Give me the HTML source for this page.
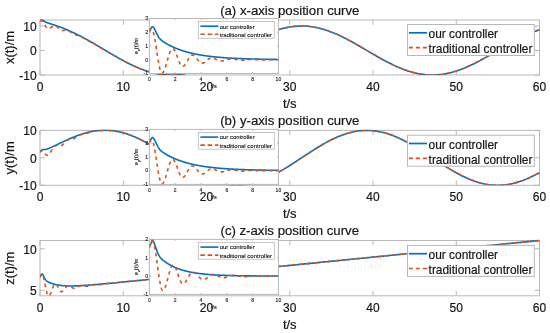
<!DOCTYPE html>
<html><head><meta charset="utf-8"><title>position curves</title><style>html,body{margin:0;padding:0;background:#fff;}svg{display:block;}</style></head><body>
<svg width="550" height="333" viewBox="0 0 550 333" font-family='"Liberation Sans", Arial, Helvetica, sans-serif'>
<defs><clipPath id="cm0"><rect x="40.00" y="19.00" width="499.50" height="56.00"/></clipPath><clipPath id="ci0"><rect x="149.40" y="18.50" width="129.00" height="55.00"/></clipPath><clipPath id="cm1"><rect x="40.00" y="129.40" width="499.50" height="55.90"/></clipPath><clipPath id="ci1"><rect x="149.40" y="129.40" width="129.00" height="55.00"/></clipPath><clipPath id="cm2"><rect x="40.00" y="239.50" width="499.50" height="56.30"/></clipPath><clipPath id="ci2"><rect x="149.40" y="239.40" width="129.00" height="55.00"/></clipPath></defs>
<rect width="550" height="333" fill="#fff"/>
<rect x="40.00" y="20.00" width="499.50" height="55.00" fill="none" stroke="#b8b8b8" stroke-width="1.00"/>
<path d="M40.00,75.00V70.20M40.00,20.00V24.80M123.25,75.00V70.20M123.25,20.00V24.80M206.50,75.00V70.20M206.50,20.00V24.80M289.75,75.00V70.20M289.75,20.00V24.80M373.00,75.00V70.20M373.00,20.00V24.80M456.25,75.00V70.20M456.25,20.00V24.80M539.50,75.00V70.20M539.50,20.00V24.80M40.00,75.00H44.80M539.50,75.00H534.70M40.00,50.50H44.80M539.50,50.50H534.70M40.00,26.00H44.80M539.50,26.00H534.70" stroke="#b8b8b8" stroke-width="1.00" fill="none"/>
<g clip-path="url(#cm0)">
<polyline points="40.00,20.56 40.17,20.56 40.33,20.54 40.50,20.51 40.67,20.48 40.83,20.43 41.00,20.38 41.17,20.32 41.33,20.27 41.50,20.22 41.66,20.17 41.83,20.15 42.00,20.14 42.16,20.15 42.33,20.18 42.50,20.24 42.66,20.30 42.83,20.36 43.00,20.44 43.16,20.52 43.33,20.61 43.50,20.70 43.66,20.80 43.83,20.90 44.00,21.01 44.16,21.11 44.33,21.22 44.50,21.33 44.66,21.44 44.83,21.55 44.99,21.65 45.16,21.75 45.33,21.85 45.49,21.95 45.66,22.04 45.83,22.13 45.99,22.22 46.16,22.30 46.33,22.38 46.49,22.46 46.66,22.53 46.83,22.61 46.99,22.67 47.16,22.74 47.33,22.80 47.49,22.86 47.66,22.92 47.83,22.98 47.99,23.04 48.16,23.09 48.33,23.15 48.49,23.20 48.66,23.25 48.82,23.31 48.99,23.36 49.16,23.41 49.32,23.46 49.49,23.52 49.66,23.57 49.82,23.62 49.99,23.67 50.16,23.72 50.32,23.77 50.49,23.83 50.66,23.88 50.82,23.93 50.99,23.98 51.16,24.03 51.32,24.09 51.49,24.14 51.66,24.19 51.82,24.24 51.99,24.30 52.15,24.35 52.32,24.40 52.49,24.45 52.65,24.51 52.82,24.56 52.99,24.61 53.15,24.67 53.32,24.72 53.49,24.78 53.65,24.83 53.82,24.89 53.99,24.94 54.15,24.99 54.32,25.05 54.49,25.10 54.65,25.16 54.82,25.22 54.98,25.27 55.15,25.33 55.32,25.38 55.48,25.44 55.65,25.50 55.82,25.55 55.98,25.61 56.15,25.67 56.32,25.72 56.48,25.78 56.65,25.84 56.82,25.89 56.98,25.95 57.15,26.01 57.32,26.07 57.48,26.13 57.65,26.19 57.82,26.24 57.98,26.30 58.15,26.36 58.31,26.42 58.48,26.48 58.65,26.54 58.81,26.60 58.98,26.66 59.15,26.72 59.31,26.78 59.48,26.84 59.65,26.90 59.81,26.96 59.98,27.02 60.15,27.09 60.31,27.15 60.48,27.21 60.65,27.27 60.81,27.33 60.98,27.40 61.15,27.46 61.31,27.52 61.48,27.58 61.64,27.65 61.81,27.71 61.98,27.77 62.14,27.84 62.31,27.90 62.48,27.97 62.64,28.03 62.81,28.10 62.98,28.16 63.14,28.23 63.31,28.29 63.48,28.36 63.64,28.42 63.81,28.49 63.98,28.55 64.14,28.62 64.31,28.69 64.48,28.75 64.64,28.82 64.81,28.89 64.97,28.96 65.14,29.02 65.31,29.09 65.47,29.16 65.64,29.23 65.81,29.30 65.97,29.37 66.14,29.43 66.31,29.50 66.47,29.57 66.64,29.64 66.81,29.71 66.97,29.78 67.14,29.85 67.31,29.92 67.47,29.99 67.64,30.06 67.81,30.13 67.97,30.21 68.14,30.28 68.31,30.35 68.47,30.42 68.64,30.49 68.80,30.57 68.97,30.64 69.14,30.71 69.30,30.78 69.47,30.86 69.64,30.93 69.80,31.00 69.97,31.08 70.14,31.15 70.30,31.23 70.47,31.30 70.64,31.37 70.80,31.45 70.97,31.52 71.14,31.60 71.30,31.67 71.47,31.75 71.64,31.83 71.80,31.90 71.97,31.98 72.13,32.06 72.30,32.13 72.47,32.21 72.63,32.29 72.80,32.36 72.97,32.44 73.13,32.52 73.30,32.60 73.47,32.67 73.63,32.75 73.80,32.83 73.97,32.91 74.13,32.99 74.30,33.07 74.47,33.15 74.63,33.23 74.80,33.31 74.97,33.39 75.13,33.47 75.30,33.55 75.46,33.63 75.63,33.71 75.80,33.79 75.96,33.87 76.13,33.95 76.30,34.03 76.46,34.11 76.63,34.20 76.80,34.28 76.96,34.36 77.13,34.44 77.30,34.52 77.46,34.61 77.63,34.69 77.80,34.77 77.96,34.86 78.13,34.94 78.30,35.02 78.46,35.11 78.63,35.19 78.79,35.28 78.96,35.36 79.13,35.45 79.29,35.53 79.46,35.62 79.63,35.70 79.79,35.79 79.96,35.87 80.13,35.96 80.29,36.04 80.46,36.13 80.63,36.22 80.79,36.30 80.96,36.39 81.13,36.48 81.29,36.56 81.46,36.65 81.62,36.74 81.79,36.82 81.96,36.91 82.12,37.00 82.29,37.09 82.46,37.17 82.62,37.26 82.79,37.35 82.96,37.44 83.12,37.53 83.29,37.62 83.46,37.71 83.62,37.80 83.79,37.89 83.96,37.97 84.12,38.06 84.29,38.15 84.46,38.24 84.62,38.33 84.79,38.42 84.96,38.51 85.12,38.61 85.29,38.70 85.45,38.79 85.62,38.88 85.79,38.97 85.95,39.06 86.12,39.15 86.29,39.24 86.45,39.33 86.62,39.43 86.79,39.52 86.95,39.61 87.12,39.70 87.29,39.80 87.45,39.89 87.62,39.98 87.79,40.07 87.95,40.17 88.12,40.26 88.28,40.35 88.45,40.45 88.62,40.54 88.78,40.63 88.95,40.73 89.12,40.82 89.28,40.91 89.45,41.01 89.62,41.10 89.78,41.20 89.95,41.29 90.12,41.38 90.28,41.48 90.45,41.57 90.62,41.67 90.78,41.76 90.95,41.86 91.12,41.95 91.28,42.05 91.45,42.14 91.62,42.24 91.78,42.34 91.95,42.43 92.11,42.53 92.28,42.62 92.45,42.72 92.61,42.81 92.78,42.91 92.95,43.01 93.11,43.10 93.28,43.20 93.45,43.30 93.61,43.39 93.78,43.49 93.95,43.59 94.11,43.68 94.28,43.78 94.45,43.88 94.61,43.97 94.78,44.07 94.95,44.17 95.11,44.27 95.28,44.36 95.44,44.46 95.61,44.56 95.78,44.66 95.94,44.75 96.11,44.85 96.28,44.95 96.44,45.05 96.61,45.14 96.78,45.24 96.94,45.34 97.11,45.44 97.28,45.54 97.44,45.63 97.61,45.73 97.78,45.83 97.94,45.93 98.11,46.03 98.28,46.13 98.44,46.23 98.61,46.32 98.77,46.42 98.94,46.52 99.11,46.62 99.27,46.72 99.44,46.82 99.61,46.92 99.77,47.02 99.94,47.11 100.11,47.21 100.27,47.31 100.44,47.41 100.61,47.51 100.77,47.61 100.94,47.71 101.11,47.81 101.27,47.91 101.44,48.01 101.61,48.10 101.77,48.20 101.94,48.30 102.10,48.40 102.27,48.50 102.44,48.60 102.60,48.70 102.77,48.80 102.94,48.90 103.10,49.00 103.27,49.10 103.44,49.20 103.60,49.30 103.77,49.40 103.94,49.49 104.10,49.59 104.27,49.69 104.44,49.79 104.60,49.89 104.77,49.99 104.94,50.09 105.10,50.19 105.27,50.29 105.43,50.39 105.60,50.49 105.77,50.59 105.93,50.69 106.10,50.79 106.27,50.89 106.43,50.98 106.60,51.08 106.77,51.18 106.93,51.28 107.10,51.38 107.27,51.48 107.43,51.58 107.60,51.68 107.77,51.78 107.93,51.88 108.10,51.98 108.27,52.07 108.43,52.17 108.60,52.27 108.76,52.37 108.93,52.47 109.10,52.57 109.26,52.67 109.43,52.77 109.60,52.86 109.76,52.96 109.93,53.06 110.10,53.16 110.26,53.26 110.43,53.36 110.60,53.45 110.76,53.55 110.93,53.65 111.10,53.75 111.26,53.85 111.43,53.94 111.59,54.04 111.76,54.14 111.93,54.24 112.09,54.34 112.26,54.43 112.43,54.53 112.59,54.63 112.76,54.73 112.93,54.82 113.09,54.92 113.26,55.02 113.43,55.11 113.59,55.21 113.76,55.31 113.93,55.40 114.09,55.50 114.26,55.60 114.43,55.69 114.59,55.79 114.76,55.89 114.92,55.98 115.09,56.08 115.26,56.18 115.42,56.27 115.59,56.37 115.76,56.46 115.92,56.56 116.09,56.65 116.26,56.75 116.42,56.85 116.59,56.94 116.76,57.04 116.92,57.13 117.09,57.23 117.26,57.32 117.42,57.41 117.59,57.51 117.76,57.60 117.92,57.70 118.09,57.79 118.26,57.89 118.42,57.98 118.59,58.07 118.75,58.17 118.92,58.26 119.09,58.35 119.25,58.45 119.42,58.54 119.59,58.63 119.75,58.73 119.92,58.82 120.09,58.91 120.25,59.00 120.42,59.10 120.59,59.19 120.75,59.28 120.92,59.37 121.09,59.46 121.25,59.56 121.42,59.65 121.59,59.74 121.75,59.83 121.92,59.92 122.08,60.01 122.25,60.10 122.42,60.19 122.58,60.28 122.75,60.37 122.92,60.46 123.08,60.55 123.25,60.64 123.42,60.73 123.58,60.82 123.75,60.91 123.92,61.00 124.08,61.09 124.25,61.18 124.42,61.27 124.58,61.35 124.75,61.44 124.92,61.53 125.08,61.62 125.25,61.71 125.41,61.79 125.58,61.88 125.75,61.97 125.91,62.05 126.08,62.14 126.25,62.23 126.41,62.31 126.58,62.40 126.75,62.49 126.91,62.57 127.08,62.66 127.25,62.74 127.41,62.83 127.58,62.91 127.75,63.00 127.91,63.08 128.08,63.17 128.25,63.25 128.41,63.33 128.58,63.42 128.74,63.50 128.91,63.58 129.08,63.67 129.24,63.75 129.41,63.83 129.58,63.91 129.74,64.00 129.91,64.08 130.08,64.16 130.24,64.24 130.41,64.32 130.58,64.40 130.74,64.48 130.91,64.57 131.08,64.65 131.24,64.73 131.41,64.81 131.57,64.89 131.74,64.96 131.91,65.04 132.07,65.12 132.24,65.20 132.41,65.28 132.57,65.36 132.74,65.44 132.91,65.51 133.07,65.59 133.24,65.67 133.41,65.75 133.57,65.82 133.74,65.90 133.91,65.98 134.07,66.05 134.24,66.13 134.41,66.20 134.57,66.28 134.74,66.35 134.91,66.43 135.07,66.50 135.24,66.58 135.40,66.65 135.57,66.72 135.74,66.80 135.90,66.87 136.07,66.94 136.24,67.02 136.40,67.09 136.57,67.16 136.74,67.23 136.90,67.30 137.07,67.38 137.24,67.45 137.40,67.52 137.57,67.59 137.74,67.66 137.90,67.73 138.07,67.80 138.24,67.87 138.40,67.94 138.57,68.01 138.73,68.07 138.90,68.14 139.07,68.21 139.23,68.28 139.40,68.34 139.57,68.41 139.73,68.48 139.90,68.55 141.56,69.19 143.23,69.81 144.89,70.40 146.56,70.96 148.22,71.48 149.89,71.97 151.55,72.42 153.22,72.84 154.88,73.23 156.55,73.58 158.21,73.89 159.88,74.16 161.54,74.39 163.21,74.59 164.87,74.75 166.54,74.87 168.20,74.95 169.87,74.99 171.53,74.99 173.20,74.95 174.86,74.88 176.53,74.76 178.19,74.61 179.86,74.42 181.52,74.18 183.19,73.92 184.85,73.61 186.52,73.27 188.18,72.89 189.85,72.47 191.51,72.02 193.18,71.53 194.84,71.01 196.51,70.46 198.17,69.88 199.84,69.26 201.50,68.62 203.17,67.94 204.83,67.24 206.50,66.51 208.16,65.76 209.83,64.98 211.49,64.18 213.16,63.36 214.82,62.51 216.49,61.65 218.15,60.77 219.82,59.87 221.48,58.96 223.15,58.03 224.81,57.09 226.48,56.14 228.14,55.19 229.81,54.22 231.47,53.25 233.14,52.27 234.80,51.29 236.47,50.31 238.13,49.34 239.80,48.36 241.46,47.38 243.13,46.41 244.79,45.45 246.46,44.50 248.12,43.55 249.79,42.62 251.45,41.70 253.12,40.79 254.78,39.90 256.45,39.02 258.11,38.17 259.78,37.33 261.44,36.51 263.11,35.72 264.77,34.95 266.44,34.21 268.10,33.49 269.77,32.80 271.43,32.13 273.10,31.50 274.76,30.90 276.43,30.33 278.09,29.79 279.76,29.28 281.42,28.81 283.09,28.37 284.75,27.97 286.42,27.60 288.08,27.27 289.75,26.98 291.41,26.72 293.08,26.51 294.74,26.33 296.41,26.19 298.07,26.09 299.74,26.03 301.40,26.00 303.07,26.02 304.73,26.07 306.40,26.17 308.06,26.30 309.73,26.48 311.39,26.69 313.06,26.93 314.72,27.22 316.39,27.55 318.05,27.91 319.72,28.30 321.38,28.73 323.05,29.20 324.71,29.70 326.38,30.24 328.04,30.80 329.71,31.40 331.37,32.03 333.04,32.69 334.70,33.38 336.37,34.09 338.03,34.83 339.70,35.60 341.36,36.39 343.03,37.20 344.69,38.03 346.36,38.89 348.02,39.76 349.69,40.65 351.35,41.55 353.02,42.47 354.68,43.40 356.35,44.35 358.01,45.30 359.68,46.26 361.34,47.23 363.01,48.20 364.67,49.18 366.34,50.16 368.00,51.14 369.67,52.12 371.33,53.09 373.00,54.07 374.66,55.03 376.33,55.99 377.99,56.94 379.66,57.88 381.32,58.81 382.99,59.73 384.65,60.63 386.32,61.51 387.98,62.38 389.65,63.22 391.31,64.05 392.98,64.86 394.64,65.64 396.31,66.40 397.97,67.13 399.64,67.84 401.30,68.51 402.97,69.16 404.63,69.78 406.30,70.37 407.96,70.93 409.63,71.45 411.29,71.94 412.96,72.40 414.62,72.82 416.29,73.21 417.95,73.56 419.62,73.87 421.28,74.15 422.95,74.38 424.61,74.58 426.28,74.74 427.94,74.87 429.61,74.95 431.27,74.99 432.94,75.00 434.60,74.96 436.27,74.89 437.93,74.78 439.60,74.62 441.26,74.43 442.93,74.21 444.59,73.94 446.26,73.64 447.92,73.30 449.59,72.92 451.25,72.51 452.92,72.06 454.58,71.57 456.25,71.06 457.91,70.51 459.58,69.93 461.24,69.31 462.91,68.67 464.57,68.00 466.24,67.30 467.90,66.57 469.57,65.82 471.23,65.04 472.90,64.24 474.56,63.42 476.23,62.58 477.89,61.72 479.56,60.84 481.22,59.94 482.89,59.03 484.55,58.10 486.22,57.17 487.88,56.22 489.55,55.26 491.21,54.30 492.88,53.33 494.54,52.35 496.21,51.37 497.87,50.39 499.54,49.41 501.20,48.44 502.87,47.46 504.53,46.49 506.20,45.53 507.86,44.57 509.53,43.63 511.19,42.69 512.86,41.77 514.52,40.86 516.19,39.97 517.85,39.09 519.52,38.23 521.18,37.40 522.85,36.58 524.51,35.78 526.18,35.01 527.84,34.27 529.51,33.54 531.17,32.85 532.84,32.19 534.50,31.55 536.17,30.94 537.83,30.37 539.50,29.83" fill="none" stroke="#0072BD" stroke-width="1.60" stroke-linejoin="round"/>
<polyline points="40.00,21.05 40.17,20.96 40.33,20.88 40.50,20.80 40.67,20.73 40.83,20.67 41.00,20.62 41.17,20.59 41.33,20.58 41.50,20.58 41.66,20.61 41.83,20.66 42.00,20.74 42.16,20.84 42.33,20.96 42.50,21.10 42.66,21.27 42.83,21.46 43.00,21.66 43.16,21.89 43.33,22.13 43.50,22.38 43.66,22.65 43.83,22.93 44.00,23.22 44.16,23.52 44.33,23.83 44.50,24.14 44.66,24.46 44.83,24.78 44.99,25.09 45.16,25.41 45.33,25.72 45.49,26.02 45.66,26.32 45.83,26.60 45.99,26.88 46.16,27.14 46.33,27.39 46.49,27.62 46.66,27.83 46.83,28.03 46.99,28.20 47.16,28.36 47.33,28.49 47.49,28.60 47.66,28.69 47.83,28.76 47.99,28.80 48.16,28.82 48.33,28.83 48.49,28.82 48.66,28.81 48.82,28.78 48.99,28.74 49.16,28.69 49.32,28.63 49.49,28.55 49.66,28.47 49.82,28.38 49.99,28.29 50.16,28.18 50.32,28.07 50.49,27.95 50.66,27.82 50.82,27.69 50.99,27.56 51.16,27.43 51.32,27.29 51.49,27.15 51.66,27.02 51.82,26.88 51.99,26.75 52.15,26.62 52.32,26.49 52.49,26.37 52.65,26.25 52.82,26.14 52.99,26.04 53.15,25.94 53.32,25.85 53.49,25.78 53.65,25.71 53.82,25.65 53.99,25.61 54.15,25.57 54.32,25.55 54.49,25.54 54.65,25.54 54.82,25.56 54.98,25.59 55.15,25.63 55.32,25.68 55.48,25.74 55.65,25.81 55.82,25.90 55.98,25.99 56.15,26.09 56.32,26.20 56.48,26.32 56.65,26.45 56.82,26.59 56.98,26.73 57.15,26.88 57.32,27.04 57.48,27.20 57.65,27.36 57.82,27.53 57.98,27.70 58.15,27.87 58.31,28.04 58.48,28.21 58.65,28.38 58.81,28.55 58.98,28.72 59.15,28.88 59.31,29.03 59.48,29.19 59.65,29.33 59.81,29.47 59.98,29.60 60.15,29.73 60.31,29.84 60.48,29.95 60.65,30.05 60.81,30.14 60.98,30.22 61.15,30.28 61.31,30.34 61.48,30.39 61.64,30.43 61.81,30.47 61.98,30.50 62.14,30.52 62.31,30.54 62.48,30.55 62.64,30.55 62.81,30.55 62.98,30.54 63.14,30.53 63.31,30.52 63.48,30.50 63.64,30.48 63.81,30.46 63.98,30.43 64.14,30.40 64.31,30.37 64.48,30.34 64.64,30.31 64.81,30.28 64.97,30.26 65.14,30.23 65.31,30.21 65.47,30.19 65.64,30.17 65.81,30.15 65.97,30.15 66.14,30.14 66.31,30.14 66.47,30.15 66.64,30.16 66.81,30.18 66.97,30.20 67.14,30.24 67.31,30.28 67.47,30.32 67.64,30.38 67.81,30.44 67.97,30.50 68.14,30.57 68.31,30.65 68.47,30.73 68.64,30.82 68.80,30.91 68.97,31.00 69.14,31.10 69.30,31.21 69.47,31.31 69.64,31.42 69.80,31.54 69.97,31.66 70.14,31.77 70.30,31.90 70.47,32.02 70.64,32.14 70.80,32.27 70.97,32.40 71.14,32.52 71.30,32.65 71.47,32.77 71.64,32.90 71.80,33.02 71.97,33.14 72.13,33.26 72.30,33.37 72.47,33.49 72.63,33.59 72.80,33.70 72.97,33.80 73.13,33.90 73.30,34.00 73.47,34.09 73.63,34.17 73.80,34.25 73.97,34.33 74.13,34.40 74.30,34.47 74.47,34.53 74.63,34.59 74.80,34.65 74.97,34.71 75.13,34.76 75.30,34.81 75.46,34.86 75.63,34.90 75.80,34.94 75.96,34.98 76.13,35.02 76.30,35.06 76.46,35.10 76.63,35.13 76.80,35.17 76.96,35.20 77.13,35.24 77.30,35.27 77.46,35.31 77.63,35.34 77.80,35.38 77.96,35.42 78.13,35.47 78.30,35.51 78.46,35.56 78.63,35.61 78.79,35.66 78.96,35.72 79.13,35.78 79.29,35.84 79.46,35.91 79.63,35.98 79.79,36.05 79.96,36.13 80.13,36.21 80.29,36.30 80.46,36.38 80.63,36.47 80.79,36.56 80.96,36.65 81.13,36.74 81.29,36.83 81.46,36.93 81.62,37.02 81.79,37.12 81.96,37.22 82.12,37.32 82.29,37.42 82.46,37.53 82.62,37.63 82.79,37.73 82.96,37.84 83.12,37.94 83.29,38.05 83.46,38.16 83.62,38.26 83.79,38.37 83.96,38.47 84.12,38.58 84.29,38.68 84.46,38.79 84.62,38.89 84.79,38.99 84.96,39.10 85.12,39.20 85.29,39.30 85.45,39.39 85.62,39.49 85.79,39.59 85.95,39.68 86.12,39.78 86.29,39.87 86.45,39.96 86.62,40.05 86.79,40.14 86.95,40.22 87.12,40.31 87.29,40.39 87.45,40.48 87.62,40.56 87.79,40.64 87.95,40.72 88.12,40.80 88.28,40.88 88.45,40.96 88.62,41.03 88.78,41.11 88.95,41.19 89.12,41.26 89.28,41.34 89.45,41.41 89.62,41.49 89.78,41.57 89.95,41.64 90.12,41.72 90.28,41.79 90.45,41.87 90.62,41.95 90.78,42.03 90.95,42.11 91.12,42.19 91.28,42.27 91.45,42.35 91.62,42.43 91.78,42.52 91.95,42.60 92.11,42.69 92.28,42.78 92.45,42.87 92.61,42.96 92.78,43.05 92.95,43.14 93.11,43.24 93.28,43.33 93.45,43.43 93.61,43.53 93.78,43.62 93.95,43.72 94.11,43.82 94.28,43.92 94.45,44.02 94.61,44.12 94.78,44.22 94.95,44.33 95.11,44.43 95.28,44.53 95.44,44.64 95.61,44.74 95.78,44.84 95.94,44.95 96.11,45.05 96.28,45.16 96.44,45.26 96.61,45.37 96.78,45.47 96.94,45.58 97.11,45.68 97.28,45.79 97.44,45.89 97.61,45.99 97.78,46.10 97.94,46.20 98.11,46.30 98.28,46.40 98.44,46.50 98.61,46.61 98.77,46.71 98.94,46.81 99.11,46.90 99.27,47.00 99.44,47.10 99.61,47.20 99.77,47.29 99.94,47.39 100.11,47.49 100.27,47.58 100.44,47.68 100.61,47.77 100.77,47.87 100.94,47.96 101.11,48.05 101.27,48.15 101.44,48.24 101.61,48.33 101.77,48.42 101.94,48.52 102.10,48.61 102.27,48.70 102.44,48.79 102.60,48.89 102.77,48.98 102.94,49.07 103.10,49.16 103.27,49.25 103.44,49.35 103.60,49.44 103.77,49.53 103.94,49.63 104.10,49.72 104.27,49.81 104.44,49.91 104.60,50.00 104.77,50.10 104.94,50.19 105.10,50.29 105.27,50.39 105.43,50.48 105.60,50.58 105.77,50.68 105.93,50.78 106.10,50.87 106.27,50.97 106.43,51.07 106.60,51.17 106.77,51.27 106.93,51.37 107.10,51.47 107.27,51.57 107.43,51.67 107.60,51.77 107.77,51.87 107.93,51.97 108.10,52.07 108.27,52.17 108.43,52.27 108.60,52.37 108.76,52.47 108.93,52.57 109.10,52.67 109.26,52.77 109.43,52.87 109.60,52.97 109.76,53.07 109.93,53.17 110.10,53.27 110.26,53.37 110.43,53.47 110.60,53.57 110.76,53.67 110.93,53.77 111.10,53.87 111.26,53.97 111.43,54.07 111.59,54.16 111.76,54.26 111.93,54.36 112.09,54.46 112.26,54.55 112.43,54.65 112.59,54.75 112.76,54.84 112.93,54.94 113.09,55.04 113.26,55.13 113.43,55.23 113.59,55.32 113.76,55.42 113.93,55.51 114.09,55.61 114.26,55.70 114.43,55.80 114.59,55.89 114.76,55.99 114.92,56.08 115.09,56.17 115.26,56.27 115.42,56.36 115.59,56.46 115.76,56.55 115.92,56.64 116.09,56.74 116.26,56.83 116.42,56.92 116.59,57.02 116.76,57.11 116.92,57.20 117.09,57.30 117.26,57.39 117.42,57.48 117.59,57.57 117.76,57.67 117.92,57.76 118.09,57.85 118.26,57.95 118.42,58.04 118.59,58.13 118.75,58.22 118.92,58.32 119.09,58.41 119.25,58.50 119.42,58.59 119.59,58.69 119.75,58.78 119.92,58.87 120.09,58.96 120.25,59.06 120.42,59.15 120.59,59.24 120.75,59.33 120.92,59.42 121.09,59.51 121.25,59.60 121.42,59.69 121.59,59.79 121.75,59.88 121.92,59.97 122.08,60.06 122.25,60.15 122.42,60.24 122.58,60.33 122.75,60.42 122.92,60.51 123.08,60.60 123.25,60.69 123.42,60.77 123.58,60.86 123.75,60.95 123.92,61.04 124.08,61.13 124.25,61.22 124.42,61.31 124.58,61.39 124.75,61.48 124.92,61.57 125.08,61.66 125.25,61.74 125.41,61.83 125.58,61.92 125.75,62.00 125.91,62.09 126.08,62.18 126.25,62.26 126.41,62.35 126.58,62.44 126.75,62.52 126.91,62.61 127.08,62.69 127.25,62.78 127.41,62.86 127.58,62.95 127.75,63.03 127.91,63.11 128.08,63.20 128.25,63.28 128.41,63.37 128.58,63.45 128.74,63.53 128.91,63.62 129.08,63.70 129.24,63.78 129.41,63.86 129.58,63.95 129.74,64.03 129.91,64.11 130.08,64.19 130.24,64.27 130.41,64.35 130.58,64.43 130.74,64.51 130.91,64.60 131.08,64.68 131.24,64.76 131.41,64.84 131.57,64.91 131.74,64.99 131.91,65.07 132.07,65.15 132.24,65.23 132.41,65.31 132.57,65.39 132.74,65.46 132.91,65.54 133.07,65.62 133.24,65.70 133.41,65.77 133.57,65.85 133.74,65.93 133.91,66.00 134.07,66.08 134.24,66.15 134.41,66.23 134.57,66.30 134.74,66.38 134.91,66.45 135.07,66.53 135.24,66.60 135.40,66.68 135.57,66.75 135.74,66.82 135.90,66.90 136.07,66.97 136.24,67.04 136.40,67.11 136.57,67.19 136.74,67.26 136.90,67.33 137.07,67.40 137.24,67.47 137.40,67.54 137.57,67.61 137.74,67.68 137.90,67.75 138.07,67.82 138.24,67.89 138.40,67.96 138.57,68.03 138.73,68.10 138.90,68.16 139.07,68.23 139.23,68.30 139.40,68.37 139.57,68.43 139.73,68.50 139.90,68.57 141.56,69.21 143.23,69.83 144.89,70.42 146.56,70.97 148.22,71.49 149.89,71.98 151.55,72.44 153.22,72.85 154.88,73.24 156.55,73.58 158.21,73.89 159.88,74.17 161.54,74.40 163.21,74.60 164.87,74.75 166.54,74.87 168.20,74.95 169.87,74.99 171.53,75.00 173.20,74.96 174.86,74.88 176.53,74.77 178.19,74.61 179.86,74.42 181.52,74.19 183.19,73.92 184.85,73.61 186.52,73.27 188.18,72.89 189.85,72.47 191.51,72.02 193.18,71.53 194.84,71.01 196.51,70.46 198.17,69.88 199.84,69.26 201.50,68.62 203.17,67.95 204.83,67.24 206.50,66.51 208.16,65.76 209.83,64.98 211.49,64.18 213.16,63.36 214.82,62.51 216.49,61.65 218.15,60.77 219.82,59.87 221.48,58.96 223.15,58.03 224.81,57.09 226.48,56.14 228.14,55.19 229.81,54.22 231.47,53.25 233.14,52.27 234.80,51.29 236.47,50.31 238.13,49.34 239.80,48.36 241.46,47.38 243.13,46.41 244.79,45.45 246.46,44.50 248.12,43.55 249.79,42.62 251.45,41.70 253.12,40.79 254.78,39.90 256.45,39.02 258.11,38.17 259.78,37.33 261.44,36.51 263.11,35.72 264.77,34.95 266.44,34.21 268.10,33.49 269.77,32.80 271.43,32.13 273.10,31.50 274.76,30.90 276.43,30.33 278.09,29.79 279.76,29.28 281.42,28.81 283.09,28.37 284.75,27.97 286.42,27.60 288.08,27.27 289.75,26.98 291.41,26.72 293.08,26.51 294.74,26.33 296.41,26.19 298.07,26.09 299.74,26.03 301.40,26.00 303.07,26.02 304.73,26.07 306.40,26.17 308.06,26.30 309.73,26.48 311.39,26.69 313.06,26.93 314.72,27.22 316.39,27.55 318.05,27.91 319.72,28.30 321.38,28.73 323.05,29.20 324.71,29.70 326.38,30.24 328.04,30.80 329.71,31.40 331.37,32.03 333.04,32.69 334.70,33.38 336.37,34.09 338.03,34.83 339.70,35.60 341.36,36.39 343.03,37.20 344.69,38.03 346.36,38.89 348.02,39.76 349.69,40.65 351.35,41.55 353.02,42.47 354.68,43.40 356.35,44.35 358.01,45.30 359.68,46.26 361.34,47.23 363.01,48.20 364.67,49.18 366.34,50.16 368.00,51.14 369.67,52.12 371.33,53.09 373.00,54.07 374.66,55.03 376.33,55.99 377.99,56.94 379.66,57.88 381.32,58.81 382.99,59.73 384.65,60.63 386.32,61.51 387.98,62.38 389.65,63.22 391.31,64.05 392.98,64.86 394.64,65.64 396.31,66.40 397.97,67.13 399.64,67.84 401.30,68.51 402.97,69.16 404.63,69.78 406.30,70.37 407.96,70.93 409.63,71.45 411.29,71.94 412.96,72.40 414.62,72.82 416.29,73.21 417.95,73.56 419.62,73.87 421.28,74.15 422.95,74.38 424.61,74.58 426.28,74.74 427.94,74.87 429.61,74.95 431.27,74.99 432.94,75.00 434.60,74.96 436.27,74.89 437.93,74.78 439.60,74.62 441.26,74.43 442.93,74.21 444.59,73.94 446.26,73.64 447.92,73.30 449.59,72.92 451.25,72.51 452.92,72.06 454.58,71.57 456.25,71.06 457.91,70.51 459.58,69.93 461.24,69.31 462.91,68.67 464.57,68.00 466.24,67.30 467.90,66.57 469.57,65.82 471.23,65.04 472.90,64.24 474.56,63.42 476.23,62.58 477.89,61.72 479.56,60.84 481.22,59.94 482.89,59.03 484.55,58.10 486.22,57.17 487.88,56.22 489.55,55.26 491.21,54.30 492.88,53.33 494.54,52.35 496.21,51.37 497.87,50.39 499.54,49.41 501.20,48.44 502.87,47.46 504.53,46.49 506.20,45.53 507.86,44.57 509.53,43.63 511.19,42.69 512.86,41.77 514.52,40.86 516.19,39.97 517.85,39.09 519.52,38.23 521.18,37.40 522.85,36.58 524.51,35.78 526.18,35.01 527.84,34.27 529.51,33.54 531.17,32.85 532.84,32.19 534.50,31.55 536.17,30.94 537.83,30.37 539.50,29.83" fill="none" stroke="#D95319" stroke-width="1.60" stroke-dasharray="3.6,3.6"/>
</g>
<g fill="#161616" stroke="#161616" stroke-width="0.20">
<text x="40.00" y="90.90" font-size="12.00" text-anchor="middle">0</text>
<text x="123.25" y="90.90" font-size="12.00" text-anchor="middle">10</text>
<text x="206.50" y="90.90" font-size="12.00" text-anchor="middle">20</text>
<text x="289.75" y="90.90" font-size="12.00" text-anchor="middle">30</text>
<text x="373.00" y="90.90" font-size="12.00" text-anchor="middle">40</text>
<text x="456.25" y="90.90" font-size="12.00" text-anchor="middle">50</text>
<text x="539.50" y="90.90" font-size="12.00" text-anchor="middle">60</text>
<text x="36.60" y="79.70" font-size="12.00" text-anchor="end">-10</text>
<text x="36.60" y="55.20" font-size="12.00" text-anchor="end">0</text>
<text x="36.60" y="30.70" font-size="12.00" text-anchor="end">10</text>
<text x="289.75" y="107.90" font-size="13.00" text-anchor="middle">t/s</text>
<text x="289.75" y="14.60" font-size="13.20" text-anchor="middle">(a) x-axis position curve</text>
<text transform="translate(14.3,47.50) rotate(-90)" font-size="13" text-anchor="middle">x(t)/m</text>
</g>
<rect x="149.40" y="18.50" width="129.00" height="55.00" fill="#fff" stroke="#b8b8b8" stroke-width="1.00"/>
<path d="M149.40,73.50V72.10M149.40,18.50V19.90M175.20,73.50V72.10M175.20,18.50V19.90M201.00,73.50V72.10M201.00,18.50V19.90M226.80,73.50V72.10M226.80,18.50V19.90M252.60,73.50V72.10M252.60,18.50V19.90M278.40,73.50V72.10M278.40,18.50V19.90M149.40,73.50H150.80M278.40,73.50H277.00M149.40,59.75H150.80M278.40,59.75H277.00M149.40,46.00H150.80M278.40,46.00H277.00M149.40,32.25H150.80M278.40,32.25H277.00M149.40,18.50H150.80M278.40,18.50H277.00" stroke="#b8b8b8" stroke-width="1.00" fill="none"/>
<g clip-path="url(#ci0)">
<polyline points="149.40,29.22 149.53,29.21 149.66,29.19 149.79,29.15 149.92,29.10 150.05,29.03 150.17,28.94 150.30,28.84 150.43,28.73 150.56,28.60 150.69,28.46 150.82,28.31 150.95,28.15 151.08,27.99 151.21,27.82 151.34,27.65 151.46,27.49 151.59,27.33 151.72,27.18 151.85,27.05 151.98,26.93 152.11,26.83 152.24,26.75 152.37,26.70 152.50,26.67 152.62,26.68 152.75,26.71 152.88,26.78 153.01,26.89 153.14,27.01 153.27,27.15 153.40,27.29 153.53,27.45 153.66,27.61 153.79,27.79 153.91,27.98 154.04,28.17 154.17,28.38 154.30,28.59 154.43,28.81 154.56,29.04 154.69,29.28 154.82,29.52 154.95,29.77 155.08,30.03 155.21,30.28 155.33,30.55 155.46,30.81 155.59,31.08 155.72,31.36 155.85,31.63 155.98,31.91 156.11,32.18 156.24,32.46 156.37,32.73 156.50,33.00 156.62,33.28 156.75,33.55 156.88,33.81 157.01,34.08 157.14,34.34 157.27,34.59 157.40,34.85 157.53,35.10 157.66,35.34 157.78,35.58 157.91,35.81 158.04,36.04 158.17,36.27 158.30,36.48 158.43,36.70 158.56,36.90 158.69,37.11 158.82,37.30 158.95,37.49 159.07,37.68 159.20,37.86 159.33,38.04 159.46,38.21 159.59,38.37 159.72,38.53 159.85,38.69 159.98,38.84 160.11,38.99 160.24,39.13 160.37,39.27 160.49,39.41 160.62,39.54 160.75,39.66 160.88,39.79 161.01,39.91 161.14,40.03 161.27,40.15 161.40,40.26 161.53,40.37 161.66,40.48 161.78,40.58 161.91,40.69 162.04,40.79 162.17,40.89 162.30,40.99 162.43,41.08 162.56,41.18 162.69,41.27 162.82,41.37 162.94,41.46 163.07,41.55 163.20,41.64 163.33,41.72 163.46,41.81 163.59,41.90 163.72,41.98 163.85,42.07 163.98,42.15 164.11,42.24 164.24,42.32 164.36,42.40 164.49,42.48 164.62,42.56 164.75,42.64 164.88,42.72 165.01,42.80 165.14,42.88 165.27,42.96 165.40,43.03 165.53,43.11 165.65,43.19 165.78,43.27 165.91,43.34 166.04,43.42 166.17,43.49 166.30,43.57 166.43,43.64 166.56,43.72 166.69,43.79 166.81,43.86 166.94,43.94 167.07,44.01 167.20,44.08 167.33,44.15 167.46,44.22 167.59,44.30 167.72,44.37 167.85,44.44 167.98,44.51 168.10,44.58 168.23,44.65 168.36,44.72 168.49,44.79 168.62,44.85 168.75,44.92 168.88,44.99 169.01,45.06 169.14,45.13 169.27,45.19 169.40,45.26 169.52,45.33 169.65,45.39 169.78,45.46 169.91,45.52 170.04,45.59 170.17,45.65 170.30,45.72 170.43,45.78 170.56,45.85 170.69,45.91 170.81,45.97 170.94,46.04 171.07,46.10 171.20,46.16 171.33,46.23 171.46,46.29 171.59,46.35 171.72,46.41 171.85,46.47 171.97,46.53 172.10,46.59 172.23,46.65 172.36,46.71 172.49,46.77 172.62,46.83 172.75,46.89 172.88,46.95 173.01,47.01 173.14,47.07 173.26,47.13 173.39,47.19 173.52,47.24 173.65,47.30 173.78,47.36 173.91,47.41 174.04,47.47 174.17,47.53 174.30,47.58 174.43,47.64 174.56,47.69 174.68,47.75 174.81,47.81 174.94,47.86 175.07,47.91 175.20,47.97 175.33,48.02 175.46,48.08 175.59,48.13 175.72,48.18 175.84,48.24 175.97,48.29 176.10,48.34 176.23,48.39 176.36,48.45 176.49,48.50 176.62,48.55 176.75,48.60 176.88,48.65 177.01,48.70 177.13,48.75 177.26,48.80 177.39,48.85 177.52,48.90 177.65,48.95 177.78,49.00 177.91,49.05 178.04,49.10 178.17,49.15 178.30,49.20 178.43,49.25 178.55,49.30 178.68,49.34 178.81,49.39 178.94,49.44 179.07,49.49 179.20,49.53 179.33,49.58 179.46,49.63 179.59,49.67 179.72,49.72 179.84,49.77 179.97,49.81 180.10,49.86 180.23,49.90 180.36,49.95 180.49,49.99 180.62,50.04 180.75,50.08 180.88,50.13 181.00,50.17 181.13,50.22 181.26,50.26 181.39,50.30 181.52,50.35 181.65,50.39 181.78,50.43 181.91,50.48 182.04,50.52 182.17,50.56 182.30,50.60 182.42,50.64 182.55,50.69 182.68,50.73 182.81,50.77 182.94,50.81 183.07,50.85 183.20,50.89 183.33,50.93 183.46,50.97 183.59,51.01 183.71,51.05 183.84,51.09 183.97,51.13 184.10,51.17 184.23,51.21 184.36,51.25 184.49,51.29 184.62,51.33 184.75,51.37 184.88,51.41 185.00,51.44 185.13,51.48 185.26,51.52 185.39,51.56 185.52,51.60 185.65,51.63 185.78,51.67 185.91,51.71 186.04,51.74 186.16,51.78 186.29,51.82 186.42,51.85 186.55,51.89 186.68,51.93 186.81,51.96 186.94,52.00 187.07,52.03 187.20,52.07 187.33,52.10 187.46,52.14 187.58,52.17 187.71,52.21 187.84,52.24 187.97,52.28 188.10,52.31 188.23,52.35 188.36,52.38 188.49,52.41 188.62,52.45 188.75,52.48 188.87,52.52 189.00,52.55 189.13,52.58 189.26,52.61 189.39,52.65 189.52,52.68 189.65,52.71 189.78,52.74 189.91,52.78 190.03,52.81 190.16,52.84 190.29,52.87 190.42,52.90 190.55,52.94 190.68,52.97 190.81,53.00 190.94,53.03 191.07,53.06 191.20,53.09 191.32,53.12 191.45,53.15 191.58,53.18 191.71,53.21 191.84,53.24 191.97,53.27 192.10,53.30 192.23,53.33 192.36,53.36 192.49,53.39 192.62,53.42 192.74,53.45 192.87,53.48 193.00,53.51 193.13,53.53 193.26,53.56 193.39,53.59 193.52,53.62 193.65,53.65 193.78,53.68 193.91,53.70 194.03,53.73 194.16,53.76 194.29,53.79 194.42,53.81 194.55,53.84 194.68,53.87 194.81,53.89 194.94,53.92 195.07,53.95 195.19,53.98 195.32,54.00 195.45,54.03 195.58,54.05 195.71,54.08 195.84,54.11 195.97,54.13 196.10,54.16 196.23,54.18 196.36,54.21 196.48,54.23 196.61,54.26 196.74,54.29 196.87,54.31 197.00,54.34 197.13,54.36 197.26,54.38 197.39,54.41 197.52,54.43 197.65,54.46 197.77,54.48 197.90,54.51 198.03,54.53 198.16,54.55 198.29,54.58 198.42,54.60 198.55,54.63 198.68,54.65 198.81,54.67 198.94,54.70 199.06,54.72 199.19,54.74 199.32,54.77 199.45,54.79 199.58,54.81 199.71,54.83 199.84,54.86 199.97,54.88 200.10,54.90 200.23,54.92 200.35,54.95 200.48,54.97 200.61,54.99 200.74,55.01 200.87,55.03 201.00,55.05 201.13,55.08 201.26,55.10 201.39,55.12 201.52,55.14 201.64,55.16 201.77,55.18 201.90,55.20 202.03,55.22 202.16,55.25 202.29,55.27 202.42,55.29 202.55,55.31 202.68,55.33 202.81,55.35 202.94,55.37 203.06,55.39 203.19,55.41 203.32,55.43 203.45,55.45 203.58,55.47 203.71,55.49 203.84,55.51 203.97,55.53 204.10,55.55 204.22,55.57 204.35,55.58 204.48,55.60 204.61,55.62 204.74,55.64 204.87,55.66 205.00,55.68 205.13,55.70 205.26,55.72 205.39,55.73 205.51,55.75 205.64,55.77 205.77,55.79 205.90,55.81 206.03,55.83 206.16,55.84 206.29,55.86 206.42,55.88 206.55,55.90 206.68,55.92 206.81,55.93 206.93,55.95 207.06,55.97 207.19,55.99 207.32,56.00 207.45,56.02 207.58,56.04 207.71,56.05 207.84,56.07 207.97,56.09 208.09,56.10 208.22,56.12 208.35,56.14 208.48,56.15 208.61,56.17 208.74,56.19 208.87,56.20 209.00,56.22 209.13,56.24 209.26,56.25 209.38,56.27 209.51,56.28 209.64,56.30 209.77,56.32 209.90,56.33 210.03,56.35 210.16,56.36 210.29,56.38 210.42,56.39 210.55,56.41 210.67,56.42 210.80,56.44 210.93,56.46 211.06,56.47 211.19,56.49 211.32,56.50 211.45,56.52 211.58,56.53 211.71,56.55 211.84,56.56 211.97,56.57 212.09,56.59 212.22,56.60 212.35,56.62 212.48,56.63 212.61,56.65 212.74,56.66 212.87,56.67 213.00,56.69 213.13,56.70 213.25,56.72 213.38,56.73 213.51,56.74 213.64,56.76 213.77,56.77 213.90,56.79 214.03,56.80 214.16,56.81 214.29,56.83 214.42,56.84 214.54,56.85 214.67,56.87 214.80,56.88 214.93,56.89 215.06,56.91 215.19,56.92 215.32,56.93 215.45,56.95 215.58,56.96 215.71,56.97 215.83,56.98 215.96,57.00 216.09,57.01 216.22,57.02 216.35,57.03 216.48,57.05 216.61,57.06 216.74,57.07 216.87,57.08 217.00,57.10 217.12,57.11 217.25,57.12 217.38,57.13 217.51,57.14 217.64,57.16 217.77,57.17 217.90,57.18 218.03,57.19 218.16,57.20 218.29,57.22 218.41,57.23 218.54,57.24 218.67,57.25 218.80,57.26 218.93,57.27 219.06,57.28 219.19,57.30 219.32,57.31 219.45,57.32 219.58,57.33 219.70,57.34 219.83,57.35 219.96,57.36 220.09,57.37 220.22,57.38 220.35,57.40 220.48,57.41 220.61,57.42 220.74,57.43 220.87,57.44 220.99,57.45 221.12,57.46 221.25,57.47 221.38,57.48 221.51,57.49 221.64,57.50 221.77,57.51 221.90,57.52 222.03,57.53 222.16,57.54 222.28,57.55 222.41,57.56 222.54,57.57 222.67,57.58 222.80,57.59 222.93,57.60 223.06,57.61 223.19,57.62 223.32,57.63 223.45,57.64 223.57,57.65 223.70,57.66 223.83,57.67 223.96,57.68 224.09,57.69 224.22,57.70 224.35,57.71 224.48,57.72 224.61,57.73 224.74,57.74 224.87,57.75 224.99,57.75 225.12,57.76 225.25,57.77 225.38,57.78 225.51,57.79 225.64,57.80 225.77,57.81 225.90,57.82 226.03,57.83 226.15,57.84 226.28,57.84 226.41,57.85 226.54,57.86 226.67,57.87 226.80,57.88 226.93,57.89 227.06,57.90 227.19,57.90 227.32,57.91 227.44,57.92 227.57,57.93 227.70,57.94 227.83,57.95 227.96,57.95 228.09,57.96 228.22,57.97 228.35,57.98 228.48,57.99 228.61,58.00 228.73,58.00 228.86,58.01 228.99,58.02 229.12,58.03 229.25,58.04 229.38,58.04 229.51,58.05 229.64,58.06 229.77,58.07 229.90,58.07 230.02,58.08 230.15,58.09 230.28,58.10 230.41,58.11 230.54,58.11 230.67,58.12 230.80,58.13 230.93,58.14 231.06,58.14 231.19,58.15 231.31,58.16 231.44,58.16 231.57,58.17 231.70,58.18 231.83,58.19 231.96,58.19 232.09,58.20 232.22,58.21 232.35,58.21 232.48,58.22 232.60,58.23 232.73,58.24 232.86,58.24 232.99,58.25 233.12,58.26 233.25,58.26 233.38,58.27 233.51,58.28 233.64,58.28 233.77,58.29 233.89,58.30 234.02,58.30 234.15,58.31 234.28,58.32 234.41,58.32 234.54,58.33 234.67,58.34 234.80,58.34 234.93,58.35 235.06,58.36 235.19,58.36 235.31,58.37 235.44,58.38 235.57,58.38 235.70,58.39 235.83,58.39 235.96,58.40 236.09,58.41 236.22,58.41 236.35,58.42 236.47,58.42 236.60,58.43 236.73,58.44 236.86,58.44 236.99,58.45 237.12,58.46 237.25,58.46 237.38,58.47 237.51,58.47 237.64,58.48 237.76,58.48 237.89,58.49 238.02,58.50 238.15,58.50 238.28,58.51 238.41,58.51 238.54,58.52 238.67,58.52 238.80,58.53 238.93,58.54 239.06,58.54 239.18,58.55 239.31,58.55 239.44,58.56 239.57,58.56 239.70,58.57 239.83,58.57 239.96,58.58 240.09,58.59 240.22,58.59 240.34,58.60 240.47,58.60 240.60,58.61 240.73,58.61 240.86,58.62 240.99,58.62 241.12,58.63 241.25,58.63 241.38,58.64 241.51,58.64 241.63,58.65 241.76,58.65 241.89,58.66 242.02,58.66 242.15,58.67 242.28,58.67 242.41,58.68 242.54,58.68 242.67,58.69 242.80,58.69 242.92,58.70 243.05,58.70 243.18,58.71 243.31,58.71 243.44,58.72 243.57,58.72 243.70,58.73 243.83,58.73 243.96,58.74 244.09,58.74 244.22,58.74 244.34,58.75 244.47,58.75 244.60,58.76 244.73,58.76 244.86,58.77 244.99,58.77 245.12,58.78 245.25,58.78 245.38,58.79 245.50,58.79 245.63,58.79 245.76,58.80 245.89,58.80 246.02,58.81 246.15,58.81 246.28,58.82 246.41,58.82 246.54,58.82 246.67,58.83 246.79,58.83 246.92,58.84 247.05,58.84 247.18,58.85 247.31,58.85 247.44,58.85 247.57,58.86 247.70,58.86 247.83,58.87 247.96,58.87 248.08,58.87 248.21,58.88 248.34,58.88 248.47,58.89 248.60,58.89 248.73,58.89 248.86,58.90 248.99,58.90 249.12,58.91 249.25,58.91 249.38,58.91 249.50,58.92 249.63,58.92 249.76,58.92 249.89,58.93 250.02,58.93 250.15,58.94 250.28,58.94 250.41,58.94 250.54,58.95 250.66,58.95 250.79,58.95 250.92,58.96 251.05,58.96 251.18,58.97 251.31,58.97 251.44,58.97 251.57,58.98 251.70,58.98 251.83,58.98 251.95,58.99 252.08,58.99 252.21,58.99 252.34,59.00 252.47,59.00 252.60,59.00 252.73,59.01 252.86,59.01 252.99,59.01 253.12,59.02 253.25,59.02 253.37,59.02 253.50,59.03 253.63,59.03 253.76,59.03 253.89,59.04 254.02,59.04 254.15,59.04 254.28,59.05 254.41,59.05 254.53,59.05 254.66,59.06 254.79,59.06 254.92,59.06 255.05,59.07 255.18,59.07 255.31,59.07 255.44,59.08 255.57,59.08 255.70,59.08 255.82,59.09 255.95,59.09 256.08,59.09 256.21,59.09 256.34,59.10 256.47,59.10 256.60,59.10 256.73,59.11 256.86,59.11 256.99,59.11 257.12,59.12 257.24,59.12 257.37,59.12 257.50,59.12 257.63,59.13 257.76,59.13 257.89,59.13 258.02,59.14 258.15,59.14 258.28,59.14 258.40,59.14 258.53,59.15 258.66,59.15 258.79,59.15 258.92,59.15 259.05,59.16 259.18,59.16 259.31,59.16 259.44,59.17 259.57,59.17 259.69,59.17 259.82,59.17 259.95,59.18 260.08,59.18 260.21,59.18 260.34,59.18 260.47,59.19 260.60,59.19 260.73,59.19 260.86,59.19 260.99,59.20 261.11,59.20 261.24,59.20 261.37,59.20 261.50,59.21 261.63,59.21 261.76,59.21 261.89,59.21 262.02,59.22 262.15,59.22 262.27,59.22 262.40,59.22 262.53,59.23 262.66,59.23 262.79,59.23 262.92,59.23 263.05,59.24 263.18,59.24 263.31,59.24 263.44,59.24 263.56,59.25 263.69,59.25 263.82,59.25 263.95,59.25 264.08,59.25 264.21,59.26 264.34,59.26 264.47,59.26 264.60,59.26 264.73,59.27 264.86,59.27 264.98,59.27 265.11,59.27 265.24,59.27 265.37,59.28 265.50,59.28 265.63,59.28 265.76,59.28 265.89,59.29 266.02,59.29 266.14,59.29 266.27,59.29 266.40,59.29 266.53,59.30 266.66,59.30 266.79,59.30 266.92,59.30 267.05,59.30 267.18,59.31 267.31,59.31 267.44,59.31 267.56,59.31 267.69,59.31 267.82,59.32 267.95,59.32 268.08,59.32 268.21,59.32 268.34,59.32 268.47,59.33 268.60,59.33 268.72,59.33 268.85,59.33 268.98,59.33 269.11,59.34 269.24,59.34 269.37,59.34 269.50,59.34 269.63,59.34 269.76,59.35 269.89,59.35 270.01,59.35 270.14,59.35 270.27,59.35 270.40,59.35 270.53,59.36 270.66,59.36 270.79,59.36 270.92,59.36 271.05,59.36 271.18,59.37 271.31,59.37 271.43,59.37 271.56,59.37 271.69,59.37 271.82,59.37 271.95,59.38 272.08,59.38 272.21,59.38 272.34,59.38 272.47,59.38 272.59,59.38 272.72,59.39 272.85,59.39 272.98,59.39 273.11,59.39 273.24,59.39 273.37,59.39 273.50,59.40 273.63,59.40 273.76,59.40 273.88,59.40 274.01,59.40 274.14,59.40 274.27,59.41 274.40,59.41 274.53,59.41 274.66,59.41 274.79,59.41 274.92,59.41 275.05,59.42 275.17,59.42 275.30,59.42 275.43,59.42 275.56,59.42 275.69,59.42 275.82,59.42 275.95,59.43 276.08,59.43 276.21,59.43 276.34,59.43 276.46,59.43 276.59,59.43 276.72,59.43 276.85,59.44 276.98,59.44 277.11,59.44 277.24,59.44 277.37,59.44 277.50,59.44 277.63,59.44 277.75,59.45 277.88,59.45 278.01,59.45 278.14,59.45 278.27,59.45 278.40,59.45" fill="none" stroke="#0072BD" stroke-width="1.60" stroke-linejoin="round"/>
<polyline points="149.40,31.98 149.53,31.72 149.66,31.47 149.79,31.22 149.92,30.98 150.05,30.75 150.17,30.53 150.30,30.32 150.43,30.12 150.56,29.94 150.69,29.78 150.82,29.64 150.95,29.51 151.08,29.41 151.21,29.33 151.34,29.27 151.46,29.24 151.59,29.22 151.72,29.24 151.85,29.29 151.98,29.38 152.11,29.49 152.24,29.65 152.37,29.83 152.50,30.05 152.62,30.30 152.75,30.58 152.88,30.89 153.01,31.23 153.14,31.61 153.27,32.01 153.40,32.45 153.53,32.91 153.66,33.40 153.79,33.92 153.91,34.46 154.04,35.03 154.17,35.63 154.30,36.25 154.43,36.89 154.56,37.55 154.69,38.24 154.82,38.94 154.95,39.66 155.08,40.41 155.21,41.16 155.33,41.93 155.46,42.72 155.59,43.52 155.72,44.33 155.85,45.15 155.98,45.98 156.11,46.82 156.24,47.67 156.37,48.52 156.50,49.37 156.62,50.23 156.75,51.09 156.88,51.95 157.01,52.80 157.14,53.66 157.27,54.51 157.40,55.35 157.53,56.19 157.66,57.02 157.78,57.84 157.91,58.65 158.04,59.45 158.17,60.24 158.30,61.01 158.43,61.77 158.56,62.51 158.69,63.23 158.82,63.94 158.95,64.62 159.07,65.29 159.20,65.93 159.33,66.55 159.46,67.14 159.59,67.71 159.72,68.26 159.85,68.77 159.98,69.27 160.11,69.73 160.24,70.16 160.37,70.57 160.49,70.94 160.62,71.29 160.75,71.60 160.88,71.88 161.01,72.13 161.14,72.35 161.27,72.53 161.40,72.68 161.53,72.80 161.66,72.88 161.78,72.93 161.91,72.95 162.04,72.94 162.17,72.92 162.30,72.87 162.43,72.81 162.56,72.73 162.69,72.64 162.82,72.53 162.94,72.40 163.07,72.25 163.20,72.09 163.33,71.91 163.46,71.72 163.59,71.51 163.72,71.28 163.85,71.04 163.98,70.79 164.11,70.52 164.24,70.23 164.36,69.94 164.49,69.63 164.62,69.30 164.75,68.97 164.88,68.62 165.01,68.27 165.14,67.90 165.27,67.52 165.40,67.13 165.53,66.73 165.65,66.33 165.78,65.91 165.91,65.49 166.04,65.06 166.17,64.63 166.30,64.19 166.43,63.74 166.56,63.30 166.69,62.84 166.81,62.39 166.94,61.93 167.07,61.47 167.20,61.01 167.33,60.55 167.46,60.09 167.59,59.63 167.72,59.17 167.85,58.72 167.98,58.27 168.10,57.82 168.23,57.37 168.36,56.93 168.49,56.50 168.62,56.07 168.75,55.65 168.88,55.24 169.01,54.83 169.14,54.43 169.27,54.04 169.40,53.67 169.52,53.30 169.65,52.94 169.78,52.59 169.91,52.26 170.04,51.94 170.17,51.63 170.30,51.33 170.43,51.05 170.56,50.78 170.69,50.52 170.81,50.28 170.94,50.06 171.07,49.85 171.20,49.65 171.33,49.47 171.46,49.31 171.59,49.17 171.72,49.04 171.85,48.92 171.97,48.83 172.10,48.75 172.23,48.69 172.36,48.65 172.49,48.62 172.62,48.61 172.75,48.62 172.88,48.64 173.01,48.68 173.14,48.73 173.26,48.80 173.39,48.88 173.52,48.97 173.65,49.08 173.78,49.21 173.91,49.35 174.04,49.50 174.17,49.66 174.30,49.84 174.43,50.03 174.56,50.23 174.68,50.45 174.81,50.68 174.94,50.92 175.07,51.17 175.20,51.43 175.33,51.70 175.46,51.98 175.59,52.27 175.72,52.57 175.84,52.87 175.97,53.19 176.10,53.51 176.23,53.84 176.36,54.17 176.49,54.51 176.62,54.86 176.75,55.21 176.88,55.56 177.01,55.92 177.13,56.28 177.26,56.64 177.39,57.00 177.52,57.37 177.65,57.73 177.78,58.10 177.91,58.46 178.04,58.82 178.17,59.18 178.30,59.54 178.43,59.89 178.55,60.24 178.68,60.59 178.81,60.93 178.94,61.26 179.07,61.59 179.20,61.91 179.33,62.23 179.46,62.53 179.59,62.83 179.72,63.12 179.84,63.40 179.97,63.67 180.10,63.93 180.23,64.18 180.36,64.42 180.49,64.65 180.62,64.87 180.75,65.07 180.88,65.26 181.00,65.44 181.13,65.60 181.26,65.75 181.39,65.89 181.52,66.02 181.65,66.13 181.78,66.22 181.91,66.30 182.04,66.37 182.17,66.42 182.30,66.46 182.42,66.48 182.55,66.49 182.68,66.48 182.81,66.47 182.94,66.44 183.07,66.41 183.20,66.37 183.33,66.31 183.46,66.25 183.59,66.18 183.71,66.10 183.84,66.01 183.97,65.91 184.10,65.80 184.23,65.68 184.36,65.56 184.49,65.43 184.62,65.28 184.75,65.14 184.88,64.98 185.00,64.82 185.13,64.65 185.26,64.47 185.39,64.29 185.52,64.10 185.65,63.90 185.78,63.70 185.91,63.50 186.04,63.29 186.16,63.07 186.29,62.86 186.42,62.63 186.55,62.41 186.68,62.18 186.81,61.95 186.94,61.72 187.07,61.49 187.20,61.25 187.33,61.02 187.46,60.78 187.58,60.55 187.71,60.31 187.84,60.08 187.97,59.84 188.10,59.61 188.23,59.38 188.36,59.15 188.49,58.93 188.62,58.71 188.75,58.49 188.87,58.28 189.00,58.07 189.13,57.86 189.26,57.66 189.39,57.47 189.52,57.28 189.65,57.09 189.78,56.92 189.91,56.75 190.03,56.58 190.16,56.43 190.29,56.28 190.42,56.14 190.55,56.00 190.68,55.88 190.81,55.76 190.94,55.65 191.07,55.56 191.20,55.47 191.32,55.38 191.45,55.31 191.58,55.25 191.71,55.20 191.84,55.15 191.97,55.12 192.10,55.09 192.23,55.08 192.36,55.08 192.49,55.08 192.62,55.09 192.74,55.11 192.87,55.13 193.00,55.16 193.13,55.20 193.26,55.24 193.39,55.29 193.52,55.35 193.65,55.42 193.78,55.49 193.91,55.56 194.03,55.65 194.16,55.74 194.29,55.83 194.42,55.93 194.55,56.04 194.68,56.15 194.81,56.26 194.94,56.38 195.07,56.51 195.19,56.64 195.32,56.77 195.45,56.91 195.58,57.05 195.71,57.20 195.84,57.35 195.97,57.50 196.10,57.66 196.23,57.81 196.36,57.97 196.48,58.14 196.61,58.30 196.74,58.46 196.87,58.63 197.00,58.80 197.13,58.96 197.26,59.13 197.39,59.30 197.52,59.47 197.65,59.63 197.77,59.80 197.90,59.96 198.03,60.13 198.16,60.29 198.29,60.45 198.42,60.61 198.55,60.76 198.68,60.91 198.81,61.06 198.94,61.21 199.06,61.35 199.19,61.49 199.32,61.62 199.45,61.75 199.58,61.88 199.71,62.00 199.84,62.12 199.97,62.23 200.10,62.33 200.23,62.43 200.35,62.53 200.48,62.62 200.61,62.70 200.74,62.78 200.87,62.85 201.00,62.91 201.13,62.97 201.26,63.02 201.39,63.06 201.52,63.10 201.64,63.13 201.77,63.16 201.90,63.17 202.03,63.18 202.16,63.19 202.29,63.18 202.42,63.18 202.55,63.16 202.68,63.15 202.81,63.12 202.94,63.10 203.06,63.06 203.19,63.03 203.32,62.98 203.45,62.94 203.58,62.88 203.71,62.83 203.84,62.77 203.97,62.70 204.10,62.63 204.22,62.56 204.35,62.48 204.48,62.40 204.61,62.32 204.74,62.23 204.87,62.14 205.00,62.04 205.13,61.95 205.26,61.85 205.39,61.75 205.51,61.64 205.64,61.53 205.77,61.43 205.90,61.32 206.03,61.20 206.16,61.09 206.29,60.98 206.42,60.86 206.55,60.75 206.68,60.63 206.81,60.52 206.93,60.40 207.06,60.29 207.19,60.17 207.32,60.06 207.45,59.95 207.58,59.83 207.71,59.72 207.84,59.62 207.97,59.51 208.09,59.40 208.22,59.30 208.35,59.20 208.48,59.11 208.61,59.01 208.74,58.92 208.87,58.83 209.00,58.75 209.13,58.67 209.26,58.59 209.38,58.52 209.51,58.45 209.64,58.38 209.77,58.32 209.90,58.27 210.03,58.21 210.16,58.17 210.29,58.12 210.42,58.09 210.55,58.05 210.67,58.03 210.80,58.00 210.93,57.99 211.06,57.97 211.19,57.97 211.32,57.96 211.45,57.96 211.58,57.97 211.71,57.97 211.84,57.98 211.97,57.99 212.09,58.00 212.22,58.02 212.35,58.04 212.48,58.06 212.61,58.08 212.74,58.10 212.87,58.13 213.00,58.16 213.13,58.19 213.25,58.22 213.38,58.25 213.51,58.29 213.64,58.32 213.77,58.36 213.90,58.41 214.03,58.45 214.16,58.49 214.29,58.54 214.42,58.59 214.54,58.63 214.67,58.68 214.80,58.74 214.93,58.79 215.06,58.84 215.19,58.90 215.32,58.95 215.45,59.01 215.58,59.06 215.71,59.12 215.83,59.18 215.96,59.24 216.09,59.30 216.22,59.36 216.35,59.42 216.48,59.48 216.61,59.53 216.74,59.59 216.87,59.65 217.00,59.71 217.12,59.77 217.25,59.83 217.38,59.89 217.51,59.94 217.64,60.00 217.77,60.05 217.90,60.11 218.03,60.16 218.16,60.21 218.29,60.27 218.41,60.32 218.54,60.36 218.67,60.41 218.80,60.46 218.93,60.50 219.06,60.54 219.19,60.59 219.32,60.63 219.45,60.66 219.58,60.70 219.70,60.73 219.83,60.76 219.96,60.79 220.09,60.82 220.22,60.85 220.35,60.87 220.48,60.89 220.61,60.91 220.74,60.93 220.87,60.95 220.99,60.96 221.12,60.97 221.25,60.98 221.38,60.98 221.51,60.99 221.64,60.99 221.77,60.99 221.90,60.98 222.03,60.98 222.16,60.97 222.28,60.96 222.41,60.96 222.54,60.94 222.67,60.93 222.80,60.92 222.93,60.90 223.06,60.88 223.19,60.86 223.32,60.84 223.45,60.82 223.57,60.79 223.70,60.76 223.83,60.74 223.96,60.71 224.09,60.68 224.22,60.65 224.35,60.61 224.48,60.58 224.61,60.54 224.74,60.51 224.87,60.47 224.99,60.43 225.12,60.40 225.25,60.36 225.38,60.32 225.51,60.27 225.64,60.23 225.77,60.19 225.90,60.15 226.03,60.11 226.15,60.06 226.28,60.02 226.41,59.98 226.54,59.93 226.67,59.89 226.80,59.85 226.93,59.81 227.06,59.76 227.19,59.72 227.32,59.68 227.44,59.64 227.57,59.60 227.70,59.56 227.83,59.52 227.96,59.48 228.09,59.44 228.22,59.40 228.35,59.37 228.48,59.33 228.61,59.30 228.73,59.27 228.86,59.23 228.99,59.20 229.12,59.18 229.25,59.15 229.38,59.12 229.51,59.10 229.64,59.07 229.77,59.05 229.90,59.03 230.02,59.01 230.15,59.00 230.28,58.98 230.41,58.97 230.54,58.96 230.67,58.95 230.80,58.94 230.93,58.93 231.06,58.93 231.19,58.93 231.31,58.92 231.44,58.93 231.57,58.93 231.70,58.93 231.83,58.93 231.96,58.94 232.09,58.94 232.22,58.95 232.35,58.96 232.48,58.97 232.60,58.97 232.73,58.98 232.86,59.00 232.99,59.01 233.12,59.02 233.25,59.04 233.38,59.05 233.51,59.07 233.64,59.08 233.77,59.10 233.89,59.12 234.02,59.13 234.15,59.15 234.28,59.17 234.41,59.19 234.54,59.22 234.67,59.24 234.80,59.26 234.93,59.28 235.06,59.30 235.19,59.33 235.31,59.35 235.44,59.38 235.57,59.40 235.70,59.43 235.83,59.45 235.96,59.48 236.09,59.50 236.22,59.53 236.35,59.55 236.47,59.58 236.60,59.60 236.73,59.63 236.86,59.65 236.99,59.68 237.12,59.71 237.25,59.73 237.38,59.76 237.51,59.78 237.64,59.80 237.76,59.83 237.89,59.85 238.02,59.87 238.15,59.90 238.28,59.92 238.41,59.94 238.54,59.96 238.67,59.98 238.80,60.00 238.93,60.02 239.06,60.04 239.18,60.06 239.31,60.07 239.44,60.09 239.57,60.11 239.70,60.12 239.83,60.14 239.96,60.15 240.09,60.16 240.22,60.17 240.34,60.18 240.47,60.19 240.60,60.20 240.73,60.21 240.86,60.21 240.99,60.22 241.12,60.22 241.25,60.23 241.38,60.23 241.51,60.23 241.63,60.23 241.76,60.23 241.89,60.23 242.02,60.23 242.15,60.23 242.28,60.22 242.41,60.22 242.54,60.22 242.67,60.21 242.80,60.20 242.92,60.20 243.05,60.19 243.18,60.18 243.31,60.18 243.44,60.17 243.57,60.16 243.70,60.15 243.83,60.14 243.96,60.13 244.09,60.12 244.22,60.11 244.34,60.09 244.47,60.08 244.60,60.07 244.73,60.06 244.86,60.04 244.99,60.03 245.12,60.01 245.25,60.00 245.38,59.98 245.50,59.97 245.63,59.95 245.76,59.94 245.89,59.92 246.02,59.91 246.15,59.89 246.28,59.88 246.41,59.86 246.54,59.85 246.67,59.83 246.79,59.81 246.92,59.80 247.05,59.78 247.18,59.77 247.31,59.75 247.44,59.74 247.57,59.72 247.70,59.71 247.83,59.69 247.96,59.68 248.08,59.66 248.21,59.65 248.34,59.64 248.47,59.62 248.60,59.61 248.73,59.60 248.86,59.59 248.99,59.58 249.12,59.57 249.25,59.56 249.38,59.55 249.50,59.54 249.63,59.53 249.76,59.52 249.89,59.51 250.02,59.51 250.15,59.50 250.28,59.50 250.41,59.49 250.54,59.49 250.66,59.48 250.79,59.48 250.92,59.48 251.05,59.48 251.18,59.48 251.31,59.48 251.44,59.48 251.57,59.48 251.70,59.48 251.83,59.48 251.95,59.48 252.08,59.48 252.21,59.48 252.34,59.49 252.47,59.49 252.60,59.49 252.73,59.49 252.86,59.50 252.99,59.50 253.12,59.51 253.25,59.51 253.37,59.51 253.50,59.52 253.63,59.52 253.76,59.53 253.89,59.54 254.02,59.54 254.15,59.55 254.28,59.55 254.41,59.56 254.53,59.57 254.66,59.57 254.79,59.58 254.92,59.59 255.05,59.59 255.18,59.60 255.31,59.61 255.44,59.62 255.57,59.63 255.70,59.63 255.82,59.64 255.95,59.65 256.08,59.66 256.21,59.67 256.34,59.67 256.47,59.68 256.60,59.69 256.73,59.70 256.86,59.71 256.99,59.71 257.12,59.72 257.24,59.73 257.37,59.74 257.50,59.74 257.63,59.75 257.76,59.76 257.89,59.77 258.02,59.77 258.15,59.78 258.28,59.79 258.40,59.80 258.53,59.80 258.66,59.81 258.79,59.82 258.92,59.82 259.05,59.83 259.18,59.83 259.31,59.84 259.44,59.84 259.57,59.85 259.69,59.85 259.82,59.86 259.95,59.86 260.08,59.87 260.21,59.87 260.34,59.87 260.47,59.87 260.60,59.88 260.73,59.88 260.86,59.88 260.99,59.88 261.11,59.88 261.24,59.89 261.37,59.89 261.50,59.89 261.63,59.89 261.76,59.89 261.89,59.89 262.02,59.89 262.15,59.89 262.27,59.89 262.40,59.88 262.53,59.88 262.66,59.88 262.79,59.88 262.92,59.88 263.05,59.88 263.18,59.88 263.31,59.87 263.44,59.87 263.56,59.87 263.69,59.87 263.82,59.87 263.95,59.86 264.08,59.86 264.21,59.86 264.34,59.85 264.47,59.85 264.60,59.85 264.73,59.84 264.86,59.84 264.98,59.84 265.11,59.83 265.24,59.83 265.37,59.83 265.50,59.82 265.63,59.82 265.76,59.82 265.89,59.81 266.02,59.81 266.14,59.80 266.27,59.80 266.40,59.80 266.53,59.79 266.66,59.79 266.79,59.78 266.92,59.78 267.05,59.78 267.18,59.77 267.31,59.77 267.44,59.76 267.56,59.76 267.69,59.76 267.82,59.75 267.95,59.75 268.08,59.74 268.21,59.74 268.34,59.74 268.47,59.73 268.60,59.73 268.72,59.73 268.85,59.72 268.98,59.72 269.11,59.72 269.24,59.71 269.37,59.71 269.50,59.71 269.63,59.71 269.76,59.70 269.89,59.70 270.01,59.70 270.14,59.70 270.27,59.69 270.40,59.69 270.53,59.69 270.66,59.69 270.79,59.69 270.92,59.69 271.05,59.69 271.18,59.68 271.31,59.68 271.43,59.68 271.56,59.68 271.69,59.68 271.82,59.68 271.95,59.68 272.08,59.68 272.21,59.68 272.34,59.68 272.47,59.68 272.59,59.68 272.72,59.68 272.85,59.68 272.98,59.68 273.11,59.68 273.24,59.68 273.37,59.68 273.50,59.68 273.63,59.68 273.76,59.68 273.88,59.68 274.01,59.68 274.14,59.68 274.27,59.68 274.40,59.68 274.53,59.68 274.66,59.68 274.79,59.68 274.92,59.68 275.05,59.68 275.17,59.68 275.30,59.68 275.43,59.68 275.56,59.68 275.69,59.68 275.82,59.68 275.95,59.68 276.08,59.68 276.21,59.68 276.34,59.68 276.46,59.68 276.59,59.68 276.72,59.68 276.85,59.69 276.98,59.69 277.11,59.69 277.24,59.69 277.37,59.69 277.50,59.69 277.63,59.69 277.75,59.69 277.88,59.69 278.01,59.69 278.14,59.69 278.27,59.69 278.40,59.69" fill="none" stroke="#D95319" stroke-width="1.60" stroke-dasharray="3.4,3.6"/>
</g>
<g fill="#161616" stroke="#161616" stroke-width="0.12">
<text x="149.40" y="81.00" font-size="5.00" text-anchor="middle">0</text>
<text x="175.20" y="81.00" font-size="5.00" text-anchor="middle">2</text>
<text x="201.00" y="81.00" font-size="5.00" text-anchor="middle">4</text>
<text x="226.80" y="81.00" font-size="5.00" text-anchor="middle">6</text>
<text x="252.60" y="81.00" font-size="5.00" text-anchor="middle">8</text>
<text x="278.40" y="81.00" font-size="5.00" text-anchor="middle">10</text>
<text x="148.10" y="75.30" font-size="5.20" text-anchor="end">-1</text>
<text x="148.10" y="61.55" font-size="5.20" text-anchor="end">0</text>
<text x="148.10" y="47.80" font-size="5.20" text-anchor="end">1</text>
<text x="148.10" y="34.05" font-size="5.20" text-anchor="end">2</text>
<text x="148.10" y="20.30" font-size="5.20" text-anchor="end">3</text>
<text x="213.90" y="88.20" font-size="5.50" text-anchor="middle">t/s</text>
<text transform="translate(138.1,46.00) rotate(-90)" font-size="5.6" text-anchor="middle">e<tspan font-size="3.8" dy="1.4">x</tspan><tspan dy="-1.4">(t)/m</tspan></text>
</g>
<rect x="198.3" y="21.50" width="76.00" height="16.80" fill="#fff" stroke="#b8b8b8" stroke-width="0.8"/>
<path d="M200.4,26.20H218.4" stroke="#0072BD" stroke-width="1.60"/>
<path d="M200.4,34.20H218.4" stroke="#D95319" stroke-width="1.60" stroke-dasharray="4.5,2.8"/>
<g fill="#161616" stroke="#161616" stroke-width="0.12">
<text x="219.70" y="28.50" font-size="6.00" text-anchor="start">our controller</text>
<text x="219.70" y="36.60" font-size="6.00" text-anchor="start">traditional controller</text>
</g>
<rect x="407.5" y="24.50" width="126.80" height="31.0" fill="#fff" stroke="#b8b8b8" stroke-width="1.00"/>
<path d="M408.9,32.80H427" stroke="#0072BD" stroke-width="1.7"/>
<path d="M408.9,47.60H427" stroke="#D95319" stroke-width="1.7" stroke-dasharray="4,3"/>
<g fill="#161616" stroke="#161616" stroke-width="0.20">
<text x="428.60" y="37.80" font-size="11.90" text-anchor="start">our controller</text>
<text x="428.60" y="52.80" font-size="11.90" text-anchor="start">traditional controller</text>
</g>
<rect x="40.00" y="130.40" width="499.50" height="54.90" fill="none" stroke="#b8b8b8" stroke-width="1.00"/>
<path d="M40.00,185.30V180.50M40.00,130.40V135.20M123.25,185.30V180.50M123.25,130.40V135.20M206.50,185.30V180.50M206.50,130.40V135.20M289.75,185.30V180.50M289.75,130.40V135.20M373.00,185.30V180.50M373.00,130.40V135.20M456.25,185.30V180.50M456.25,130.40V135.20M539.50,185.30V180.50M539.50,130.40V135.20M40.00,185.30H44.80M539.50,185.30H534.70M40.00,157.85H44.80M539.50,157.85H534.70M40.00,130.40H44.80M539.50,130.40H534.70" stroke="#b8b8b8" stroke-width="1.00" fill="none"/>
<g clip-path="url(#cm1)">
<polyline points="40.00,151.75 40.17,151.64 40.33,151.51 40.50,151.37 40.67,151.22 40.83,151.05 41.00,150.88 41.17,150.71 41.33,150.53 41.50,150.36 41.66,150.20 41.83,150.05 42.00,149.93 42.16,149.83 42.33,149.75 42.50,149.69 42.66,149.65 42.83,149.60 43.00,149.57 43.16,149.55 43.33,149.53 43.50,149.51 43.66,149.50 43.83,149.50 44.00,149.50 44.16,149.50 44.33,149.50 44.50,149.50 44.66,149.50 44.83,149.49 44.99,149.49 45.16,149.48 45.33,149.47 45.49,149.46 45.66,149.44 45.83,149.42 45.99,149.39 46.16,149.36 46.33,149.32 46.49,149.28 46.66,149.24 46.83,149.19 46.99,149.14 47.16,149.09 47.33,149.03 47.49,148.98 47.66,148.91 47.83,148.85 47.99,148.79 48.16,148.72 48.33,148.65 48.49,148.58 48.66,148.51 48.82,148.44 48.99,148.37 49.16,148.30 49.32,148.22 49.49,148.15 49.66,148.07 49.82,148.00 49.99,147.93 50.16,147.85 50.32,147.77 50.49,147.70 50.66,147.62 50.82,147.55 50.99,147.47 51.16,147.39 51.32,147.32 51.49,147.24 51.66,147.16 51.82,147.09 51.99,147.01 52.15,146.93 52.32,146.86 52.49,146.78 52.65,146.70 52.82,146.62 52.99,146.54 53.15,146.47 53.32,146.39 53.49,146.31 53.65,146.23 53.82,146.15 53.99,146.07 54.15,146.00 54.32,145.92 54.49,145.84 54.65,145.76 54.82,145.68 54.98,145.60 55.15,145.52 55.32,145.44 55.48,145.36 55.65,145.28 55.82,145.21 55.98,145.13 56.15,145.05 56.32,144.97 56.48,144.89 56.65,144.81 56.82,144.73 56.98,144.65 57.15,144.57 57.32,144.49 57.48,144.41 57.65,144.33 57.82,144.25 57.98,144.17 58.15,144.09 58.31,144.01 58.48,143.93 58.65,143.85 58.81,143.77 58.98,143.69 59.15,143.61 59.31,143.54 59.48,143.46 59.65,143.38 59.81,143.30 59.98,143.22 60.15,143.14 60.31,143.06 60.48,142.98 60.65,142.90 60.81,142.82 60.98,142.74 61.15,142.66 61.31,142.58 61.48,142.50 61.64,142.43 61.81,142.35 61.98,142.27 62.14,142.19 62.31,142.11 62.48,142.03 62.64,141.95 62.81,141.88 62.98,141.80 63.14,141.72 63.31,141.64 63.48,141.56 63.64,141.49 63.81,141.41 63.98,141.33 64.14,141.25 64.31,141.17 64.48,141.10 64.64,141.02 64.81,140.94 64.97,140.87 65.14,140.79 65.31,140.71 65.47,140.64 65.64,140.56 65.81,140.48 65.97,140.41 66.14,140.33 66.31,140.25 66.47,140.18 66.64,140.10 66.81,140.03 66.97,139.95 67.14,139.88 67.31,139.80 67.47,139.73 67.64,139.65 67.81,139.58 67.97,139.50 68.14,139.43 68.31,139.35 68.47,139.28 68.64,139.21 68.80,139.13 68.97,139.06 69.14,138.99 69.30,138.91 69.47,138.84 69.64,138.77 69.80,138.70 69.97,138.62 70.14,138.55 70.30,138.48 70.47,138.41 70.64,138.34 70.80,138.26 70.97,138.19 71.14,138.12 71.30,138.05 71.47,137.98 71.64,137.91 71.80,137.84 71.97,137.77 72.13,137.70 72.30,137.63 72.47,137.56 72.63,137.49 72.80,137.43 72.97,137.36 73.13,137.29 73.30,137.22 73.47,137.15 73.63,137.09 73.80,137.02 73.97,136.95 74.13,136.88 74.30,136.82 74.47,136.75 74.63,136.69 74.80,136.62 74.97,136.55 75.13,136.49 75.30,136.42 75.46,136.36 75.63,136.29 75.80,136.23 75.96,136.17 76.13,136.10 76.30,136.04 76.46,135.98 76.63,135.91 76.80,135.85 76.96,135.79 77.13,135.73 77.30,135.66 77.46,135.60 77.63,135.54 77.80,135.48 77.96,135.42 78.13,135.36 78.30,135.30 78.46,135.24 78.63,135.18 78.79,135.12 78.96,135.06 79.13,135.00 79.29,134.94 79.46,134.89 79.63,134.83 79.79,134.77 79.96,134.71 80.13,134.66 80.29,134.60 80.46,134.54 80.63,134.49 80.79,134.43 80.96,134.38 81.13,134.32 81.29,134.27 81.46,134.21 81.62,134.16 81.79,134.11 81.96,134.05 82.12,134.00 82.29,133.95 82.46,133.89 82.62,133.84 82.79,133.79 82.96,133.74 83.12,133.69 83.29,133.64 83.46,133.59 83.62,133.54 83.79,133.49 83.96,133.44 84.12,133.39 84.29,133.34 84.46,133.29 84.62,133.24 84.79,133.20 84.96,133.15 85.12,133.10 85.29,133.05 85.45,133.01 85.62,132.96 85.79,132.92 85.95,132.87 86.12,132.83 86.29,132.78 86.45,132.74 86.62,132.69 86.79,132.65 86.95,132.61 87.12,132.56 87.29,132.52 87.45,132.48 87.62,132.44 87.79,132.40 87.95,132.36 88.12,132.31 88.28,132.27 88.45,132.23 88.62,132.19 88.78,132.16 88.95,132.12 89.12,132.08 89.28,132.04 89.45,132.00 89.62,131.97 89.78,131.93 89.95,131.89 90.12,131.86 90.28,131.82 90.45,131.78 90.62,131.75 90.78,131.71 90.95,131.68 91.12,131.65 91.28,131.61 91.45,131.58 91.62,131.55 91.78,131.52 91.95,131.48 92.11,131.45 92.28,131.42 92.45,131.39 92.61,131.36 92.78,131.33 92.95,131.30 93.11,131.27 93.28,131.24 93.45,131.21 93.61,131.19 93.78,131.16 93.95,131.13 94.11,131.10 94.28,131.08 94.45,131.05 94.61,131.03 94.78,131.00 94.95,130.98 95.11,130.95 95.28,130.93 95.44,130.90 95.61,130.88 95.78,130.86 95.94,130.83 96.11,130.81 96.28,130.79 96.44,130.77 96.61,130.75 96.78,130.73 96.94,130.71 97.11,130.69 97.28,130.67 97.44,130.65 97.61,130.63 97.78,130.61 97.94,130.60 98.11,130.58 98.28,130.56 98.44,130.55 98.61,130.53 98.77,130.52 98.94,130.50 99.11,130.49 99.27,130.47 99.44,130.46 99.61,130.44 99.77,130.43 99.94,130.42 100.11,130.41 100.27,130.40 100.44,130.38 100.61,130.37 100.77,130.36 100.94,130.35 101.11,130.34 101.27,130.33 101.44,130.33 101.61,130.32 101.77,130.31 101.94,130.30 102.10,130.29 102.27,130.29 102.44,130.28 102.60,130.28 102.77,130.27 102.94,130.27 103.10,130.26 103.27,130.26 103.44,130.25 103.60,130.25 103.77,130.25 103.94,130.24 104.10,130.24 104.27,130.24 104.44,130.24 104.60,130.24 104.77,130.24 104.94,130.24 105.10,130.24 105.27,130.24 105.43,130.24 105.60,130.24 105.77,130.25 105.93,130.25 106.10,130.25 106.27,130.25 106.43,130.26 106.60,130.26 106.77,130.27 106.93,130.27 107.10,130.28 107.27,130.28 107.43,130.29 107.60,130.30 107.77,130.31 107.93,130.31 108.10,130.32 108.27,130.33 108.43,130.34 108.60,130.35 108.76,130.36 108.93,130.37 109.10,130.38 109.26,130.39 109.43,130.40 109.60,130.41 109.76,130.43 109.93,130.44 110.10,130.45 110.26,130.47 110.43,130.48 110.60,130.50 110.76,130.51 110.93,130.53 111.10,130.54 111.26,130.56 111.43,130.57 111.59,130.59 111.76,130.61 111.93,130.63 112.09,130.65 112.26,130.66 112.43,130.68 112.59,130.70 112.76,130.72 112.93,130.74 113.09,130.77 113.26,130.79 113.43,130.81 113.59,130.83 113.76,130.85 113.93,130.88 114.09,130.90 114.26,130.92 114.43,130.95 114.59,130.97 114.76,131.00 114.92,131.02 115.09,131.05 115.26,131.08 115.42,131.10 115.59,131.13 115.76,131.16 115.92,131.19 116.09,131.21 116.26,131.24 116.42,131.27 116.59,131.30 116.76,131.33 116.92,131.36 117.09,131.39 117.26,131.43 117.42,131.46 117.59,131.49 117.76,131.52 117.92,131.56 118.09,131.59 118.26,131.62 118.42,131.66 118.59,131.69 118.75,131.73 118.92,131.76 119.09,131.80 119.25,131.84 119.42,131.87 119.59,131.91 119.75,131.95 119.92,131.99 120.09,132.02 120.25,132.06 120.42,132.10 120.59,132.14 120.75,132.18 120.92,132.22 121.09,132.26 121.25,132.30 121.42,132.35 121.59,132.39 121.75,132.43 121.92,132.47 122.08,132.52 122.25,132.56 122.42,132.60 122.58,132.65 122.75,132.69 122.92,132.74 123.08,132.78 123.25,132.83 123.42,132.88 123.58,132.92 123.75,132.97 123.92,133.02 124.08,133.07 124.25,133.11 124.42,133.16 124.58,133.21 124.75,133.26 124.92,133.31 125.08,133.36 125.25,133.41 125.41,133.46 125.58,133.52 125.75,133.57 125.91,133.62 126.08,133.67 126.25,133.73 126.41,133.78 126.58,133.83 126.75,133.89 126.91,133.94 127.08,134.00 127.25,134.05 127.41,134.11 127.58,134.16 127.75,134.22 127.91,134.28 128.08,134.33 128.25,134.39 128.41,134.45 128.58,134.51 128.74,134.57 128.91,134.63 129.08,134.69 129.24,134.74 129.41,134.80 129.58,134.87 129.74,134.93 129.91,134.99 130.08,135.05 130.24,135.11 130.41,135.17 130.58,135.24 130.74,135.30 130.91,135.36 131.08,135.43 131.24,135.49 131.41,135.55 131.57,135.62 131.74,135.68 131.91,135.75 132.07,135.82 132.24,135.88 132.41,135.95 132.57,136.02 132.74,136.08 132.91,136.15 133.07,136.22 133.24,136.29 133.41,136.35 133.57,136.42 133.74,136.49 133.91,136.56 134.07,136.63 134.24,136.70 134.41,136.77 134.57,136.84 134.74,136.92 134.91,136.99 135.07,137.06 135.24,137.13 135.40,137.20 135.57,137.28 135.74,137.35 135.90,137.42 136.07,137.50 136.24,137.57 136.40,137.65 136.57,137.72 136.74,137.80 136.90,137.87 137.07,137.95 137.24,138.02 137.40,138.10 137.57,138.18 137.74,138.25 137.90,138.33 138.07,138.41 138.24,138.49 138.40,138.57 138.57,138.64 138.73,138.72 138.90,138.80 139.07,138.88 139.23,138.96 139.40,139.04 139.57,139.12 139.73,139.20 139.90,139.28 141.56,140.11 143.23,140.97 144.89,141.85 146.56,142.75 148.22,143.68 149.89,144.64 151.55,145.61 153.22,146.61 154.88,147.62 156.55,148.65 158.21,149.69 159.88,150.74 161.54,151.81 163.21,152.89 164.87,153.97 166.54,155.06 168.20,156.16 169.87,157.25 171.53,158.35 173.20,159.45 174.86,160.54 176.53,161.63 178.19,162.72 179.86,163.80 181.52,164.86 183.19,165.92 184.85,166.96 186.52,167.99 188.18,169.00 189.85,170.00 191.51,170.97 193.18,171.92 194.84,172.86 196.51,173.76 198.17,174.64 199.84,175.50 201.50,176.33 203.17,177.12 204.83,177.89 206.50,178.62 208.16,179.32 209.83,179.99 211.49,180.62 213.16,181.22 214.82,181.77 216.49,182.29 218.15,182.77 219.82,183.21 221.48,183.61 223.15,183.97 224.81,184.29 226.48,184.56 228.14,184.79 229.81,184.98 231.47,185.13 233.14,185.23 234.80,185.29 236.47,185.30 238.13,185.27 239.80,185.19 241.46,185.08 243.13,184.92 244.79,184.71 246.46,184.46 248.12,184.17 249.79,183.84 251.45,183.47 253.12,183.05 254.78,182.60 256.45,182.10 258.11,181.57 259.78,181.00 261.44,180.39 263.11,179.74 264.77,179.06 266.44,178.35 268.10,177.60 269.77,176.82 271.43,176.02 273.10,175.18 274.76,174.31 276.43,173.42 278.09,172.51 279.76,171.57 281.42,170.60 283.09,169.62 284.75,168.62 286.42,167.60 288.08,166.57 289.75,165.52 291.41,164.46 293.08,163.39 294.74,162.31 296.41,161.22 298.07,160.13 299.74,159.04 301.40,157.94 303.07,156.84 304.73,155.74 306.40,154.65 308.06,153.56 309.73,152.48 311.39,151.41 313.06,150.35 314.72,149.30 316.39,148.26 318.05,147.24 319.72,146.24 321.38,145.25 323.05,144.29 324.71,143.34 326.38,142.42 328.04,141.53 329.71,140.66 331.37,139.82 333.04,139.00 334.70,138.22 336.37,137.47 338.03,136.75 339.70,136.06 341.36,135.41 343.03,134.80 344.69,134.22 346.36,133.68 348.02,133.18 349.69,132.72 351.35,132.30 353.02,131.92 354.68,131.58 356.35,131.28 358.01,131.03 359.68,130.81 361.34,130.65 363.01,130.52 364.67,130.44 366.34,130.40 368.00,130.41 369.67,130.46 371.33,130.55 373.00,130.69 374.66,130.87 376.33,131.10 377.99,131.37 379.66,131.68 381.32,132.03 382.99,132.42 384.65,132.85 386.32,133.33 387.98,133.84 389.65,134.39 391.31,134.98 392.98,135.61 394.64,136.27 396.31,136.96 397.97,137.69 399.64,138.45 401.30,139.24 402.97,140.07 404.63,140.92 406.30,141.79 407.96,142.70 409.63,143.62 411.29,144.57 412.96,145.55 414.62,146.54 416.29,147.55 417.95,148.57 419.62,149.61 421.28,150.67 422.95,151.73 424.61,152.81 426.28,153.89 427.94,154.98 429.61,156.07 431.27,157.17 432.94,158.27 434.60,159.37 436.27,160.46 437.93,161.55 439.60,162.64 441.26,163.71 442.93,164.78 444.59,165.84 446.26,166.88 447.92,167.91 449.59,168.92 451.25,169.92 452.92,170.89 454.58,171.85 456.25,172.78 457.91,173.69 459.58,174.58 461.24,175.43 462.91,176.26 464.57,177.06 466.24,177.83 467.90,178.57 469.57,179.27 471.23,179.94 472.90,180.57 474.56,181.17 476.23,181.73 477.89,182.25 479.56,182.74 481.22,183.18 482.89,183.58 484.55,183.94 486.22,184.26 487.88,184.54 489.55,184.78 491.21,184.97 492.88,185.12 494.54,185.22 496.21,185.28 497.87,185.30 499.54,185.27 501.20,185.20 502.87,185.09 504.53,184.93 506.20,184.73 507.86,184.48 509.53,184.20 511.19,183.87 512.86,183.50 514.52,183.09 516.19,182.63 517.85,182.14 519.52,181.61 521.18,181.04 522.85,180.44 524.51,179.79 526.18,179.12 527.84,178.41 529.51,177.66 531.17,176.89 532.84,176.08 534.50,175.25 536.17,174.38 537.83,173.49 539.50,172.58" fill="none" stroke="#0072BD" stroke-width="1.60" stroke-linejoin="round"/>
<polyline points="40.00,152.31 40.17,152.09 40.33,151.89 40.50,151.69 40.67,151.50 40.83,151.32 41.00,151.15 41.17,151.01 41.33,150.88 41.50,150.77 41.66,150.69 41.83,150.63 42.00,150.60 42.16,150.60 42.33,150.62 42.50,150.67 42.66,150.74 42.83,150.83 43.00,150.94 43.16,151.07 43.33,151.22 43.50,151.39 43.66,151.58 43.83,151.77 44.00,151.98 44.16,152.20 44.33,152.42 44.50,152.65 44.66,152.88 44.83,153.11 44.99,153.35 45.16,153.58 45.33,153.80 45.49,154.02 45.66,154.23 45.83,154.42 45.99,154.61 46.16,154.77 46.33,154.93 46.49,155.06 46.66,155.17 46.83,155.27 46.99,155.34 47.16,155.39 47.33,155.41 47.49,155.41 47.66,155.38 47.83,155.32 47.99,155.24 48.16,155.14 48.33,155.02 48.49,154.88 48.66,154.73 48.82,154.57 48.99,154.39 49.16,154.21 49.32,154.01 49.49,153.79 49.66,153.57 49.82,153.34 49.99,153.10 50.16,152.84 50.32,152.59 50.49,152.32 50.66,152.05 50.82,151.77 50.99,151.48 51.16,151.20 51.32,150.91 51.49,150.62 51.66,150.33 51.82,150.04 51.99,149.76 52.15,149.47 52.32,149.19 52.49,148.92 52.65,148.65 52.82,148.39 52.99,148.14 53.15,147.89 53.32,147.66 53.49,147.43 53.65,147.22 53.82,147.01 53.99,146.82 54.15,146.64 54.32,146.48 54.49,146.33 54.65,146.19 54.82,146.07 54.98,145.96 55.15,145.86 55.32,145.78 55.48,145.70 55.65,145.64 55.82,145.59 55.98,145.55 56.15,145.52 56.32,145.51 56.48,145.50 56.65,145.50 56.82,145.51 56.98,145.52 57.15,145.55 57.32,145.58 57.48,145.61 57.65,145.65 57.82,145.69 57.98,145.74 58.15,145.78 58.31,145.83 58.48,145.87 58.65,145.92 58.81,145.96 58.98,146.00 59.15,146.03 59.31,146.06 59.48,146.08 59.65,146.10 59.81,146.11 59.98,146.11 60.15,146.10 60.31,146.08 60.48,146.05 60.65,146.01 60.81,145.96 60.98,145.90 61.15,145.83 61.31,145.75 61.48,145.65 61.64,145.55 61.81,145.44 61.98,145.32 62.14,145.19 62.31,145.06 62.48,144.92 62.64,144.78 62.81,144.62 62.98,144.47 63.14,144.30 63.31,144.14 63.48,143.97 63.64,143.79 63.81,143.61 63.98,143.43 64.14,143.25 64.31,143.06 64.48,142.88 64.64,142.69 64.81,142.51 64.97,142.32 65.14,142.14 65.31,141.96 65.47,141.79 65.64,141.61 65.81,141.44 65.97,141.28 66.14,141.12 66.31,140.97 66.47,140.82 66.64,140.68 66.81,140.55 66.97,140.43 67.14,140.31 67.31,140.20 67.47,140.10 67.64,140.00 67.81,139.91 67.97,139.83 68.14,139.76 68.31,139.69 68.47,139.63 68.64,139.57 68.80,139.52 68.97,139.47 69.14,139.42 69.30,139.39 69.47,139.35 69.64,139.32 69.80,139.29 69.97,139.27 70.14,139.25 70.30,139.23 70.47,139.21 70.64,139.20 70.80,139.18 70.97,139.17 71.14,139.16 71.30,139.14 71.47,139.13 71.64,139.11 71.80,139.09 71.97,139.07 72.13,139.05 72.30,139.02 72.47,138.99 72.63,138.96 72.80,138.92 72.97,138.88 73.13,138.84 73.30,138.79 73.47,138.73 73.63,138.68 73.80,138.61 73.97,138.54 74.13,138.47 74.30,138.39 74.47,138.30 74.63,138.22 74.80,138.13 74.97,138.04 75.13,137.94 75.30,137.84 75.46,137.74 75.63,137.63 75.80,137.52 75.96,137.41 76.13,137.30 76.30,137.19 76.46,137.08 76.63,136.96 76.80,136.85 76.96,136.73 77.13,136.61 77.30,136.50 77.46,136.39 77.63,136.27 77.80,136.16 77.96,136.06 78.13,135.95 78.30,135.85 78.46,135.74 78.63,135.65 78.79,135.55 78.96,135.46 79.13,135.38 79.29,135.29 79.46,135.22 79.63,135.14 79.79,135.07 79.96,135.01 80.13,134.94 80.29,134.88 80.46,134.83 80.63,134.77 80.79,134.72 80.96,134.67 81.13,134.62 81.29,134.57 81.46,134.53 81.62,134.48 81.79,134.44 81.96,134.40 82.12,134.36 82.29,134.33 82.46,134.29 82.62,134.25 82.79,134.22 82.96,134.19 83.12,134.15 83.29,134.12 83.46,134.09 83.62,134.06 83.79,134.03 83.96,134.00 84.12,133.96 84.29,133.93 84.46,133.90 84.62,133.87 84.79,133.83 84.96,133.80 85.12,133.76 85.29,133.73 85.45,133.69 85.62,133.65 85.79,133.61 85.95,133.57 86.12,133.53 86.29,133.48 86.45,133.44 86.62,133.39 86.79,133.34 86.95,133.29 87.12,133.24 87.29,133.19 87.45,133.14 87.62,133.08 87.79,133.03 87.95,132.97 88.12,132.92 88.28,132.86 88.45,132.81 88.62,132.75 88.78,132.69 88.95,132.63 89.12,132.57 89.28,132.52 89.45,132.46 89.62,132.40 89.78,132.34 89.95,132.29 90.12,132.23 90.28,132.17 90.45,132.12 90.62,132.06 90.78,132.01 90.95,131.96 91.12,131.91 91.28,131.86 91.45,131.81 91.62,131.76 91.78,131.72 91.95,131.67 92.11,131.63 92.28,131.59 92.45,131.55 92.61,131.52 92.78,131.48 92.95,131.45 93.11,131.42 93.28,131.39 93.45,131.36 93.61,131.33 93.78,131.31 93.95,131.28 94.11,131.26 94.28,131.23 94.45,131.21 94.61,131.19 94.78,131.17 94.95,131.15 95.11,131.13 95.28,131.12 95.44,131.10 95.61,131.08 95.78,131.07 95.94,131.05 96.11,131.04 96.28,131.03 96.44,131.01 96.61,131.00 96.78,130.99 96.94,130.97 97.11,130.96 97.28,130.95 97.44,130.94 97.61,130.92 97.78,130.91 97.94,130.90 98.11,130.89 98.28,130.87 98.44,130.86 98.61,130.85 98.77,130.83 98.94,130.82 99.11,130.81 99.27,130.79 99.44,130.78 99.61,130.76 99.77,130.74 99.94,130.73 100.11,130.71 100.27,130.70 100.44,130.68 100.61,130.67 100.77,130.65 100.94,130.63 101.11,130.62 101.27,130.60 101.44,130.59 101.61,130.57 101.77,130.56 101.94,130.54 102.10,130.53 102.27,130.51 102.44,130.50 102.60,130.48 102.77,130.47 102.94,130.46 103.10,130.44 103.27,130.43 103.44,130.42 103.60,130.41 103.77,130.40 103.94,130.39 104.10,130.38 104.27,130.38 104.44,130.37 104.60,130.36 104.77,130.36 104.94,130.35 105.10,130.35 105.27,130.35 105.43,130.35 105.60,130.35 105.77,130.35 105.93,130.35 106.10,130.35 106.27,130.35 106.43,130.36 106.60,130.36 106.77,130.36 106.93,130.37 107.10,130.38 107.27,130.38 107.43,130.39 107.60,130.40 107.77,130.41 107.93,130.42 108.10,130.43 108.27,130.44 108.43,130.45 108.60,130.46 108.76,130.47 108.93,130.48 109.10,130.50 109.26,130.51 109.43,130.52 109.60,130.54 109.76,130.55 109.93,130.57 110.10,130.58 110.26,130.60 110.43,130.61 110.60,130.63 110.76,130.64 110.93,130.66 111.10,130.68 111.26,130.69 111.43,130.71 111.59,130.73 111.76,130.75 111.93,130.76 112.09,130.78 112.26,130.80 112.43,130.82 112.59,130.84 112.76,130.86 112.93,130.88 113.09,130.90 113.26,130.92 113.43,130.94 113.59,130.96 113.76,130.98 113.93,131.00 114.09,131.02 114.26,131.04 114.43,131.06 114.59,131.09 114.76,131.11 114.92,131.13 115.09,131.16 115.26,131.18 115.42,131.20 115.59,131.23 115.76,131.25 115.92,131.28 116.09,131.31 116.26,131.33 116.42,131.36 116.59,131.39 116.76,131.42 116.92,131.44 117.09,131.47 117.26,131.50 117.42,131.53 117.59,131.56 117.76,131.59 117.92,131.63 118.09,131.66 118.26,131.69 118.42,131.72 118.59,131.76 118.75,131.79 118.92,131.83 119.09,131.86 119.25,131.90 119.42,131.93 119.59,131.97 119.75,132.01 119.92,132.04 120.09,132.08 120.25,132.12 120.42,132.16 120.59,132.20 120.75,132.24 120.92,132.28 121.09,132.32 121.25,132.36 121.42,132.40 121.59,132.44 121.75,132.48 121.92,132.52 122.08,132.57 122.25,132.61 122.42,132.65 122.58,132.70 122.75,132.74 122.92,132.79 123.08,132.83 123.25,132.88 123.42,132.92 123.58,132.97 123.75,133.02 123.92,133.06 124.08,133.11 124.25,133.16 124.42,133.21 124.58,133.26 124.75,133.31 124.92,133.36 125.08,133.41 125.25,133.46 125.41,133.51 125.58,133.56 125.75,133.61 125.91,133.66 126.08,133.71 126.25,133.77 126.41,133.82 126.58,133.87 126.75,133.93 126.91,133.98 127.08,134.04 127.25,134.09 127.41,134.15 127.58,134.20 127.75,134.26 127.91,134.31 128.08,134.37 128.25,134.43 128.41,134.49 128.58,134.54 128.74,134.60 128.91,134.66 129.08,134.72 129.24,134.78 129.41,134.84 129.58,134.90 129.74,134.96 129.91,135.02 130.08,135.08 130.24,135.15 130.41,135.21 130.58,135.27 130.74,135.33 130.91,135.40 131.08,135.46 131.24,135.52 131.41,135.59 131.57,135.65 131.74,135.72 131.91,135.78 132.07,135.85 132.24,135.91 132.41,135.98 132.57,136.05 132.74,136.11 132.91,136.18 133.07,136.25 133.24,136.32 133.41,136.39 133.57,136.45 133.74,136.52 133.91,136.59 134.07,136.66 134.24,136.73 134.41,136.80 134.57,136.87 134.74,136.95 134.91,137.02 135.07,137.09 135.24,137.16 135.40,137.23 135.57,137.31 135.74,137.38 135.90,137.45 136.07,137.53 136.24,137.60 136.40,137.67 136.57,137.75 136.74,137.82 136.90,137.90 137.07,137.98 137.24,138.05 137.40,138.13 137.57,138.20 137.74,138.28 137.90,138.36 138.07,138.44 138.24,138.51 138.40,138.59 138.57,138.67 138.73,138.75 138.90,138.83 139.07,138.91 139.23,138.99 139.40,139.07 139.57,139.15 139.73,139.23 139.90,139.31 141.56,140.13 143.23,140.99 144.89,141.87 146.56,142.77 148.22,143.70 149.89,144.65 151.55,145.62 153.22,146.62 154.88,147.63 156.55,148.65 158.21,149.70 159.88,150.75 161.54,151.82 163.21,152.89 164.87,153.98 166.54,155.07 168.20,156.16 169.87,157.26 171.53,158.36 173.20,159.45 174.86,160.55 176.53,161.64 178.19,162.72 179.86,163.80 181.52,164.86 183.19,165.92 184.85,166.96 186.52,167.99 188.18,169.00 189.85,170.00 191.51,170.97 193.18,171.93 194.84,172.86 196.51,173.76 198.17,174.65 199.84,175.50 201.50,176.33 203.17,177.12 204.83,177.89 206.50,178.62 208.16,179.33 209.83,179.99 211.49,180.62 213.16,181.22 214.82,181.77 216.49,182.29 218.15,182.77 219.82,183.21 221.48,183.61 223.15,183.97 224.81,184.29 226.48,184.56 228.14,184.79 229.81,184.98 231.47,185.13 233.14,185.23 234.80,185.29 236.47,185.30 238.13,185.27 239.80,185.19 241.46,185.08 243.13,184.92 244.79,184.71 246.46,184.46 248.12,184.17 249.79,183.84 251.45,183.47 253.12,183.05 254.78,182.60 256.45,182.10 258.11,181.57 259.78,181.00 261.44,180.39 263.11,179.74 264.77,179.06 266.44,178.35 268.10,177.60 269.77,176.82 271.43,176.02 273.10,175.18 274.76,174.31 276.43,173.42 278.09,172.51 279.76,171.57 281.42,170.60 283.09,169.62 284.75,168.62 286.42,167.60 288.08,166.57 289.75,165.52 291.41,164.46 293.08,163.39 294.74,162.31 296.41,161.22 298.07,160.13 299.74,159.04 301.40,157.94 303.07,156.84 304.73,155.74 306.40,154.65 308.06,153.56 309.73,152.48 311.39,151.41 313.06,150.35 314.72,149.30 316.39,148.26 318.05,147.24 319.72,146.24 321.38,145.25 323.05,144.29 324.71,143.34 326.38,142.42 328.04,141.53 329.71,140.66 331.37,139.82 333.04,139.00 334.70,138.22 336.37,137.47 338.03,136.75 339.70,136.06 341.36,135.41 343.03,134.80 344.69,134.22 346.36,133.68 348.02,133.18 349.69,132.72 351.35,132.30 353.02,131.92 354.68,131.58 356.35,131.28 358.01,131.03 359.68,130.81 361.34,130.65 363.01,130.52 364.67,130.44 366.34,130.40 368.00,130.41 369.67,130.46 371.33,130.55 373.00,130.69 374.66,130.87 376.33,131.10 377.99,131.37 379.66,131.68 381.32,132.03 382.99,132.42 384.65,132.85 386.32,133.33 387.98,133.84 389.65,134.39 391.31,134.98 392.98,135.61 394.64,136.27 396.31,136.96 397.97,137.69 399.64,138.45 401.30,139.24 402.97,140.07 404.63,140.92 406.30,141.79 407.96,142.70 409.63,143.62 411.29,144.57 412.96,145.55 414.62,146.54 416.29,147.55 417.95,148.57 419.62,149.61 421.28,150.67 422.95,151.73 424.61,152.81 426.28,153.89 427.94,154.98 429.61,156.07 431.27,157.17 432.94,158.27 434.60,159.37 436.27,160.46 437.93,161.55 439.60,162.64 441.26,163.71 442.93,164.78 444.59,165.84 446.26,166.88 447.92,167.91 449.59,168.92 451.25,169.92 452.92,170.89 454.58,171.85 456.25,172.78 457.91,173.69 459.58,174.58 461.24,175.43 462.91,176.26 464.57,177.06 466.24,177.83 467.90,178.57 469.57,179.27 471.23,179.94 472.90,180.57 474.56,181.17 476.23,181.73 477.89,182.25 479.56,182.74 481.22,183.18 482.89,183.58 484.55,183.94 486.22,184.26 487.88,184.54 489.55,184.78 491.21,184.97 492.88,185.12 494.54,185.22 496.21,185.28 497.87,185.30 499.54,185.27 501.20,185.20 502.87,185.09 504.53,184.93 506.20,184.73 507.86,184.48 509.53,184.20 511.19,183.87 512.86,183.50 514.52,183.09 516.19,182.63 517.85,182.14 519.52,181.61 521.18,181.04 522.85,180.44 524.51,179.79 526.18,179.12 527.84,178.41 529.51,177.66 531.17,176.89 532.84,176.08 534.50,175.25 536.17,174.38 537.83,173.49 539.50,172.58" fill="none" stroke="#D95319" stroke-width="1.60" stroke-dasharray="3.6,3.6"/>
</g>
<g fill="#161616" stroke="#161616" stroke-width="0.20">
<text x="40.00" y="201.20" font-size="12.00" text-anchor="middle">0</text>
<text x="123.25" y="201.20" font-size="12.00" text-anchor="middle">10</text>
<text x="206.50" y="201.20" font-size="12.00" text-anchor="middle">20</text>
<text x="289.75" y="201.20" font-size="12.00" text-anchor="middle">30</text>
<text x="373.00" y="201.20" font-size="12.00" text-anchor="middle">40</text>
<text x="456.25" y="201.20" font-size="12.00" text-anchor="middle">50</text>
<text x="539.50" y="201.20" font-size="12.00" text-anchor="middle">60</text>
<text x="36.60" y="190.00" font-size="12.00" text-anchor="end">-10</text>
<text x="36.60" y="162.55" font-size="12.00" text-anchor="end">0</text>
<text x="36.60" y="135.10" font-size="12.00" text-anchor="end">10</text>
<text x="289.75" y="218.20" font-size="13.00" text-anchor="middle">t/s</text>
<text x="289.75" y="125.00" font-size="13.20" text-anchor="middle">(b) y-axis position curve</text>
<text transform="translate(14.3,157.85) rotate(-90)" font-size="13" text-anchor="middle">y(t)/m</text>
</g>
<rect x="149.40" y="129.40" width="129.00" height="55.00" fill="#fff" stroke="#b8b8b8" stroke-width="1.00"/>
<path d="M149.40,184.40V183.00M149.40,129.40V130.80M175.20,184.40V183.00M175.20,129.40V130.80M201.00,184.40V183.00M201.00,129.40V130.80M226.80,184.40V183.00M226.80,129.40V130.80M252.60,184.40V183.00M252.60,129.40V130.80M278.40,184.40V183.00M278.40,129.40V130.80M149.40,184.40H150.80M278.40,184.40H277.00M149.40,170.65H150.80M278.40,170.65H277.00M149.40,156.90H150.80M278.40,156.90H277.00M149.40,143.15H150.80M278.40,143.15H277.00M149.40,129.40H150.80M278.40,129.40H277.00" stroke="#b8b8b8" stroke-width="1.00" fill="none"/>
<g clip-path="url(#ci1)">
<polyline points="149.40,140.12 149.53,140.11 149.66,140.09 149.79,140.05 149.92,140.00 150.05,139.93 150.17,139.84 150.30,139.74 150.43,139.63 150.56,139.50 150.69,139.36 150.82,139.21 150.95,139.05 151.08,138.89 151.21,138.72 151.34,138.55 151.46,138.39 151.59,138.23 151.72,138.08 151.85,137.95 151.98,137.83 152.11,137.73 152.24,137.65 152.37,137.60 152.50,137.57 152.62,137.58 152.75,137.61 152.88,137.68 153.01,137.79 153.14,137.91 153.27,138.05 153.40,138.19 153.53,138.35 153.66,138.51 153.79,138.69 153.91,138.88 154.04,139.07 154.17,139.28 154.30,139.49 154.43,139.71 154.56,139.94 154.69,140.18 154.82,140.42 154.95,140.67 155.08,140.93 155.21,141.18 155.33,141.45 155.46,141.71 155.59,141.98 155.72,142.26 155.85,142.53 155.98,142.81 156.11,143.08 156.24,143.36 156.37,143.63 156.50,143.90 156.62,144.18 156.75,144.45 156.88,144.71 157.01,144.98 157.14,145.24 157.27,145.49 157.40,145.75 157.53,146.00 157.66,146.24 157.78,146.48 157.91,146.71 158.04,146.94 158.17,147.17 158.30,147.38 158.43,147.60 158.56,147.80 158.69,148.01 158.82,148.20 158.95,148.39 159.07,148.58 159.20,148.76 159.33,148.94 159.46,149.11 159.59,149.27 159.72,149.43 159.85,149.59 159.98,149.74 160.11,149.89 160.24,150.03 160.37,150.17 160.49,150.31 160.62,150.44 160.75,150.56 160.88,150.69 161.01,150.81 161.14,150.93 161.27,151.05 161.40,151.16 161.53,151.27 161.66,151.38 161.78,151.48 161.91,151.59 162.04,151.69 162.17,151.79 162.30,151.89 162.43,151.98 162.56,152.08 162.69,152.17 162.82,152.27 162.94,152.36 163.07,152.45 163.20,152.54 163.33,152.62 163.46,152.71 163.59,152.80 163.72,152.88 163.85,152.97 163.98,153.05 164.11,153.14 164.24,153.22 164.36,153.30 164.49,153.38 164.62,153.46 164.75,153.54 164.88,153.62 165.01,153.70 165.14,153.78 165.27,153.86 165.40,153.93 165.53,154.01 165.65,154.09 165.78,154.17 165.91,154.24 166.04,154.32 166.17,154.39 166.30,154.47 166.43,154.54 166.56,154.62 166.69,154.69 166.81,154.76 166.94,154.84 167.07,154.91 167.20,154.98 167.33,155.05 167.46,155.12 167.59,155.20 167.72,155.27 167.85,155.34 167.98,155.41 168.10,155.48 168.23,155.55 168.36,155.62 168.49,155.69 168.62,155.75 168.75,155.82 168.88,155.89 169.01,155.96 169.14,156.03 169.27,156.09 169.40,156.16 169.52,156.23 169.65,156.29 169.78,156.36 169.91,156.42 170.04,156.49 170.17,156.55 170.30,156.62 170.43,156.68 170.56,156.75 170.69,156.81 170.81,156.87 170.94,156.94 171.07,157.00 171.20,157.06 171.33,157.13 171.46,157.19 171.59,157.25 171.72,157.31 171.85,157.37 171.97,157.43 172.10,157.49 172.23,157.55 172.36,157.61 172.49,157.67 172.62,157.73 172.75,157.79 172.88,157.85 173.01,157.91 173.14,157.97 173.26,158.03 173.39,158.09 173.52,158.14 173.65,158.20 173.78,158.26 173.91,158.31 174.04,158.37 174.17,158.43 174.30,158.48 174.43,158.54 174.56,158.59 174.68,158.65 174.81,158.71 174.94,158.76 175.07,158.81 175.20,158.87 175.33,158.92 175.46,158.98 175.59,159.03 175.72,159.08 175.84,159.14 175.97,159.19 176.10,159.24 176.23,159.29 176.36,159.35 176.49,159.40 176.62,159.45 176.75,159.50 176.88,159.55 177.01,159.60 177.13,159.65 177.26,159.70 177.39,159.75 177.52,159.80 177.65,159.85 177.78,159.90 177.91,159.95 178.04,160.00 178.17,160.05 178.30,160.10 178.43,160.15 178.55,160.20 178.68,160.24 178.81,160.29 178.94,160.34 179.07,160.39 179.20,160.43 179.33,160.48 179.46,160.53 179.59,160.57 179.72,160.62 179.84,160.67 179.97,160.71 180.10,160.76 180.23,160.80 180.36,160.85 180.49,160.89 180.62,160.94 180.75,160.98 180.88,161.03 181.00,161.07 181.13,161.12 181.26,161.16 181.39,161.20 181.52,161.25 181.65,161.29 181.78,161.33 181.91,161.38 182.04,161.42 182.17,161.46 182.30,161.50 182.42,161.54 182.55,161.59 182.68,161.63 182.81,161.67 182.94,161.71 183.07,161.75 183.20,161.79 183.33,161.83 183.46,161.87 183.59,161.91 183.71,161.95 183.84,161.99 183.97,162.03 184.10,162.07 184.23,162.11 184.36,162.15 184.49,162.19 184.62,162.23 184.75,162.27 184.88,162.31 185.00,162.34 185.13,162.38 185.26,162.42 185.39,162.46 185.52,162.50 185.65,162.53 185.78,162.57 185.91,162.61 186.04,162.64 186.16,162.68 186.29,162.72 186.42,162.75 186.55,162.79 186.68,162.83 186.81,162.86 186.94,162.90 187.07,162.93 187.20,162.97 187.33,163.00 187.46,163.04 187.58,163.07 187.71,163.11 187.84,163.14 187.97,163.18 188.10,163.21 188.23,163.25 188.36,163.28 188.49,163.31 188.62,163.35 188.75,163.38 188.87,163.42 189.00,163.45 189.13,163.48 189.26,163.51 189.39,163.55 189.52,163.58 189.65,163.61 189.78,163.64 189.91,163.68 190.03,163.71 190.16,163.74 190.29,163.77 190.42,163.80 190.55,163.84 190.68,163.87 190.81,163.90 190.94,163.93 191.07,163.96 191.20,163.99 191.32,164.02 191.45,164.05 191.58,164.08 191.71,164.11 191.84,164.14 191.97,164.17 192.10,164.20 192.23,164.23 192.36,164.26 192.49,164.29 192.62,164.32 192.74,164.35 192.87,164.38 193.00,164.41 193.13,164.43 193.26,164.46 193.39,164.49 193.52,164.52 193.65,164.55 193.78,164.58 193.91,164.60 194.03,164.63 194.16,164.66 194.29,164.69 194.42,164.71 194.55,164.74 194.68,164.77 194.81,164.79 194.94,164.82 195.07,164.85 195.19,164.88 195.32,164.90 195.45,164.93 195.58,164.95 195.71,164.98 195.84,165.01 195.97,165.03 196.10,165.06 196.23,165.08 196.36,165.11 196.48,165.13 196.61,165.16 196.74,165.19 196.87,165.21 197.00,165.24 197.13,165.26 197.26,165.28 197.39,165.31 197.52,165.33 197.65,165.36 197.77,165.38 197.90,165.41 198.03,165.43 198.16,165.45 198.29,165.48 198.42,165.50 198.55,165.53 198.68,165.55 198.81,165.57 198.94,165.60 199.06,165.62 199.19,165.64 199.32,165.67 199.45,165.69 199.58,165.71 199.71,165.73 199.84,165.76 199.97,165.78 200.10,165.80 200.23,165.82 200.35,165.85 200.48,165.87 200.61,165.89 200.74,165.91 200.87,165.93 201.00,165.95 201.13,165.98 201.26,166.00 201.39,166.02 201.52,166.04 201.64,166.06 201.77,166.08 201.90,166.10 202.03,166.12 202.16,166.15 202.29,166.17 202.42,166.19 202.55,166.21 202.68,166.23 202.81,166.25 202.94,166.27 203.06,166.29 203.19,166.31 203.32,166.33 203.45,166.35 203.58,166.37 203.71,166.39 203.84,166.41 203.97,166.43 204.10,166.45 204.22,166.47 204.35,166.48 204.48,166.50 204.61,166.52 204.74,166.54 204.87,166.56 205.00,166.58 205.13,166.60 205.26,166.62 205.39,166.63 205.51,166.65 205.64,166.67 205.77,166.69 205.90,166.71 206.03,166.73 206.16,166.74 206.29,166.76 206.42,166.78 206.55,166.80 206.68,166.82 206.81,166.83 206.93,166.85 207.06,166.87 207.19,166.89 207.32,166.90 207.45,166.92 207.58,166.94 207.71,166.95 207.84,166.97 207.97,166.99 208.09,167.00 208.22,167.02 208.35,167.04 208.48,167.05 208.61,167.07 208.74,167.09 208.87,167.10 209.00,167.12 209.13,167.14 209.26,167.15 209.38,167.17 209.51,167.18 209.64,167.20 209.77,167.22 209.90,167.23 210.03,167.25 210.16,167.26 210.29,167.28 210.42,167.29 210.55,167.31 210.67,167.32 210.80,167.34 210.93,167.36 211.06,167.37 211.19,167.39 211.32,167.40 211.45,167.42 211.58,167.43 211.71,167.45 211.84,167.46 211.97,167.47 212.09,167.49 212.22,167.50 212.35,167.52 212.48,167.53 212.61,167.55 212.74,167.56 212.87,167.57 213.00,167.59 213.13,167.60 213.25,167.62 213.38,167.63 213.51,167.64 213.64,167.66 213.77,167.67 213.90,167.69 214.03,167.70 214.16,167.71 214.29,167.73 214.42,167.74 214.54,167.75 214.67,167.77 214.80,167.78 214.93,167.79 215.06,167.81 215.19,167.82 215.32,167.83 215.45,167.85 215.58,167.86 215.71,167.87 215.83,167.88 215.96,167.90 216.09,167.91 216.22,167.92 216.35,167.93 216.48,167.95 216.61,167.96 216.74,167.97 216.87,167.98 217.00,168.00 217.12,168.01 217.25,168.02 217.38,168.03 217.51,168.04 217.64,168.06 217.77,168.07 217.90,168.08 218.03,168.09 218.16,168.10 218.29,168.12 218.41,168.13 218.54,168.14 218.67,168.15 218.80,168.16 218.93,168.17 219.06,168.18 219.19,168.20 219.32,168.21 219.45,168.22 219.58,168.23 219.70,168.24 219.83,168.25 219.96,168.26 220.09,168.27 220.22,168.28 220.35,168.30 220.48,168.31 220.61,168.32 220.74,168.33 220.87,168.34 220.99,168.35 221.12,168.36 221.25,168.37 221.38,168.38 221.51,168.39 221.64,168.40 221.77,168.41 221.90,168.42 222.03,168.43 222.16,168.44 222.28,168.45 222.41,168.46 222.54,168.47 222.67,168.48 222.80,168.49 222.93,168.50 223.06,168.51 223.19,168.52 223.32,168.53 223.45,168.54 223.57,168.55 223.70,168.56 223.83,168.57 223.96,168.58 224.09,168.59 224.22,168.60 224.35,168.61 224.48,168.62 224.61,168.63 224.74,168.64 224.87,168.65 224.99,168.65 225.12,168.66 225.25,168.67 225.38,168.68 225.51,168.69 225.64,168.70 225.77,168.71 225.90,168.72 226.03,168.73 226.15,168.74 226.28,168.74 226.41,168.75 226.54,168.76 226.67,168.77 226.80,168.78 226.93,168.79 227.06,168.80 227.19,168.80 227.32,168.81 227.44,168.82 227.57,168.83 227.70,168.84 227.83,168.85 227.96,168.85 228.09,168.86 228.22,168.87 228.35,168.88 228.48,168.89 228.61,168.90 228.73,168.90 228.86,168.91 228.99,168.92 229.12,168.93 229.25,168.94 229.38,168.94 229.51,168.95 229.64,168.96 229.77,168.97 229.90,168.97 230.02,168.98 230.15,168.99 230.28,169.00 230.41,169.01 230.54,169.01 230.67,169.02 230.80,169.03 230.93,169.04 231.06,169.04 231.19,169.05 231.31,169.06 231.44,169.06 231.57,169.07 231.70,169.08 231.83,169.09 231.96,169.09 232.09,169.10 232.22,169.11 232.35,169.11 232.48,169.12 232.60,169.13 232.73,169.14 232.86,169.14 232.99,169.15 233.12,169.16 233.25,169.16 233.38,169.17 233.51,169.18 233.64,169.18 233.77,169.19 233.89,169.20 234.02,169.20 234.15,169.21 234.28,169.22 234.41,169.22 234.54,169.23 234.67,169.24 234.80,169.24 234.93,169.25 235.06,169.26 235.19,169.26 235.31,169.27 235.44,169.28 235.57,169.28 235.70,169.29 235.83,169.29 235.96,169.30 236.09,169.31 236.22,169.31 236.35,169.32 236.47,169.32 236.60,169.33 236.73,169.34 236.86,169.34 236.99,169.35 237.12,169.36 237.25,169.36 237.38,169.37 237.51,169.37 237.64,169.38 237.76,169.38 237.89,169.39 238.02,169.40 238.15,169.40 238.28,169.41 238.41,169.41 238.54,169.42 238.67,169.42 238.80,169.43 238.93,169.44 239.06,169.44 239.18,169.45 239.31,169.45 239.44,169.46 239.57,169.46 239.70,169.47 239.83,169.47 239.96,169.48 240.09,169.49 240.22,169.49 240.34,169.50 240.47,169.50 240.60,169.51 240.73,169.51 240.86,169.52 240.99,169.52 241.12,169.53 241.25,169.53 241.38,169.54 241.51,169.54 241.63,169.55 241.76,169.55 241.89,169.56 242.02,169.56 242.15,169.57 242.28,169.57 242.41,169.58 242.54,169.58 242.67,169.59 242.80,169.59 242.92,169.60 243.05,169.60 243.18,169.61 243.31,169.61 243.44,169.62 243.57,169.62 243.70,169.63 243.83,169.63 243.96,169.64 244.09,169.64 244.22,169.64 244.34,169.65 244.47,169.65 244.60,169.66 244.73,169.66 244.86,169.67 244.99,169.67 245.12,169.68 245.25,169.68 245.38,169.69 245.50,169.69 245.63,169.69 245.76,169.70 245.89,169.70 246.02,169.71 246.15,169.71 246.28,169.72 246.41,169.72 246.54,169.72 246.67,169.73 246.79,169.73 246.92,169.74 247.05,169.74 247.18,169.75 247.31,169.75 247.44,169.75 247.57,169.76 247.70,169.76 247.83,169.77 247.96,169.77 248.08,169.77 248.21,169.78 248.34,169.78 248.47,169.79 248.60,169.79 248.73,169.79 248.86,169.80 248.99,169.80 249.12,169.81 249.25,169.81 249.38,169.81 249.50,169.82 249.63,169.82 249.76,169.82 249.89,169.83 250.02,169.83 250.15,169.84 250.28,169.84 250.41,169.84 250.54,169.85 250.66,169.85 250.79,169.85 250.92,169.86 251.05,169.86 251.18,169.87 251.31,169.87 251.44,169.87 251.57,169.88 251.70,169.88 251.83,169.88 251.95,169.89 252.08,169.89 252.21,169.89 252.34,169.90 252.47,169.90 252.60,169.90 252.73,169.91 252.86,169.91 252.99,169.91 253.12,169.92 253.25,169.92 253.37,169.92 253.50,169.93 253.63,169.93 253.76,169.93 253.89,169.94 254.02,169.94 254.15,169.94 254.28,169.95 254.41,169.95 254.53,169.95 254.66,169.96 254.79,169.96 254.92,169.96 255.05,169.97 255.18,169.97 255.31,169.97 255.44,169.98 255.57,169.98 255.70,169.98 255.82,169.99 255.95,169.99 256.08,169.99 256.21,169.99 256.34,170.00 256.47,170.00 256.60,170.00 256.73,170.01 256.86,170.01 256.99,170.01 257.12,170.02 257.24,170.02 257.37,170.02 257.50,170.02 257.63,170.03 257.76,170.03 257.89,170.03 258.02,170.04 258.15,170.04 258.28,170.04 258.40,170.04 258.53,170.05 258.66,170.05 258.79,170.05 258.92,170.05 259.05,170.06 259.18,170.06 259.31,170.06 259.44,170.07 259.57,170.07 259.69,170.07 259.82,170.07 259.95,170.08 260.08,170.08 260.21,170.08 260.34,170.08 260.47,170.09 260.60,170.09 260.73,170.09 260.86,170.09 260.99,170.10 261.11,170.10 261.24,170.10 261.37,170.10 261.50,170.11 261.63,170.11 261.76,170.11 261.89,170.11 262.02,170.12 262.15,170.12 262.27,170.12 262.40,170.12 262.53,170.13 262.66,170.13 262.79,170.13 262.92,170.13 263.05,170.14 263.18,170.14 263.31,170.14 263.44,170.14 263.56,170.15 263.69,170.15 263.82,170.15 263.95,170.15 264.08,170.15 264.21,170.16 264.34,170.16 264.47,170.16 264.60,170.16 264.73,170.17 264.86,170.17 264.98,170.17 265.11,170.17 265.24,170.17 265.37,170.18 265.50,170.18 265.63,170.18 265.76,170.18 265.89,170.19 266.02,170.19 266.14,170.19 266.27,170.19 266.40,170.19 266.53,170.20 266.66,170.20 266.79,170.20 266.92,170.20 267.05,170.20 267.18,170.21 267.31,170.21 267.44,170.21 267.56,170.21 267.69,170.21 267.82,170.22 267.95,170.22 268.08,170.22 268.21,170.22 268.34,170.22 268.47,170.23 268.60,170.23 268.72,170.23 268.85,170.23 268.98,170.23 269.11,170.24 269.24,170.24 269.37,170.24 269.50,170.24 269.63,170.24 269.76,170.25 269.89,170.25 270.01,170.25 270.14,170.25 270.27,170.25 270.40,170.25 270.53,170.26 270.66,170.26 270.79,170.26 270.92,170.26 271.05,170.26 271.18,170.27 271.31,170.27 271.43,170.27 271.56,170.27 271.69,170.27 271.82,170.27 271.95,170.28 272.08,170.28 272.21,170.28 272.34,170.28 272.47,170.28 272.59,170.28 272.72,170.29 272.85,170.29 272.98,170.29 273.11,170.29 273.24,170.29 273.37,170.29 273.50,170.30 273.63,170.30 273.76,170.30 273.88,170.30 274.01,170.30 274.14,170.30 274.27,170.31 274.40,170.31 274.53,170.31 274.66,170.31 274.79,170.31 274.92,170.31 275.05,170.32 275.17,170.32 275.30,170.32 275.43,170.32 275.56,170.32 275.69,170.32 275.82,170.32 275.95,170.33 276.08,170.33 276.21,170.33 276.34,170.33 276.46,170.33 276.59,170.33 276.72,170.33 276.85,170.34 276.98,170.34 277.11,170.34 277.24,170.34 277.37,170.34 277.50,170.34 277.63,170.34 277.75,170.35 277.88,170.35 278.01,170.35 278.14,170.35 278.27,170.35 278.40,170.35" fill="none" stroke="#0072BD" stroke-width="1.60" stroke-linejoin="round"/>
<polyline points="149.40,142.88 149.53,142.62 149.66,142.37 149.79,142.12 149.92,141.88 150.05,141.65 150.17,141.43 150.30,141.22 150.43,141.02 150.56,140.84 150.69,140.68 150.82,140.54 150.95,140.41 151.08,140.31 151.21,140.23 151.34,140.17 151.46,140.14 151.59,140.12 151.72,140.14 151.85,140.19 151.98,140.28 152.11,140.39 152.24,140.55 152.37,140.73 152.50,140.95 152.62,141.20 152.75,141.48 152.88,141.79 153.01,142.13 153.14,142.51 153.27,142.91 153.40,143.35 153.53,143.81 153.66,144.30 153.79,144.82 153.91,145.36 154.04,145.93 154.17,146.53 154.30,147.15 154.43,147.79 154.56,148.45 154.69,149.14 154.82,149.84 154.95,150.56 155.08,151.31 155.21,152.06 155.33,152.83 155.46,153.62 155.59,154.42 155.72,155.23 155.85,156.05 155.98,156.88 156.11,157.72 156.24,158.57 156.37,159.42 156.50,160.27 156.62,161.13 156.75,161.99 156.88,162.85 157.01,163.70 157.14,164.56 157.27,165.41 157.40,166.25 157.53,167.09 157.66,167.92 157.78,168.74 157.91,169.55 158.04,170.35 158.17,171.14 158.30,171.91 158.43,172.67 158.56,173.41 158.69,174.13 158.82,174.84 158.95,175.52 159.07,176.19 159.20,176.83 159.33,177.45 159.46,178.04 159.59,178.61 159.72,179.16 159.85,179.67 159.98,180.17 160.11,180.63 160.24,181.06 160.37,181.47 160.49,181.84 160.62,182.19 160.75,182.50 160.88,182.78 161.01,183.03 161.14,183.25 161.27,183.43 161.40,183.58 161.53,183.70 161.66,183.78 161.78,183.83 161.91,183.85 162.04,183.84 162.17,183.82 162.30,183.77 162.43,183.71 162.56,183.63 162.69,183.54 162.82,183.43 162.94,183.30 163.07,183.15 163.20,182.99 163.33,182.81 163.46,182.62 163.59,182.41 163.72,182.18 163.85,181.94 163.98,181.69 164.11,181.42 164.24,181.13 164.36,180.84 164.49,180.53 164.62,180.20 164.75,179.87 164.88,179.52 165.01,179.17 165.14,178.80 165.27,178.42 165.40,178.03 165.53,177.63 165.65,177.23 165.78,176.81 165.91,176.39 166.04,175.96 166.17,175.53 166.30,175.09 166.43,174.64 166.56,174.20 166.69,173.74 166.81,173.29 166.94,172.83 167.07,172.37 167.20,171.91 167.33,171.45 167.46,170.99 167.59,170.53 167.72,170.07 167.85,169.62 167.98,169.17 168.10,168.72 168.23,168.27 168.36,167.83 168.49,167.40 168.62,166.97 168.75,166.55 168.88,166.14 169.01,165.73 169.14,165.33 169.27,164.94 169.40,164.57 169.52,164.20 169.65,163.84 169.78,163.49 169.91,163.16 170.04,162.84 170.17,162.53 170.30,162.23 170.43,161.95 170.56,161.68 170.69,161.42 170.81,161.18 170.94,160.96 171.07,160.75 171.20,160.55 171.33,160.37 171.46,160.21 171.59,160.07 171.72,159.94 171.85,159.82 171.97,159.73 172.10,159.65 172.23,159.59 172.36,159.55 172.49,159.52 172.62,159.51 172.75,159.52 172.88,159.54 173.01,159.58 173.14,159.63 173.26,159.70 173.39,159.78 173.52,159.87 173.65,159.98 173.78,160.11 173.91,160.25 174.04,160.40 174.17,160.56 174.30,160.74 174.43,160.93 174.56,161.13 174.68,161.35 174.81,161.58 174.94,161.82 175.07,162.07 175.20,162.33 175.33,162.60 175.46,162.88 175.59,163.17 175.72,163.47 175.84,163.77 175.97,164.09 176.10,164.41 176.23,164.74 176.36,165.07 176.49,165.41 176.62,165.76 176.75,166.11 176.88,166.46 177.01,166.82 177.13,167.18 177.26,167.54 177.39,167.90 177.52,168.27 177.65,168.63 177.78,169.00 177.91,169.36 178.04,169.72 178.17,170.08 178.30,170.44 178.43,170.79 178.55,171.14 178.68,171.49 178.81,171.83 178.94,172.16 179.07,172.49 179.20,172.81 179.33,173.13 179.46,173.43 179.59,173.73 179.72,174.02 179.84,174.30 179.97,174.57 180.10,174.83 180.23,175.08 180.36,175.32 180.49,175.55 180.62,175.77 180.75,175.97 180.88,176.16 181.00,176.34 181.13,176.50 181.26,176.65 181.39,176.79 181.52,176.92 181.65,177.03 181.78,177.12 181.91,177.20 182.04,177.27 182.17,177.32 182.30,177.36 182.42,177.38 182.55,177.39 182.68,177.38 182.81,177.37 182.94,177.34 183.07,177.31 183.20,177.27 183.33,177.21 183.46,177.15 183.59,177.08 183.71,177.00 183.84,176.91 183.97,176.81 184.10,176.70 184.23,176.58 184.36,176.46 184.49,176.33 184.62,176.18 184.75,176.04 184.88,175.88 185.00,175.72 185.13,175.55 185.26,175.37 185.39,175.19 185.52,175.00 185.65,174.80 185.78,174.60 185.91,174.40 186.04,174.19 186.16,173.97 186.29,173.76 186.42,173.53 186.55,173.31 186.68,173.08 186.81,172.85 186.94,172.62 187.07,172.39 187.20,172.15 187.33,171.92 187.46,171.68 187.58,171.45 187.71,171.21 187.84,170.98 187.97,170.74 188.10,170.51 188.23,170.28 188.36,170.05 188.49,169.83 188.62,169.61 188.75,169.39 188.87,169.18 189.00,168.97 189.13,168.76 189.26,168.56 189.39,168.37 189.52,168.18 189.65,167.99 189.78,167.82 189.91,167.65 190.03,167.48 190.16,167.33 190.29,167.18 190.42,167.04 190.55,166.90 190.68,166.78 190.81,166.66 190.94,166.55 191.07,166.46 191.20,166.37 191.32,166.28 191.45,166.21 191.58,166.15 191.71,166.10 191.84,166.05 191.97,166.02 192.10,165.99 192.23,165.98 192.36,165.97 192.49,165.98 192.62,165.99 192.74,166.01 192.87,166.03 193.00,166.06 193.13,166.10 193.26,166.14 193.39,166.19 193.52,166.25 193.65,166.32 193.78,166.39 193.91,166.46 194.03,166.55 194.16,166.64 194.29,166.73 194.42,166.83 194.55,166.94 194.68,167.05 194.81,167.16 194.94,167.28 195.07,167.41 195.19,167.54 195.32,167.67 195.45,167.81 195.58,167.95 195.71,168.10 195.84,168.25 195.97,168.40 196.10,168.56 196.23,168.71 196.36,168.87 196.48,169.04 196.61,169.20 196.74,169.36 196.87,169.53 197.00,169.70 197.13,169.86 197.26,170.03 197.39,170.20 197.52,170.37 197.65,170.53 197.77,170.70 197.90,170.86 198.03,171.03 198.16,171.19 198.29,171.35 198.42,171.51 198.55,171.66 198.68,171.81 198.81,171.96 198.94,172.11 199.06,172.25 199.19,172.39 199.32,172.52 199.45,172.65 199.58,172.78 199.71,172.90 199.84,173.02 199.97,173.13 200.10,173.23 200.23,173.33 200.35,173.43 200.48,173.52 200.61,173.60 200.74,173.68 200.87,173.75 201.00,173.81 201.13,173.87 201.26,173.92 201.39,173.96 201.52,174.00 201.64,174.03 201.77,174.06 201.90,174.07 202.03,174.08 202.16,174.09 202.29,174.08 202.42,174.08 202.55,174.06 202.68,174.05 202.81,174.02 202.94,174.00 203.06,173.96 203.19,173.93 203.32,173.88 203.45,173.84 203.58,173.78 203.71,173.73 203.84,173.67 203.97,173.60 204.10,173.53 204.22,173.46 204.35,173.38 204.48,173.30 204.61,173.22 204.74,173.13 204.87,173.04 205.00,172.94 205.13,172.85 205.26,172.75 205.39,172.65 205.51,172.54 205.64,172.43 205.77,172.33 205.90,172.22 206.03,172.10 206.16,171.99 206.29,171.88 206.42,171.76 206.55,171.65 206.68,171.53 206.81,171.42 206.93,171.30 207.06,171.19 207.19,171.07 207.32,170.96 207.45,170.85 207.58,170.73 207.71,170.62 207.84,170.52 207.97,170.41 208.09,170.30 208.22,170.20 208.35,170.10 208.48,170.01 208.61,169.91 208.74,169.82 208.87,169.73 209.00,169.65 209.13,169.57 209.26,169.49 209.38,169.42 209.51,169.35 209.64,169.28 209.77,169.22 209.90,169.17 210.03,169.11 210.16,169.07 210.29,169.02 210.42,168.99 210.55,168.95 210.67,168.93 210.80,168.90 210.93,168.89 211.06,168.87 211.19,168.87 211.32,168.86 211.45,168.86 211.58,168.87 211.71,168.87 211.84,168.88 211.97,168.89 212.09,168.90 212.22,168.92 212.35,168.94 212.48,168.96 212.61,168.98 212.74,169.00 212.87,169.03 213.00,169.06 213.13,169.09 213.25,169.12 213.38,169.15 213.51,169.19 213.64,169.22 213.77,169.26 213.90,169.31 214.03,169.35 214.16,169.39 214.29,169.44 214.42,169.49 214.54,169.53 214.67,169.58 214.80,169.64 214.93,169.69 215.06,169.74 215.19,169.80 215.32,169.85 215.45,169.91 215.58,169.96 215.71,170.02 215.83,170.08 215.96,170.14 216.09,170.20 216.22,170.26 216.35,170.32 216.48,170.38 216.61,170.43 216.74,170.49 216.87,170.55 217.00,170.61 217.12,170.67 217.25,170.73 217.38,170.79 217.51,170.84 217.64,170.90 217.77,170.95 217.90,171.01 218.03,171.06 218.16,171.11 218.29,171.17 218.41,171.22 218.54,171.26 218.67,171.31 218.80,171.36 218.93,171.40 219.06,171.44 219.19,171.49 219.32,171.53 219.45,171.56 219.58,171.60 219.70,171.63 219.83,171.66 219.96,171.69 220.09,171.72 220.22,171.75 220.35,171.77 220.48,171.79 220.61,171.81 220.74,171.83 220.87,171.85 220.99,171.86 221.12,171.87 221.25,171.88 221.38,171.88 221.51,171.89 221.64,171.89 221.77,171.89 221.90,171.88 222.03,171.88 222.16,171.87 222.28,171.86 222.41,171.86 222.54,171.84 222.67,171.83 222.80,171.82 222.93,171.80 223.06,171.78 223.19,171.76 223.32,171.74 223.45,171.72 223.57,171.69 223.70,171.66 223.83,171.64 223.96,171.61 224.09,171.58 224.22,171.55 224.35,171.51 224.48,171.48 224.61,171.44 224.74,171.41 224.87,171.37 224.99,171.33 225.12,171.30 225.25,171.26 225.38,171.22 225.51,171.17 225.64,171.13 225.77,171.09 225.90,171.05 226.03,171.01 226.15,170.96 226.28,170.92 226.41,170.88 226.54,170.83 226.67,170.79 226.80,170.75 226.93,170.71 227.06,170.66 227.19,170.62 227.32,170.58 227.44,170.54 227.57,170.50 227.70,170.46 227.83,170.42 227.96,170.38 228.09,170.34 228.22,170.30 228.35,170.27 228.48,170.23 228.61,170.20 228.73,170.17 228.86,170.13 228.99,170.10 229.12,170.08 229.25,170.05 229.38,170.02 229.51,170.00 229.64,169.97 229.77,169.95 229.90,169.93 230.02,169.91 230.15,169.90 230.28,169.88 230.41,169.87 230.54,169.86 230.67,169.85 230.80,169.84 230.93,169.83 231.06,169.83 231.19,169.83 231.31,169.83 231.44,169.83 231.57,169.83 231.70,169.83 231.83,169.83 231.96,169.84 232.09,169.84 232.22,169.85 232.35,169.86 232.48,169.87 232.60,169.87 232.73,169.88 232.86,169.90 232.99,169.91 233.12,169.92 233.25,169.94 233.38,169.95 233.51,169.97 233.64,169.98 233.77,170.00 233.89,170.02 234.02,170.03 234.15,170.05 234.28,170.07 234.41,170.09 234.54,170.12 234.67,170.14 234.80,170.16 234.93,170.18 235.06,170.20 235.19,170.23 235.31,170.25 235.44,170.28 235.57,170.30 235.70,170.33 235.83,170.35 235.96,170.38 236.09,170.40 236.22,170.43 236.35,170.45 236.47,170.48 236.60,170.50 236.73,170.53 236.86,170.55 236.99,170.58 237.12,170.61 237.25,170.63 237.38,170.66 237.51,170.68 237.64,170.70 237.76,170.73 237.89,170.75 238.02,170.77 238.15,170.80 238.28,170.82 238.41,170.84 238.54,170.86 238.67,170.88 238.80,170.90 238.93,170.92 239.06,170.94 239.18,170.96 239.31,170.97 239.44,170.99 239.57,171.01 239.70,171.02 239.83,171.04 239.96,171.05 240.09,171.06 240.22,171.07 240.34,171.08 240.47,171.09 240.60,171.10 240.73,171.11 240.86,171.11 240.99,171.12 241.12,171.12 241.25,171.13 241.38,171.13 241.51,171.13 241.63,171.13 241.76,171.13 241.89,171.13 242.02,171.13 242.15,171.13 242.28,171.12 242.41,171.12 242.54,171.12 242.67,171.11 242.80,171.10 242.92,171.10 243.05,171.09 243.18,171.08 243.31,171.08 243.44,171.07 243.57,171.06 243.70,171.05 243.83,171.04 243.96,171.03 244.09,171.02 244.22,171.01 244.34,170.99 244.47,170.98 244.60,170.97 244.73,170.96 244.86,170.94 244.99,170.93 245.12,170.91 245.25,170.90 245.38,170.88 245.50,170.87 245.63,170.85 245.76,170.84 245.89,170.82 246.02,170.81 246.15,170.79 246.28,170.78 246.41,170.76 246.54,170.75 246.67,170.73 246.79,170.71 246.92,170.70 247.05,170.68 247.18,170.67 247.31,170.65 247.44,170.64 247.57,170.62 247.70,170.61 247.83,170.59 247.96,170.58 248.08,170.56 248.21,170.55 248.34,170.54 248.47,170.52 248.60,170.51 248.73,170.50 248.86,170.49 248.99,170.48 249.12,170.47 249.25,170.46 249.38,170.45 249.50,170.44 249.63,170.43 249.76,170.42 249.89,170.41 250.02,170.41 250.15,170.40 250.28,170.40 250.41,170.39 250.54,170.39 250.66,170.38 250.79,170.38 250.92,170.38 251.05,170.38 251.18,170.38 251.31,170.38 251.44,170.38 251.57,170.38 251.70,170.38 251.83,170.38 251.95,170.38 252.08,170.38 252.21,170.38 252.34,170.39 252.47,170.39 252.60,170.39 252.73,170.39 252.86,170.40 252.99,170.40 253.12,170.41 253.25,170.41 253.37,170.41 253.50,170.42 253.63,170.42 253.76,170.43 253.89,170.44 254.02,170.44 254.15,170.45 254.28,170.45 254.41,170.46 254.53,170.47 254.66,170.47 254.79,170.48 254.92,170.49 255.05,170.49 255.18,170.50 255.31,170.51 255.44,170.52 255.57,170.53 255.70,170.53 255.82,170.54 255.95,170.55 256.08,170.56 256.21,170.57 256.34,170.57 256.47,170.58 256.60,170.59 256.73,170.60 256.86,170.61 256.99,170.61 257.12,170.62 257.24,170.63 257.37,170.64 257.50,170.64 257.63,170.65 257.76,170.66 257.89,170.67 258.02,170.67 258.15,170.68 258.28,170.69 258.40,170.70 258.53,170.70 258.66,170.71 258.79,170.72 258.92,170.72 259.05,170.73 259.18,170.73 259.31,170.74 259.44,170.74 259.57,170.75 259.69,170.75 259.82,170.76 259.95,170.76 260.08,170.77 260.21,170.77 260.34,170.77 260.47,170.77 260.60,170.78 260.73,170.78 260.86,170.78 260.99,170.78 261.11,170.78 261.24,170.79 261.37,170.79 261.50,170.79 261.63,170.79 261.76,170.79 261.89,170.79 262.02,170.79 262.15,170.79 262.27,170.79 262.40,170.78 262.53,170.78 262.66,170.78 262.79,170.78 262.92,170.78 263.05,170.78 263.18,170.78 263.31,170.77 263.44,170.77 263.56,170.77 263.69,170.77 263.82,170.77 263.95,170.76 264.08,170.76 264.21,170.76 264.34,170.75 264.47,170.75 264.60,170.75 264.73,170.74 264.86,170.74 264.98,170.74 265.11,170.73 265.24,170.73 265.37,170.73 265.50,170.72 265.63,170.72 265.76,170.72 265.89,170.71 266.02,170.71 266.14,170.70 266.27,170.70 266.40,170.70 266.53,170.69 266.66,170.69 266.79,170.68 266.92,170.68 267.05,170.68 267.18,170.67 267.31,170.67 267.44,170.66 267.56,170.66 267.69,170.66 267.82,170.65 267.95,170.65 268.08,170.64 268.21,170.64 268.34,170.64 268.47,170.63 268.60,170.63 268.72,170.63 268.85,170.62 268.98,170.62 269.11,170.62 269.24,170.61 269.37,170.61 269.50,170.61 269.63,170.61 269.76,170.60 269.89,170.60 270.01,170.60 270.14,170.60 270.27,170.59 270.40,170.59 270.53,170.59 270.66,170.59 270.79,170.59 270.92,170.59 271.05,170.59 271.18,170.58 271.31,170.58 271.43,170.58 271.56,170.58 271.69,170.58 271.82,170.58 271.95,170.58 272.08,170.58 272.21,170.58 272.34,170.58 272.47,170.58 272.59,170.58 272.72,170.58 272.85,170.58 272.98,170.58 273.11,170.58 273.24,170.58 273.37,170.58 273.50,170.58 273.63,170.58 273.76,170.58 273.88,170.58 274.01,170.58 274.14,170.58 274.27,170.58 274.40,170.58 274.53,170.58 274.66,170.58 274.79,170.58 274.92,170.58 275.05,170.58 275.17,170.58 275.30,170.58 275.43,170.58 275.56,170.58 275.69,170.58 275.82,170.58 275.95,170.58 276.08,170.58 276.21,170.58 276.34,170.58 276.46,170.58 276.59,170.58 276.72,170.58 276.85,170.59 276.98,170.59 277.11,170.59 277.24,170.59 277.37,170.59 277.50,170.59 277.63,170.59 277.75,170.59 277.88,170.59 278.01,170.59 278.14,170.59 278.27,170.59 278.40,170.59" fill="none" stroke="#D95319" stroke-width="1.60" stroke-dasharray="3.4,3.6"/>
</g>
<g fill="#161616" stroke="#161616" stroke-width="0.12">
<text x="149.40" y="191.90" font-size="5.00" text-anchor="middle">0</text>
<text x="175.20" y="191.90" font-size="5.00" text-anchor="middle">2</text>
<text x="201.00" y="191.90" font-size="5.00" text-anchor="middle">4</text>
<text x="226.80" y="191.90" font-size="5.00" text-anchor="middle">6</text>
<text x="252.60" y="191.90" font-size="5.00" text-anchor="middle">8</text>
<text x="278.40" y="191.90" font-size="5.00" text-anchor="middle">10</text>
<text x="148.10" y="186.20" font-size="5.20" text-anchor="end">-1</text>
<text x="148.10" y="172.45" font-size="5.20" text-anchor="end">0</text>
<text x="148.10" y="158.70" font-size="5.20" text-anchor="end">1</text>
<text x="148.10" y="144.95" font-size="5.20" text-anchor="end">2</text>
<text x="148.10" y="131.20" font-size="5.20" text-anchor="end">3</text>
<text x="213.90" y="199.10" font-size="5.50" text-anchor="middle">t/s</text>
<text transform="translate(138.1,156.90) rotate(-90)" font-size="5.6" text-anchor="middle">e<tspan font-size="3.8" dy="1.4">y</tspan><tspan dy="-1.4">(t)/m</tspan></text>
</g>
<rect x="198.3" y="132.40" width="76.00" height="16.80" fill="#fff" stroke="#b8b8b8" stroke-width="0.8"/>
<path d="M200.4,137.10H218.4" stroke="#0072BD" stroke-width="1.60"/>
<path d="M200.4,145.10H218.4" stroke="#D95319" stroke-width="1.60" stroke-dasharray="4.5,2.8"/>
<g fill="#161616" stroke="#161616" stroke-width="0.12">
<text x="219.70" y="139.40" font-size="6.00" text-anchor="start">our controller</text>
<text x="219.70" y="147.50" font-size="6.00" text-anchor="start">traditional controller</text>
</g>
<rect x="407.5" y="135.20" width="126.80" height="31.0" fill="#fff" stroke="#b8b8b8" stroke-width="1.00"/>
<path d="M408.9,143.50H427" stroke="#0072BD" stroke-width="1.7"/>
<path d="M408.9,158.30H427" stroke="#D95319" stroke-width="1.7" stroke-dasharray="4,3"/>
<g fill="#161616" stroke="#161616" stroke-width="0.20">
<text x="428.60" y="148.50" font-size="11.90" text-anchor="start">our controller</text>
<text x="428.60" y="163.50" font-size="11.90" text-anchor="start">traditional controller</text>
</g>
<rect x="40.00" y="240.50" width="499.50" height="55.30" fill="none" stroke="#b8b8b8" stroke-width="1.00"/>
<path d="M40.00,295.80V291.00M40.00,240.50V245.30M123.25,295.80V291.00M123.25,240.50V245.30M206.50,295.80V291.00M206.50,240.50V245.30M289.75,295.80V291.00M289.75,240.50V245.30M373.00,295.80V291.00M373.00,240.50V245.30M456.25,295.80V291.00M456.25,240.50V245.30M539.50,295.80V291.00M539.50,240.50V245.30M40.00,290.32H44.80M539.50,290.32H534.70M40.00,248.80H44.80M539.50,248.80H534.70" stroke="#b8b8b8" stroke-width="1.00" fill="none"/>
<g clip-path="url(#cm2)">
<polyline points="40.00,275.91 40.17,275.99 40.33,276.02 40.50,276.00 40.67,275.90 40.83,275.73 41.00,275.48 41.17,275.17 41.33,274.82 41.50,274.47 41.66,274.16 41.83,273.93 42.00,273.83 42.16,273.89 42.33,274.05 42.50,274.23 42.66,274.44 42.83,274.67 43.00,274.93 43.16,275.21 43.33,275.51 43.50,275.82 43.66,276.14 43.83,276.47 44.00,276.81 44.16,277.14 44.33,277.47 44.50,277.80 44.66,278.11 44.83,278.42 44.99,278.72 45.16,279.00 45.33,279.26 45.49,279.52 45.66,279.75 45.83,279.98 45.99,280.18 46.16,280.38 46.33,280.56 46.49,280.72 46.66,280.88 46.83,281.02 46.99,281.16 47.16,281.29 47.33,281.41 47.49,281.52 47.66,281.63 47.83,281.73 47.99,281.82 48.16,281.92 48.33,282.01 48.49,282.09 48.66,282.18 48.82,282.26 48.99,282.34 49.16,282.41 49.32,282.49 49.49,282.56 49.66,282.63 49.82,282.71 49.99,282.78 50.16,282.84 50.32,282.91 50.49,282.98 50.66,283.04 50.82,283.11 50.99,283.17 51.16,283.23 51.32,283.29 51.49,283.35 51.66,283.41 51.82,283.47 51.99,283.52 52.15,283.58 52.32,283.63 52.49,283.69 52.65,283.74 52.82,283.79 52.99,283.84 53.15,283.89 53.32,283.94 53.49,283.99 53.65,284.04 53.82,284.09 53.99,284.13 54.15,284.18 54.32,284.22 54.49,284.27 54.65,284.31 54.82,284.35 54.98,284.39 55.15,284.43 55.32,284.47 55.48,284.51 55.65,284.55 55.82,284.59 55.98,284.63 56.15,284.66 56.32,284.70 56.48,284.73 56.65,284.77 56.82,284.80 56.98,284.83 57.15,284.87 57.32,284.90 57.48,284.93 57.65,284.96 57.82,284.99 57.98,285.02 58.15,285.05 58.31,285.08 58.48,285.10 58.65,285.13 58.81,285.16 58.98,285.18 59.15,285.21 59.31,285.23 59.48,285.26 59.65,285.28 59.81,285.30 59.98,285.33 60.15,285.35 60.31,285.37 60.48,285.39 60.65,285.41 60.81,285.43 60.98,285.45 61.15,285.47 61.31,285.49 61.48,285.51 61.64,285.53 61.81,285.54 61.98,285.56 62.14,285.58 62.31,285.59 62.48,285.61 62.64,285.62 62.81,285.64 62.98,285.65 63.14,285.67 63.31,285.68 63.48,285.69 63.64,285.71 63.81,285.72 63.98,285.73 64.14,285.74 64.31,285.75 64.48,285.77 64.64,285.78 64.81,285.79 64.97,285.80 65.14,285.81 65.31,285.82 65.47,285.82 65.64,285.83 65.81,285.84 65.97,285.85 66.14,285.86 66.31,285.86 66.47,285.87 66.64,285.88 66.81,285.88 66.97,285.89 67.14,285.90 67.31,285.90 67.47,285.91 67.64,285.91 67.81,285.92 67.97,285.92 68.14,285.93 68.31,285.93 68.47,285.93 68.64,285.94 68.80,285.94 68.97,285.94 69.14,285.95 69.30,285.95 69.47,285.95 69.64,285.95 69.80,285.95 69.97,285.95 70.14,285.96 70.30,285.96 70.47,285.96 70.64,285.96 70.80,285.96 70.97,285.96 71.14,285.96 71.30,285.96 71.47,285.96 71.64,285.96 71.80,285.96 71.97,285.95 72.13,285.95 72.30,285.95 72.47,285.95 72.63,285.95 72.80,285.95 72.97,285.94 73.13,285.94 73.30,285.94 73.47,285.93 73.63,285.93 73.80,285.93 73.97,285.93 74.13,285.92 74.30,285.92 74.47,285.91 74.63,285.91 74.80,285.91 74.97,285.90 75.13,285.90 75.30,285.89 75.46,285.89 75.63,285.88 75.80,285.88 75.96,285.87 76.13,285.87 76.30,285.86 76.46,285.85 76.63,285.85 76.80,285.84 76.96,285.84 77.13,285.83 77.30,285.82 77.46,285.82 77.63,285.81 77.80,285.80 77.96,285.80 78.13,285.79 78.30,285.78 78.46,285.77 78.63,285.77 78.79,285.76 78.96,285.75 79.13,285.74 79.29,285.74 79.46,285.73 79.63,285.72 79.79,285.71 79.96,285.70 80.13,285.70 80.29,285.69 80.46,285.68 80.63,285.67 80.79,285.66 80.96,285.65 81.13,285.64 81.29,285.63 81.46,285.62 81.62,285.61 81.79,285.60 81.96,285.60 82.12,285.59 82.29,285.58 82.46,285.57 82.62,285.56 82.79,285.55 82.96,285.54 83.12,285.53 83.29,285.52 83.46,285.51 83.62,285.50 83.79,285.48 83.96,285.47 84.12,285.46 84.29,285.45 84.46,285.44 84.62,285.43 84.79,285.42 84.96,285.41 85.12,285.40 85.29,285.39 85.45,285.38 85.62,285.36 85.79,285.35 85.95,285.34 86.12,285.33 86.29,285.32 86.45,285.31 86.62,285.30 86.79,285.28 86.95,285.27 87.12,285.26 87.29,285.25 87.45,285.24 87.62,285.22 87.79,285.21 87.95,285.20 88.12,285.19 88.28,285.17 88.45,285.16 88.62,285.15 88.78,285.14 88.95,285.12 89.12,285.11 89.28,285.10 89.45,285.09 89.62,285.07 89.78,285.06 89.95,285.05 90.12,285.04 90.28,285.02 90.45,285.01 90.62,285.00 90.78,284.98 90.95,284.97 91.12,284.96 91.28,284.94 91.45,284.93 91.62,284.92 91.78,284.90 91.95,284.89 92.11,284.88 92.28,284.86 92.45,284.85 92.61,284.84 92.78,284.82 92.95,284.81 93.11,284.80 93.28,284.78 93.45,284.77 93.61,284.76 93.78,284.74 93.95,284.73 94.11,284.71 94.28,284.70 94.45,284.69 94.61,284.67 94.78,284.66 94.95,284.64 95.11,284.63 95.28,284.62 95.44,284.60 95.61,284.59 95.78,284.57 95.94,284.56 96.11,284.54 96.28,284.53 96.44,284.52 96.61,284.50 96.78,284.49 96.94,284.47 97.11,284.46 97.28,284.44 97.44,284.43 97.61,284.41 97.78,284.40 97.94,284.39 98.11,284.37 98.28,284.36 98.44,284.34 98.61,284.33 98.77,284.31 98.94,284.30 99.11,284.28 99.27,284.27 99.44,284.25 99.61,284.24 99.77,284.22 99.94,284.21 100.11,284.19 100.27,284.18 100.44,284.16 100.61,284.15 100.77,284.13 100.94,284.12 101.11,284.10 101.27,284.09 101.44,284.07 101.61,284.06 101.77,284.04 101.94,284.03 102.10,284.01 102.27,284.00 102.44,283.98 102.60,283.97 102.77,283.95 102.94,283.94 103.10,283.92 103.27,283.91 103.44,283.89 103.60,283.88 103.77,283.86 103.94,283.85 104.10,283.83 104.27,283.82 104.44,283.80 104.60,283.78 104.77,283.77 104.94,283.75 105.10,283.74 105.27,283.72 105.43,283.71 105.60,283.69 105.77,283.68 105.93,283.66 106.10,283.65 106.27,283.63 106.43,283.61 106.60,283.60 106.77,283.58 106.93,283.57 107.10,283.55 107.27,283.54 107.43,283.52 107.60,283.50 107.77,283.49 107.93,283.47 108.10,283.46 108.27,283.44 108.43,283.43 108.60,283.41 108.76,283.39 108.93,283.38 109.10,283.36 109.26,283.35 109.43,283.33 109.60,283.32 109.76,283.30 109.93,283.28 110.10,283.27 110.26,283.25 110.43,283.24 110.60,283.22 110.76,283.21 110.93,283.19 111.10,283.17 111.26,283.16 111.43,283.14 111.59,283.13 111.76,283.11 111.93,283.09 112.09,283.08 112.26,283.06 112.43,283.05 112.59,283.03 112.76,283.01 112.93,283.00 113.09,282.98 113.26,282.97 113.43,282.95 113.59,282.93 113.76,282.92 113.93,282.90 114.09,282.89 114.26,282.87 114.43,282.85 114.59,282.84 114.76,282.82 114.92,282.81 115.09,282.79 115.26,282.77 115.42,282.76 115.59,282.74 115.76,282.73 115.92,282.71 116.09,282.69 116.26,282.68 116.42,282.66 116.59,282.64 116.76,282.63 116.92,282.61 117.09,282.60 117.26,282.58 117.42,282.56 117.59,282.55 117.76,282.53 117.92,282.52 118.09,282.50 118.26,282.48 118.42,282.47 118.59,282.45 118.75,282.43 118.92,282.42 119.09,282.40 119.25,282.39 119.42,282.37 119.59,282.35 119.75,282.34 119.92,282.32 120.09,282.30 120.25,282.29 120.42,282.27 120.59,282.26 120.75,282.24 120.92,282.22 121.09,282.21 121.25,282.19 121.42,282.17 121.59,282.16 121.75,282.14 121.92,282.13 122.08,282.11 122.25,282.09 122.42,282.08 122.58,282.06 122.75,282.04 122.92,282.03 123.08,282.01 123.25,282.00 123.42,281.98 123.58,281.96 123.75,281.95 123.92,281.93 124.08,281.91 124.25,281.90 124.42,281.88 124.58,281.86 124.75,281.85 124.92,281.83 125.08,281.82 125.25,281.80 125.41,281.78 125.58,281.77 125.75,281.75 125.91,281.73 126.08,281.72 126.25,281.70 126.41,281.68 126.58,281.67 126.75,281.65 126.91,281.64 127.08,281.62 127.25,281.60 127.41,281.59 127.58,281.57 127.75,281.55 127.91,281.54 128.08,281.52 128.25,281.50 128.41,281.49 128.58,281.47 128.74,281.45 128.91,281.44 129.08,281.42 129.24,281.41 129.41,281.39 129.58,281.37 129.74,281.36 129.91,281.34 130.08,281.32 130.24,281.31 130.41,281.29 130.58,281.27 130.74,281.26 130.91,281.24 131.08,281.22 131.24,281.21 131.41,281.19 131.57,281.17 131.74,281.16 131.91,281.14 132.07,281.13 132.24,281.11 132.41,281.09 132.57,281.08 132.74,281.06 132.91,281.04 133.07,281.03 133.24,281.01 133.41,280.99 133.57,280.98 133.74,280.96 133.91,280.94 134.07,280.93 134.24,280.91 134.41,280.89 134.57,280.88 134.74,280.86 134.91,280.85 135.07,280.83 135.24,280.81 135.40,280.80 135.57,280.78 135.74,280.76 135.90,280.75 136.07,280.73 136.24,280.71 136.40,280.70 136.57,280.68 136.74,280.66 136.90,280.65 137.07,280.63 137.24,280.61 137.40,280.60 137.57,280.58 137.74,280.56 137.90,280.55 138.07,280.53 138.24,280.52 138.40,280.50 138.57,280.48 138.73,280.47 138.90,280.45 139.07,280.43 139.23,280.42 139.40,280.40 139.57,280.38 139.73,280.37 139.90,280.35 141.56,280.18 143.23,280.02 144.89,279.85 146.56,279.69 148.22,279.52 149.89,279.36 151.55,279.19 153.22,279.03 154.88,278.86 156.55,278.69 158.21,278.53 159.88,278.36 161.54,278.20 163.21,278.03 164.87,277.86 166.54,277.70 168.20,277.53 169.87,277.37 171.53,277.20 173.20,277.03 174.86,276.87 176.53,276.70 178.19,276.54 179.86,276.37 181.52,276.20 183.19,276.04 184.85,275.87 186.52,275.71 188.18,275.54 189.85,275.37 191.51,275.21 193.18,275.04 194.84,274.88 196.51,274.71 198.17,274.54 199.84,274.38 201.50,274.21 203.17,274.05 204.83,273.88 206.50,273.71 208.16,273.55 209.83,273.38 211.49,273.21 213.16,273.05 214.82,272.88 216.49,272.72 218.15,272.55 219.82,272.38 221.48,272.22 223.15,272.05 224.81,271.89 226.48,271.72 228.14,271.55 229.81,271.39 231.47,271.22 233.14,271.06 234.80,270.89 236.47,270.72 238.13,270.56 239.80,270.39 241.46,270.23 243.13,270.06 244.79,269.89 246.46,269.73 248.12,269.56 249.79,269.40 251.45,269.23 253.12,269.06 254.78,268.90 256.45,268.73 258.11,268.57 259.78,268.40 261.44,268.23 263.11,268.07 264.77,267.90 266.44,267.73 268.10,267.57 269.77,267.40 271.43,267.24 273.10,267.07 274.76,266.90 276.43,266.74 278.09,266.57 279.76,266.41 281.42,266.24 283.09,266.07 284.75,265.91 286.42,265.74 288.08,265.58 289.75,265.41 291.41,265.24 293.08,265.08 294.74,264.91 296.41,264.75 298.07,264.58 299.74,264.41 301.40,264.25 303.07,264.08 304.73,263.92 306.40,263.75 308.06,263.58 309.73,263.42 311.39,263.25 313.06,263.08 314.72,262.92 316.39,262.75 318.05,262.59 319.72,262.42 321.38,262.25 323.05,262.09 324.71,261.92 326.38,261.76 328.04,261.59 329.71,261.42 331.37,261.26 333.04,261.09 334.70,260.93 336.37,260.76 338.03,260.59 339.70,260.43 341.36,260.26 343.03,260.10 344.69,259.93 346.36,259.76 348.02,259.60 349.69,259.43 351.35,259.27 353.02,259.10 354.68,258.93 356.35,258.77 358.01,258.60 359.68,258.44 361.34,258.27 363.01,258.10 364.67,257.94 366.34,257.77 368.00,257.60 369.67,257.44 371.33,257.27 373.00,257.11 374.66,256.94 376.33,256.77 377.99,256.61 379.66,256.44 381.32,256.28 382.99,256.11 384.65,255.94 386.32,255.78 387.98,255.61 389.65,255.45 391.31,255.28 392.98,255.11 394.64,254.95 396.31,254.78 397.97,254.62 399.64,254.45 401.30,254.28 402.97,254.12 404.63,253.95 406.30,253.79 407.96,253.62 409.63,253.45 411.29,253.29 412.96,253.12 414.62,252.95 416.29,252.79 417.95,252.62 419.62,252.46 421.28,252.29 422.95,252.12 424.61,251.96 426.28,251.79 427.94,251.63 429.61,251.46 431.27,251.29 432.94,251.13 434.60,250.96 436.27,250.80 437.93,250.63 439.60,250.46 441.26,250.30 442.93,250.13 444.59,249.97 446.26,249.80 447.92,249.63 449.59,249.47 451.25,249.30 452.92,249.14 454.58,248.97 456.25,248.80 457.91,248.64 459.58,248.47 461.24,248.31 462.91,248.14 464.57,247.97 466.24,247.81 467.90,247.64 469.57,247.47 471.23,247.31 472.90,247.14 474.56,246.98 476.23,246.81 477.89,246.64 479.56,246.48 481.22,246.31 482.89,246.15 484.55,245.98 486.22,245.81 487.88,245.65 489.55,245.48 491.21,245.32 492.88,245.15 494.54,244.98 496.21,244.82 497.87,244.65 499.54,244.49 501.20,244.32 502.87,244.15 504.53,243.99 506.20,243.82 507.86,243.66 509.53,243.49 511.19,243.32 512.86,243.16 514.52,242.99 516.19,242.82 517.85,242.66 519.52,242.49 521.18,242.33 522.85,242.16 524.51,241.99 526.18,241.83 527.84,241.66 529.51,241.50 531.17,241.33 532.84,241.16 534.50,241.00 536.17,240.83 537.83,240.67 539.50,240.50" fill="none" stroke="#0072BD" stroke-width="1.60" stroke-linejoin="round"/>
<polyline points="40.00,277.53 40.17,277.03 40.33,276.55 40.50,276.08 40.67,275.64 40.83,275.25 41.00,274.90 41.17,274.61 41.33,274.39 41.50,274.23 41.66,274.14 41.83,274.12 42.00,274.17 42.16,274.28 42.33,274.46 42.50,274.69 42.66,274.99 42.83,275.35 43.00,275.77 43.16,276.24 43.33,276.76 43.50,277.33 43.66,277.94 43.83,278.60 44.00,279.30 44.16,280.03 44.33,280.78 44.50,281.57 44.66,282.37 44.83,283.19 44.99,284.02 45.16,284.86 45.33,285.70 45.49,286.53 45.66,287.36 45.83,288.17 45.99,288.96 46.16,289.73 46.33,290.48 46.49,291.19 46.66,291.87 46.83,292.50 46.99,293.10 47.16,293.64 47.33,294.14 47.49,294.58 47.66,294.97 47.83,295.30 47.99,295.57 48.16,295.78 48.33,295.92 48.49,296.00 48.66,296.02 48.82,295.98 48.99,295.91 49.16,295.81 49.32,295.67 49.49,295.49 49.66,295.29 49.82,295.05 49.99,294.78 50.16,294.48 50.32,294.16 50.49,293.81 50.66,293.44 50.82,293.04 50.99,292.63 51.16,292.20 51.32,291.76 51.49,291.31 51.66,290.85 51.82,290.38 51.99,289.91 52.15,289.44 52.32,288.98 52.49,288.52 52.65,288.06 52.82,287.62 52.99,287.19 53.15,286.78 53.32,286.39 53.49,286.02 53.65,285.67 53.82,285.34 53.99,285.05 54.15,284.78 54.32,284.54 54.49,284.33 54.65,284.16 54.82,284.02 54.98,283.91 55.15,283.84 55.32,283.81 55.48,283.81 55.65,283.84 55.82,283.89 55.98,283.98 56.15,284.09 56.32,284.23 56.48,284.40 56.65,284.59 56.82,284.81 56.98,285.05 57.15,285.30 57.32,285.58 57.48,285.87 57.65,286.17 57.82,286.49 57.98,286.81 58.15,287.14 58.31,287.48 58.48,287.82 58.65,288.16 58.81,288.49 58.98,288.82 59.15,289.14 59.31,289.45 59.48,289.75 59.65,290.03 59.81,290.30 59.98,290.54 60.15,290.77 60.31,290.97 60.48,291.15 60.65,291.31 60.81,291.43 60.98,291.53 61.15,291.61 61.31,291.65 61.48,291.66 61.64,291.65 61.81,291.61 61.98,291.56 62.14,291.50 62.31,291.42 62.48,291.32 62.64,291.21 62.81,291.08 62.98,290.94 63.14,290.79 63.31,290.62 63.48,290.45 63.64,290.26 63.81,290.06 63.98,289.86 64.14,289.65 64.31,289.44 64.48,289.22 64.64,288.99 64.81,288.77 64.97,288.54 65.14,288.32 65.31,288.10 65.47,287.88 65.64,287.67 65.81,287.46 65.97,287.26 66.14,287.07 66.31,286.89 66.47,286.72 66.64,286.56 66.81,286.41 66.97,286.28 67.14,286.16 67.31,286.06 67.47,285.97 67.64,285.89 67.81,285.84 67.97,285.79 68.14,285.77 68.31,285.76 68.47,285.76 68.64,285.77 68.80,285.79 68.97,285.82 69.14,285.86 69.30,285.90 69.47,285.96 69.64,286.03 69.80,286.10 69.97,286.18 70.14,286.27 70.30,286.37 70.47,286.46 70.64,286.57 70.80,286.68 70.97,286.79 71.14,286.90 71.30,287.02 71.47,287.13 71.64,287.25 71.80,287.36 71.97,287.47 72.13,287.58 72.30,287.69 72.47,287.79 72.63,287.89 72.80,287.98 72.97,288.06 73.13,288.14 73.30,288.21 73.47,288.27 73.63,288.33 73.80,288.37 73.97,288.40 74.13,288.43 74.30,288.44 74.47,288.45 74.63,288.44 74.80,288.43 74.97,288.40 75.13,288.37 75.30,288.33 75.46,288.28 75.63,288.23 75.80,288.17 75.96,288.10 76.13,288.03 76.30,287.95 76.46,287.87 76.63,287.78 76.80,287.69 76.96,287.59 77.13,287.49 77.30,287.38 77.46,287.28 77.63,287.17 77.80,287.06 77.96,286.95 78.13,286.84 78.30,286.73 78.46,286.62 78.63,286.51 78.79,286.41 78.96,286.31 79.13,286.21 79.29,286.12 79.46,286.03 79.63,285.94 79.79,285.87 79.96,285.79 80.13,285.73 80.29,285.67 80.46,285.61 80.63,285.57 80.79,285.53 80.96,285.50 81.13,285.47 81.29,285.45 81.46,285.44 81.62,285.44 81.79,285.43 81.96,285.44 82.12,285.44 82.29,285.45 82.46,285.47 82.62,285.49 82.79,285.51 82.96,285.53 83.12,285.56 83.29,285.59 83.46,285.63 83.62,285.67 83.79,285.70 83.96,285.74 84.12,285.79 84.29,285.83 84.46,285.87 84.62,285.91 84.79,285.96 84.96,286.00 85.12,286.04 85.29,286.08 85.45,286.12 85.62,286.15 85.79,286.19 85.95,286.22 86.12,286.24 86.29,286.27 86.45,286.29 86.62,286.30 86.79,286.32 86.95,286.33 87.12,286.33 87.29,286.33 87.45,286.32 87.62,286.32 87.79,286.30 87.95,286.28 88.12,286.26 88.28,286.23 88.45,286.21 88.62,286.17 88.78,286.14 88.95,286.10 89.12,286.05 89.28,286.01 89.45,285.96 89.62,285.91 89.78,285.86 89.95,285.80 90.12,285.75 90.28,285.69 90.45,285.63 90.62,285.57 90.78,285.51 90.95,285.45 91.12,285.38 91.28,285.32 91.45,285.26 91.62,285.20 91.78,285.15 91.95,285.09 92.11,285.03 92.28,284.98 92.45,284.93 92.61,284.88 92.78,284.84 92.95,284.79 93.11,284.76 93.28,284.72 93.45,284.69 93.61,284.66 93.78,284.63 93.95,284.61 94.11,284.59 94.28,284.57 94.45,284.56 94.61,284.55 94.78,284.54 94.95,284.53 95.11,284.53 95.28,284.52 95.44,284.52 95.61,284.52 95.78,284.52 95.94,284.52 96.11,284.53 96.28,284.53 96.44,284.54 96.61,284.55 96.78,284.55 96.94,284.56 97.11,284.57 97.28,284.58 97.44,284.59 97.61,284.60 97.78,284.61 97.94,284.62 98.11,284.63 98.28,284.63 98.44,284.64 98.61,284.65 98.77,284.65 98.94,284.66 99.11,284.66 99.27,284.66 99.44,284.66 99.61,284.66 99.77,284.65 99.94,284.65 100.11,284.64 100.27,284.63 100.44,284.62 100.61,284.61 100.77,284.59 100.94,284.57 101.11,284.55 101.27,284.53 101.44,284.51 101.61,284.49 101.77,284.47 101.94,284.44 102.10,284.41 102.27,284.39 102.44,284.36 102.60,284.33 102.77,284.30 102.94,284.27 103.10,284.23 103.27,284.20 103.44,284.17 103.60,284.13 103.77,284.10 103.94,284.06 104.10,284.03 104.27,284.00 104.44,283.96 104.60,283.93 104.77,283.89 104.94,283.86 105.10,283.83 105.27,283.79 105.43,283.76 105.60,283.73 105.77,283.70 105.93,283.67 106.10,283.65 106.27,283.62 106.43,283.59 106.60,283.57 106.77,283.55 106.93,283.53 107.10,283.51 107.27,283.49 107.43,283.47 107.60,283.45 107.77,283.44 107.93,283.42 108.10,283.41 108.27,283.39 108.43,283.38 108.60,283.37 108.76,283.36 108.93,283.35 109.10,283.33 109.26,283.32 109.43,283.31 109.60,283.30 109.76,283.29 109.93,283.28 110.10,283.28 110.26,283.27 110.43,283.26 110.60,283.25 110.76,283.24 110.93,283.23 111.10,283.22 111.26,283.22 111.43,283.21 111.59,283.20 111.76,283.19 111.93,283.18 112.09,283.17 112.26,283.16 112.43,283.15 112.59,283.14 112.76,283.13 112.93,283.11 113.09,283.10 113.26,283.09 113.43,283.07 113.59,283.06 113.76,283.04 113.93,283.03 114.09,283.01 114.26,283.00 114.43,282.98 114.59,282.96 114.76,282.94 114.92,282.92 115.09,282.90 115.26,282.88 115.42,282.86 115.59,282.84 115.76,282.82 115.92,282.80 116.09,282.78 116.26,282.76 116.42,282.74 116.59,282.72 116.76,282.69 116.92,282.67 117.09,282.65 117.26,282.63 117.42,282.60 117.59,282.58 117.76,282.56 117.92,282.54 118.09,282.52 118.26,282.50 118.42,282.48 118.59,282.46 118.75,282.44 118.92,282.42 119.09,282.40 119.25,282.38 119.42,282.36 119.59,282.34 119.75,282.32 119.92,282.31 120.09,282.29 120.25,282.27 120.42,282.26 120.59,282.24 120.75,282.22 120.92,282.21 121.09,282.19 121.25,282.17 121.42,282.16 121.59,282.14 121.75,282.13 121.92,282.11 122.08,282.09 122.25,282.08 122.42,282.06 122.58,282.04 122.75,282.03 122.92,282.01 123.08,281.99 123.25,281.98 123.42,281.96 123.58,281.95 123.75,281.93 123.92,281.91 124.08,281.90 124.25,281.88 124.42,281.86 124.58,281.85 124.75,281.83 124.92,281.82 125.08,281.80 125.25,281.78 125.41,281.77 125.58,281.75 125.75,281.73 125.91,281.72 126.08,281.70 126.25,281.69 126.41,281.67 126.58,281.65 126.75,281.64 126.91,281.62 127.08,281.60 127.25,281.59 127.41,281.57 127.58,281.56 127.75,281.54 127.91,281.52 128.08,281.51 128.25,281.49 128.41,281.48 128.58,281.46 128.74,281.44 128.91,281.43 129.08,281.41 129.24,281.40 129.41,281.38 129.58,281.36 129.74,281.35 129.91,281.33 130.08,281.32 130.24,281.30 130.41,281.28 130.58,281.27 130.74,281.25 130.91,281.24 131.08,281.22 131.24,281.20 131.41,281.19 131.57,281.17 131.74,281.15 131.91,281.14 132.07,281.12 132.24,281.11 132.41,281.09 132.57,281.07 132.74,281.06 132.91,281.04 133.07,281.03 133.24,281.01 133.41,280.99 133.57,280.98 133.74,280.96 133.91,280.95 134.07,280.93 134.24,280.91 134.41,280.90 134.57,280.88 134.74,280.86 134.91,280.85 135.07,280.83 135.24,280.82 135.40,280.80 135.57,280.78 135.74,280.77 135.90,280.75 136.07,280.73 136.24,280.72 136.40,280.70 136.57,280.69 136.74,280.67 136.90,280.65 137.07,280.64 137.24,280.62 137.40,280.60 137.57,280.59 137.74,280.57 137.90,280.55 138.07,280.54 138.24,280.52 138.40,280.50 138.57,280.49 138.73,280.47 138.90,280.46 139.07,280.44 139.23,280.42 139.40,280.41 139.57,280.39 139.73,280.37 139.90,280.36 141.56,280.19 143.23,280.02 144.89,279.86 146.56,279.69 148.22,279.53 149.89,279.36 151.55,279.19 153.22,279.03 154.88,278.86 156.55,278.70 158.21,278.53 159.88,278.36 161.54,278.20 163.21,278.03 164.87,277.86 166.54,277.70 168.20,277.53 169.87,277.37 171.53,277.20 173.20,277.03 174.86,276.87 176.53,276.70 178.19,276.54 179.86,276.37 181.52,276.20 183.19,276.04 184.85,275.87 186.52,275.71 188.18,275.54 189.85,275.37 191.51,275.21 193.18,275.04 194.84,274.88 196.51,274.71 198.17,274.54 199.84,274.38 201.50,274.21 203.17,274.05 204.83,273.88 206.50,273.71 208.16,273.55 209.83,273.38 211.49,273.22 213.16,273.05 214.82,272.88 216.49,272.72 218.15,272.55 219.82,272.38 221.48,272.22 223.15,272.05 224.81,271.89 226.48,271.72 228.14,271.55 229.81,271.39 231.47,271.22 233.14,271.06 234.80,270.89 236.47,270.72 238.13,270.56 239.80,270.39 241.46,270.23 243.13,270.06 244.79,269.89 246.46,269.73 248.12,269.56 249.79,269.40 251.45,269.23 253.12,269.06 254.78,268.90 256.45,268.73 258.11,268.57 259.78,268.40 261.44,268.23 263.11,268.07 264.77,267.90 266.44,267.73 268.10,267.57 269.77,267.40 271.43,267.24 273.10,267.07 274.76,266.90 276.43,266.74 278.09,266.57 279.76,266.41 281.42,266.24 283.09,266.07 284.75,265.91 286.42,265.74 288.08,265.58 289.75,265.41 291.41,265.24 293.08,265.08 294.74,264.91 296.41,264.75 298.07,264.58 299.74,264.41 301.40,264.25 303.07,264.08 304.73,263.92 306.40,263.75 308.06,263.58 309.73,263.42 311.39,263.25 313.06,263.08 314.72,262.92 316.39,262.75 318.05,262.59 319.72,262.42 321.38,262.25 323.05,262.09 324.71,261.92 326.38,261.76 328.04,261.59 329.71,261.42 331.37,261.26 333.04,261.09 334.70,260.93 336.37,260.76 338.03,260.59 339.70,260.43 341.36,260.26 343.03,260.10 344.69,259.93 346.36,259.76 348.02,259.60 349.69,259.43 351.35,259.27 353.02,259.10 354.68,258.93 356.35,258.77 358.01,258.60 359.68,258.44 361.34,258.27 363.01,258.10 364.67,257.94 366.34,257.77 368.00,257.60 369.67,257.44 371.33,257.27 373.00,257.11 374.66,256.94 376.33,256.77 377.99,256.61 379.66,256.44 381.32,256.28 382.99,256.11 384.65,255.94 386.32,255.78 387.98,255.61 389.65,255.45 391.31,255.28 392.98,255.11 394.64,254.95 396.31,254.78 397.97,254.62 399.64,254.45 401.30,254.28 402.97,254.12 404.63,253.95 406.30,253.79 407.96,253.62 409.63,253.45 411.29,253.29 412.96,253.12 414.62,252.95 416.29,252.79 417.95,252.62 419.62,252.46 421.28,252.29 422.95,252.12 424.61,251.96 426.28,251.79 427.94,251.63 429.61,251.46 431.27,251.29 432.94,251.13 434.60,250.96 436.27,250.80 437.93,250.63 439.60,250.46 441.26,250.30 442.93,250.13 444.59,249.97 446.26,249.80 447.92,249.63 449.59,249.47 451.25,249.30 452.92,249.14 454.58,248.97 456.25,248.80 457.91,248.64 459.58,248.47 461.24,248.31 462.91,248.14 464.57,247.97 466.24,247.81 467.90,247.64 469.57,247.47 471.23,247.31 472.90,247.14 474.56,246.98 476.23,246.81 477.89,246.64 479.56,246.48 481.22,246.31 482.89,246.15 484.55,245.98 486.22,245.81 487.88,245.65 489.55,245.48 491.21,245.32 492.88,245.15 494.54,244.98 496.21,244.82 497.87,244.65 499.54,244.49 501.20,244.32 502.87,244.15 504.53,243.99 506.20,243.82 507.86,243.66 509.53,243.49 511.19,243.32 512.86,243.16 514.52,242.99 516.19,242.82 517.85,242.66 519.52,242.49 521.18,242.33 522.85,242.16 524.51,241.99 526.18,241.83 527.84,241.66 529.51,241.50 531.17,241.33 532.84,241.16 534.50,241.00 536.17,240.83 537.83,240.67 539.50,240.50" fill="none" stroke="#D95319" stroke-width="1.60" stroke-dasharray="3.6,3.6"/>
</g>
<g fill="#161616" stroke="#161616" stroke-width="0.20">
<text x="40.00" y="311.70" font-size="12.00" text-anchor="middle">0</text>
<text x="123.25" y="311.70" font-size="12.00" text-anchor="middle">10</text>
<text x="206.50" y="311.70" font-size="12.00" text-anchor="middle">20</text>
<text x="289.75" y="311.70" font-size="12.00" text-anchor="middle">30</text>
<text x="373.00" y="311.70" font-size="12.00" text-anchor="middle">40</text>
<text x="456.25" y="311.70" font-size="12.00" text-anchor="middle">50</text>
<text x="539.50" y="311.70" font-size="12.00" text-anchor="middle">60</text>
<text x="36.60" y="295.02" font-size="12.00" text-anchor="end">5</text>
<text x="36.60" y="253.50" font-size="12.00" text-anchor="end">10</text>
<text x="289.75" y="328.70" font-size="13.00" text-anchor="middle">t/s</text>
<text x="289.75" y="235.10" font-size="13.20" text-anchor="middle">(c) z-axis position curve</text>
<text transform="translate(14.3,268.15) rotate(-90)" font-size="13" text-anchor="middle">z(t)/m</text>
</g>
<rect x="149.40" y="239.40" width="129.00" height="55.00" fill="#fff" stroke="#b8b8b8" stroke-width="1.00"/>
<path d="M149.40,294.40V293.00M149.40,239.40V240.80M175.20,294.40V293.00M175.20,239.40V240.80M201.00,294.40V293.00M201.00,239.40V240.80M226.80,294.40V293.00M226.80,239.40V240.80M252.60,294.40V293.00M252.60,239.40V240.80M278.40,294.40V293.00M278.40,239.40V240.80M149.40,294.40H150.80M278.40,294.40H277.00M149.40,276.07H150.80M278.40,276.07H277.00M149.40,257.73H150.80M278.40,257.73H277.00M149.40,239.40H150.80M278.40,239.40H277.00" stroke="#b8b8b8" stroke-width="1.00" fill="none"/>
<g clip-path="url(#ci2)">
<polyline points="149.40,244.24 149.53,244.36 149.66,244.46 149.79,244.53 149.92,244.57 150.05,244.58 150.17,244.55 150.30,244.48 150.43,244.38 150.56,244.23 150.69,244.03 150.82,243.80 150.95,243.53 151.08,243.22 151.21,242.88 151.34,242.52 151.46,242.14 151.59,241.77 151.72,241.40 151.85,241.06 151.98,240.75 152.11,240.49 152.24,240.29 152.37,240.16 152.50,240.11 152.62,240.14 152.75,240.27 152.88,240.45 153.01,240.65 153.14,240.86 153.27,241.09 153.40,241.33 153.53,241.59 153.66,241.86 153.79,242.14 153.91,242.44 154.04,242.75 154.17,243.07 154.30,243.40 154.43,243.75 154.56,244.10 154.69,244.45 154.82,244.82 154.95,245.19 155.08,245.57 155.21,245.95 155.33,246.33 155.46,246.72 155.59,247.11 155.72,247.49 155.85,247.88 155.98,248.27 156.11,248.65 156.24,249.03 156.37,249.41 156.50,249.78 156.62,250.14 156.75,250.50 156.88,250.86 157.01,251.21 157.14,251.55 157.27,251.88 157.40,252.20 157.53,252.52 157.66,252.83 157.78,253.13 157.91,253.42 158.04,253.71 158.17,253.98 158.30,254.25 158.43,254.51 158.56,254.76 158.69,255.01 158.82,255.24 158.95,255.47 159.07,255.69 159.20,255.90 159.33,256.11 159.46,256.31 159.59,256.50 159.72,256.69 159.85,256.87 159.98,257.05 160.11,257.22 160.24,257.38 160.37,257.54 160.49,257.70 160.62,257.85 160.75,258.00 160.88,258.15 161.01,258.29 161.14,258.42 161.27,258.56 161.40,258.69 161.53,258.82 161.66,258.95 161.78,259.07 161.91,259.19 162.04,259.31 162.17,259.43 162.30,259.54 162.43,259.66 162.56,259.77 162.69,259.88 162.82,259.99 162.94,260.10 163.07,260.21 163.20,260.31 163.33,260.42 163.46,260.52 163.59,260.63 163.72,260.73 163.85,260.83 163.98,260.93 164.11,261.03 164.24,261.13 164.36,261.23 164.49,261.32 164.62,261.42 164.75,261.51 164.88,261.61 165.01,261.70 165.14,261.80 165.27,261.89 165.40,261.98 165.53,262.07 165.65,262.16 165.78,262.25 165.91,262.34 166.04,262.43 166.17,262.52 166.30,262.61 166.43,262.70 166.56,262.78 166.69,262.87 166.81,262.95 166.94,263.04 167.07,263.12 167.20,263.21 167.33,263.29 167.46,263.37 167.59,263.46 167.72,263.54 167.85,263.62 167.98,263.70 168.10,263.78 168.23,263.86 168.36,263.94 168.49,264.02 168.62,264.09 168.75,264.17 168.88,264.25 169.01,264.33 169.14,264.40 169.27,264.48 169.40,264.55 169.52,264.63 169.65,264.70 169.78,264.78 169.91,264.85 170.04,264.92 170.17,264.99 170.30,265.07 170.43,265.14 170.56,265.21 170.69,265.28 170.81,265.35 170.94,265.42 171.07,265.49 171.20,265.55 171.33,265.62 171.46,265.69 171.59,265.76 171.72,265.82 171.85,265.89 171.97,265.96 172.10,266.02 172.23,266.09 172.36,266.15 172.49,266.22 172.62,266.28 172.75,266.34 172.88,266.41 173.01,266.47 173.14,266.53 173.26,266.59 173.39,266.65 173.52,266.72 173.65,266.78 173.78,266.84 173.91,266.90 174.04,266.96 174.17,267.01 174.30,267.07 174.43,267.13 174.56,267.19 174.68,267.25 174.81,267.30 174.94,267.36 175.07,267.42 175.20,267.47 175.33,267.53 175.46,267.58 175.59,267.64 175.72,267.69 175.84,267.75 175.97,267.80 176.10,267.86 176.23,267.91 176.36,267.96 176.49,268.01 176.62,268.07 176.75,268.12 176.88,268.17 177.01,268.22 177.13,268.27 177.26,268.32 177.39,268.37 177.52,268.42 177.65,268.47 177.78,268.52 177.91,268.57 178.04,268.62 178.17,268.67 178.30,268.71 178.43,268.76 178.55,268.81 178.68,268.86 178.81,268.90 178.94,268.95 179.07,269.00 179.20,269.04 179.33,269.09 179.46,269.13 179.59,269.18 179.72,269.22 179.84,269.27 179.97,269.31 180.10,269.35 180.23,269.40 180.36,269.44 180.49,269.48 180.62,269.53 180.75,269.57 180.88,269.61 181.00,269.65 181.13,269.69 181.26,269.74 181.39,269.78 181.52,269.82 181.65,269.86 181.78,269.90 181.91,269.94 182.04,269.98 182.17,270.02 182.30,270.06 182.42,270.09 182.55,270.13 182.68,270.17 182.81,270.21 182.94,270.25 183.07,270.29 183.20,270.32 183.33,270.36 183.46,270.40 183.59,270.43 183.71,270.47 183.84,270.51 183.97,270.54 184.10,270.58 184.23,270.61 184.36,270.65 184.49,270.68 184.62,270.72 184.75,270.75 184.88,270.79 185.00,270.82 185.13,270.86 185.26,270.89 185.39,270.92 185.52,270.96 185.65,270.99 185.78,271.02 185.91,271.06 186.04,271.09 186.16,271.12 186.29,271.15 186.42,271.18 186.55,271.22 186.68,271.25 186.81,271.28 186.94,271.31 187.07,271.34 187.20,271.37 187.33,271.40 187.46,271.43 187.58,271.46 187.71,271.49 187.84,271.52 187.97,271.55 188.10,271.58 188.23,271.61 188.36,271.64 188.49,271.67 188.62,271.70 188.75,271.72 188.87,271.75 189.00,271.78 189.13,271.81 189.26,271.84 189.39,271.86 189.52,271.89 189.65,271.92 189.78,271.94 189.91,271.97 190.03,272.00 190.16,272.02 190.29,272.05 190.42,272.08 190.55,272.10 190.68,272.13 190.81,272.15 190.94,272.18 191.07,272.20 191.20,272.23 191.32,272.25 191.45,272.28 191.58,272.30 191.71,272.33 191.84,272.35 191.97,272.38 192.10,272.40 192.23,272.42 192.36,272.45 192.49,272.47 192.62,272.49 192.74,272.52 192.87,272.54 193.00,272.56 193.13,272.58 193.26,272.61 193.39,272.63 193.52,272.65 193.65,272.67 193.78,272.70 193.91,272.72 194.03,272.74 194.16,272.76 194.29,272.78 194.42,272.80 194.55,272.83 194.68,272.85 194.81,272.87 194.94,272.89 195.07,272.91 195.19,272.93 195.32,272.95 195.45,272.97 195.58,272.99 195.71,273.01 195.84,273.03 195.97,273.05 196.10,273.07 196.23,273.09 196.36,273.11 196.48,273.13 196.61,273.15 196.74,273.16 196.87,273.18 197.00,273.20 197.13,273.22 197.26,273.24 197.39,273.26 197.52,273.28 197.65,273.29 197.77,273.31 197.90,273.33 198.03,273.35 198.16,273.36 198.29,273.38 198.42,273.40 198.55,273.42 198.68,273.43 198.81,273.45 198.94,273.47 199.06,273.48 199.19,273.50 199.32,273.52 199.45,273.53 199.58,273.55 199.71,273.57 199.84,273.58 199.97,273.60 200.10,273.62 200.23,273.63 200.35,273.65 200.48,273.66 200.61,273.68 200.74,273.69 200.87,273.71 201.00,273.72 201.13,273.74 201.26,273.75 201.39,273.77 201.52,273.78 201.64,273.80 201.77,273.81 201.90,273.83 202.03,273.84 202.16,273.86 202.29,273.87 202.42,273.89 202.55,273.90 202.68,273.91 202.81,273.93 202.94,273.94 203.06,273.96 203.19,273.97 203.32,273.98 203.45,274.00 203.58,274.01 203.71,274.02 203.84,274.04 203.97,274.05 204.10,274.06 204.22,274.08 204.35,274.09 204.48,274.10 204.61,274.11 204.74,274.13 204.87,274.14 205.00,274.15 205.13,274.16 205.26,274.18 205.39,274.19 205.51,274.20 205.64,274.21 205.77,274.23 205.90,274.24 206.03,274.25 206.16,274.26 206.29,274.27 206.42,274.28 206.55,274.30 206.68,274.31 206.81,274.32 206.93,274.33 207.06,274.34 207.19,274.35 207.32,274.36 207.45,274.37 207.58,274.39 207.71,274.40 207.84,274.41 207.97,274.42 208.09,274.43 208.22,274.44 208.35,274.45 208.48,274.46 208.61,274.47 208.74,274.48 208.87,274.49 209.00,274.50 209.13,274.51 209.26,274.52 209.38,274.53 209.51,274.54 209.64,274.55 209.77,274.56 209.90,274.57 210.03,274.58 210.16,274.59 210.29,274.60 210.42,274.61 210.55,274.62 210.67,274.63 210.80,274.64 210.93,274.65 211.06,274.66 211.19,274.67 211.32,274.67 211.45,274.68 211.58,274.69 211.71,274.70 211.84,274.71 211.97,274.72 212.09,274.73 212.22,274.74 212.35,274.74 212.48,274.75 212.61,274.76 212.74,274.77 212.87,274.78 213.00,274.79 213.13,274.80 213.25,274.80 213.38,274.81 213.51,274.82 213.64,274.83 213.77,274.84 213.90,274.84 214.03,274.85 214.16,274.86 214.29,274.87 214.42,274.88 214.54,274.88 214.67,274.89 214.80,274.90 214.93,274.91 215.06,274.91 215.19,274.92 215.32,274.93 215.45,274.94 215.58,274.94 215.71,274.95 215.83,274.96 215.96,274.96 216.09,274.97 216.22,274.98 216.35,274.99 216.48,274.99 216.61,275.00 216.74,275.01 216.87,275.01 217.00,275.02 217.12,275.03 217.25,275.03 217.38,275.04 217.51,275.05 217.64,275.05 217.77,275.06 217.90,275.07 218.03,275.07 218.16,275.08 218.29,275.09 218.41,275.09 218.54,275.10 218.67,275.11 218.80,275.11 218.93,275.12 219.06,275.12 219.19,275.13 219.32,275.14 219.45,275.14 219.58,275.15 219.70,275.15 219.83,275.16 219.96,275.17 220.09,275.17 220.22,275.18 220.35,275.18 220.48,275.19 220.61,275.19 220.74,275.20 220.87,275.21 220.99,275.21 221.12,275.22 221.25,275.22 221.38,275.23 221.51,275.23 221.64,275.24 221.77,275.24 221.90,275.25 222.03,275.25 222.16,275.26 222.28,275.27 222.41,275.27 222.54,275.28 222.67,275.28 222.80,275.29 222.93,275.29 223.06,275.30 223.19,275.30 223.32,275.31 223.45,275.31 223.57,275.32 223.70,275.32 223.83,275.33 223.96,275.33 224.09,275.34 224.22,275.34 224.35,275.34 224.48,275.35 224.61,275.35 224.74,275.36 224.87,275.36 224.99,275.37 225.12,275.37 225.25,275.38 225.38,275.38 225.51,275.39 225.64,275.39 225.77,275.39 225.90,275.40 226.03,275.40 226.15,275.41 226.28,275.41 226.41,275.42 226.54,275.42 226.67,275.42 226.80,275.43 226.93,275.43 227.06,275.44 227.19,275.44 227.32,275.44 227.44,275.45 227.57,275.45 227.70,275.46 227.83,275.46 227.96,275.46 228.09,275.47 228.22,275.47 228.35,275.48 228.48,275.48 228.61,275.48 228.73,275.49 228.86,275.49 228.99,275.50 229.12,275.50 229.25,275.50 229.38,275.51 229.51,275.51 229.64,275.51 229.77,275.52 229.90,275.52 230.02,275.52 230.15,275.53 230.28,275.53 230.41,275.53 230.54,275.54 230.67,275.54 230.80,275.54 230.93,275.55 231.06,275.55 231.19,275.55 231.31,275.56 231.44,275.56 231.57,275.56 231.70,275.57 231.83,275.57 231.96,275.57 232.09,275.58 232.22,275.58 232.35,275.58 232.48,275.59 232.60,275.59 232.73,275.59 232.86,275.60 232.99,275.60 233.12,275.60 233.25,275.61 233.38,275.61 233.51,275.61 233.64,275.61 233.77,275.62 233.89,275.62 234.02,275.62 234.15,275.63 234.28,275.63 234.41,275.63 234.54,275.63 234.67,275.64 234.80,275.64 234.93,275.64 235.06,275.65 235.19,275.65 235.31,275.65 235.44,275.65 235.57,275.66 235.70,275.66 235.83,275.66 235.96,275.66 236.09,275.67 236.22,275.67 236.35,275.67 236.47,275.67 236.60,275.68 236.73,275.68 236.86,275.68 236.99,275.68 237.12,275.69 237.25,275.69 237.38,275.69 237.51,275.69 237.64,275.70 237.76,275.70 237.89,275.70 238.02,275.70 238.15,275.71 238.28,275.71 238.41,275.71 238.54,275.71 238.67,275.72 238.80,275.72 238.93,275.72 239.06,275.72 239.18,275.72 239.31,275.73 239.44,275.73 239.57,275.73 239.70,275.73 239.83,275.74 239.96,275.74 240.09,275.74 240.22,275.74 240.34,275.74 240.47,275.75 240.60,275.75 240.73,275.75 240.86,275.75 240.99,275.75 241.12,275.76 241.25,275.76 241.38,275.76 241.51,275.76 241.63,275.76 241.76,275.77 241.89,275.77 242.02,275.77 242.15,275.77 242.28,275.77 242.41,275.78 242.54,275.78 242.67,275.78 242.80,275.78 242.92,275.78 243.05,275.79 243.18,275.79 243.31,275.79 243.44,275.79 243.57,275.79 243.70,275.79 243.83,275.80 243.96,275.80 244.09,275.80 244.22,275.80 244.34,275.80 244.47,275.80 244.60,275.81 244.73,275.81 244.86,275.81 244.99,275.81 245.12,275.81 245.25,275.81 245.38,275.82 245.50,275.82 245.63,275.82 245.76,275.82 245.89,275.82 246.02,275.82 246.15,275.83 246.28,275.83 246.41,275.83 246.54,275.83 246.67,275.83 246.79,275.83 246.92,275.84 247.05,275.84 247.18,275.84 247.31,275.84 247.44,275.84 247.57,275.84 247.70,275.84 247.83,275.85 247.96,275.85 248.08,275.85 248.21,275.85 248.34,275.85 248.47,275.85 248.60,275.85 248.73,275.86 248.86,275.86 248.99,275.86 249.12,275.86 249.25,275.86 249.38,275.86 249.50,275.86 249.63,275.86 249.76,275.87 249.89,275.87 250.02,275.87 250.15,275.87 250.28,275.87 250.41,275.87 250.54,275.87 250.66,275.87 250.79,275.88 250.92,275.88 251.05,275.88 251.18,275.88 251.31,275.88 251.44,275.88 251.57,275.88 251.70,275.88 251.83,275.89 251.95,275.89 252.08,275.89 252.21,275.89 252.34,275.89 252.47,275.89 252.60,275.89 252.73,275.89 252.86,275.89 252.99,275.90 253.12,275.90 253.25,275.90 253.37,275.90 253.50,275.90 253.63,275.90 253.76,275.90 253.89,275.90 254.02,275.90 254.15,275.91 254.28,275.91 254.41,275.91 254.53,275.91 254.66,275.91 254.79,275.91 254.92,275.91 255.05,275.91 255.18,275.91 255.31,275.91 255.44,275.92 255.57,275.92 255.70,275.92 255.82,275.92 255.95,275.92 256.08,275.92 256.21,275.92 256.34,275.92 256.47,275.92 256.60,275.92 256.73,275.93 256.86,275.93 256.99,275.93 257.12,275.93 257.24,275.93 257.37,275.93 257.50,275.93 257.63,275.93 257.76,275.93 257.89,275.93 258.02,275.93 258.15,275.94 258.28,275.94 258.40,275.94 258.53,275.94 258.66,275.94 258.79,275.94 258.92,275.94 259.05,275.94 259.18,275.94 259.31,275.94 259.44,275.94 259.57,275.94 259.69,275.94 259.82,275.95 259.95,275.95 260.08,275.95 260.21,275.95 260.34,275.95 260.47,275.95 260.60,275.95 260.73,275.95 260.86,275.95 260.99,275.95 261.11,275.95 261.24,275.95 261.37,275.95 261.50,275.96 261.63,275.96 261.76,275.96 261.89,275.96 262.02,275.96 262.15,275.96 262.27,275.96 262.40,275.96 262.53,275.96 262.66,275.96 262.79,275.96 262.92,275.96 263.05,275.96 263.18,275.96 263.31,275.97 263.44,275.97 263.56,275.97 263.69,275.97 263.82,275.97 263.95,275.97 264.08,275.97 264.21,275.97 264.34,275.97 264.47,275.97 264.60,275.97 264.73,275.97 264.86,275.97 264.98,275.97 265.11,275.97 265.24,275.97 265.37,275.98 265.50,275.98 265.63,275.98 265.76,275.98 265.89,275.98 266.02,275.98 266.14,275.98 266.27,275.98 266.40,275.98 266.53,275.98 266.66,275.98 266.79,275.98 266.92,275.98 267.05,275.98 267.18,275.98 267.31,275.98 267.44,275.98 267.56,275.98 267.69,275.99 267.82,275.99 267.95,275.99 268.08,275.99 268.21,275.99 268.34,275.99 268.47,275.99 268.60,275.99 268.72,275.99 268.85,275.99 268.98,275.99 269.11,275.99 269.24,275.99 269.37,275.99 269.50,275.99 269.63,275.99 269.76,275.99 269.89,275.99 270.01,275.99 270.14,275.99 270.27,276.00 270.40,276.00 270.53,276.00 270.66,276.00 270.79,276.00 270.92,276.00 271.05,276.00 271.18,276.00 271.31,276.00 271.43,276.00 271.56,276.00 271.69,276.00 271.82,276.00 271.95,276.00 272.08,276.00 272.21,276.00 272.34,276.00 272.47,276.00 272.59,276.00 272.72,276.00 272.85,276.00 272.98,276.00 273.11,276.00 273.24,276.01 273.37,276.01 273.50,276.01 273.63,276.01 273.76,276.01 273.88,276.01 274.01,276.01 274.14,276.01 274.27,276.01 274.40,276.01 274.53,276.01 274.66,276.01 274.79,276.01 274.92,276.01 275.05,276.01 275.17,276.01 275.30,276.01 275.43,276.01 275.56,276.01 275.69,276.01 275.82,276.01 275.95,276.01 276.08,276.01 276.21,276.01 276.34,276.01 276.46,276.01 276.59,276.01 276.72,276.02 276.85,276.02 276.98,276.02 277.11,276.02 277.24,276.02 277.37,276.02 277.50,276.02 277.63,276.02 277.75,276.02 277.88,276.02 278.01,276.02 278.14,276.02 278.27,276.02 278.40,276.02" fill="none" stroke="#0072BD" stroke-width="1.60" stroke-linejoin="round"/>
<polyline points="149.40,247.83 149.53,247.30 149.66,246.77 149.79,246.24 149.92,245.73 150.05,245.22 150.17,244.73 150.30,244.26 150.43,243.81 150.56,243.38 150.69,242.97 150.82,242.59 150.95,242.24 151.08,241.93 151.21,241.64 151.34,241.39 151.46,241.18 151.59,241.00 151.72,240.86 151.85,240.76 151.98,240.70 152.11,240.68 152.24,240.70 152.37,240.75 152.50,240.84 152.62,240.97 152.75,241.13 152.88,241.32 153.01,241.55 153.14,241.82 153.27,242.12 153.40,242.45 153.53,242.81 153.66,243.21 153.79,243.64 153.91,244.10 154.04,244.60 154.17,245.12 154.30,245.67 154.43,246.25 154.56,246.86 154.69,247.49 154.82,248.15 154.95,248.84 155.08,249.55 155.21,250.28 155.33,251.04 155.46,251.81 155.59,252.61 155.72,253.42 155.85,254.26 155.98,255.10 156.11,255.97 156.24,256.84 156.37,257.73 156.50,258.63 156.62,259.54 156.75,260.46 156.88,261.39 157.01,262.32 157.14,263.26 157.27,264.20 157.40,265.14 157.53,266.09 157.66,267.03 157.78,267.97 157.91,268.91 158.04,269.84 158.17,270.77 158.30,271.69 158.43,272.60 158.56,273.50 158.69,274.39 158.82,275.27 158.95,276.13 159.07,276.98 159.20,277.81 159.33,278.62 159.46,279.42 159.59,280.20 159.72,280.95 159.85,281.68 159.98,282.39 160.11,283.08 160.24,283.74 160.37,284.38 160.49,284.98 160.62,285.56 160.75,286.12 160.88,286.64 161.01,287.13 161.14,287.59 161.27,288.02 161.40,288.42 161.53,288.79 161.66,289.12 161.78,289.42 161.91,289.68 162.04,289.91 162.17,290.10 162.30,290.26 162.43,290.39 162.56,290.48 162.69,290.53 162.82,290.55 162.94,290.54 163.07,290.51 163.20,290.46 163.33,290.39 163.46,290.31 163.59,290.20 163.72,290.07 163.85,289.93 163.98,289.76 164.11,289.58 164.24,289.38 164.36,289.16 164.49,288.93 164.62,288.67 164.75,288.40 164.88,288.12 165.01,287.81 165.14,287.50 165.27,287.16 165.40,286.82 165.53,286.46 165.65,286.08 165.78,285.70 165.91,285.30 166.04,284.89 166.17,284.47 166.30,284.03 166.43,283.59 166.56,283.14 166.69,282.68 166.81,282.22 166.94,281.75 167.07,281.27 167.20,280.78 167.33,280.29 167.46,279.80 167.59,279.31 167.72,278.81 167.85,278.31 167.98,277.81 168.10,277.31 168.23,276.81 168.36,276.31 168.49,275.82 168.62,275.32 168.75,274.83 168.88,274.35 169.01,273.87 169.14,273.40 169.27,272.93 169.40,272.47 169.52,272.02 169.65,271.58 169.78,271.15 169.91,270.73 170.04,270.32 170.17,269.92 170.30,269.53 170.43,269.16 170.56,268.80 170.69,268.45 170.81,268.12 170.94,267.80 171.07,267.50 171.20,267.21 171.33,266.94 171.46,266.69 171.59,266.46 171.72,266.24 171.85,266.04 171.97,265.85 172.10,265.69 172.23,265.55 172.36,265.42 172.49,265.31 172.62,265.22 172.75,265.15 172.88,265.11 173.01,265.08 173.14,265.07 173.26,265.07 173.39,265.10 173.52,265.14 173.65,265.20 173.78,265.27 173.91,265.36 174.04,265.47 174.17,265.59 174.30,265.72 174.43,265.88 174.56,266.04 174.68,266.22 174.81,266.42 174.94,266.63 175.07,266.85 175.20,267.09 175.33,267.34 175.46,267.60 175.59,267.87 175.72,268.16 175.84,268.46 175.97,268.76 176.10,269.08 176.23,269.41 176.36,269.74 176.49,270.08 176.62,270.44 176.75,270.79 176.88,271.16 177.01,271.53 177.13,271.90 177.26,272.28 177.39,272.66 177.52,273.05 177.65,273.44 177.78,273.83 177.91,274.22 178.04,274.61 178.17,275.00 178.30,275.39 178.43,275.78 178.55,276.17 178.68,276.55 178.81,276.93 178.94,277.31 179.07,277.68 179.20,278.04 179.33,278.40 179.46,278.75 179.59,279.09 179.72,279.43 179.84,279.75 179.97,280.07 180.10,280.38 180.23,280.67 180.36,280.96 180.49,281.23 180.62,281.49 180.75,281.74 180.88,281.98 181.00,282.20 181.13,282.41 181.26,282.61 181.39,282.79 181.52,282.96 181.65,283.11 181.78,283.25 181.91,283.37 182.04,283.47 182.17,283.56 182.30,283.64 182.42,283.69 182.55,283.73 182.68,283.76 182.81,283.77 182.94,283.76 183.07,283.75 183.20,283.73 183.33,283.69 183.46,283.65 183.59,283.60 183.71,283.54 183.84,283.48 183.97,283.40 184.10,283.32 184.23,283.22 184.36,283.12 184.49,283.01 184.62,282.89 184.75,282.77 184.88,282.64 185.00,282.50 185.13,282.35 185.26,282.20 185.39,282.03 185.52,281.87 185.65,281.69 185.78,281.51 185.91,281.33 186.04,281.14 186.16,280.95 186.29,280.75 186.42,280.54 186.55,280.33 186.68,280.12 186.81,279.91 186.94,279.69 187.07,279.47 187.20,279.24 187.33,279.02 187.46,278.79 187.58,278.56 187.71,278.34 187.84,278.11 187.97,277.88 188.10,277.65 188.23,277.42 188.36,277.19 188.49,276.96 188.62,276.74 188.75,276.52 188.87,276.29 189.00,276.08 189.13,275.86 189.26,275.65 189.39,275.44 189.52,275.24 189.65,275.04 189.78,274.84 189.91,274.65 190.03,274.47 190.16,274.29 190.29,274.12 190.42,273.95 190.55,273.79 190.68,273.63 190.81,273.49 190.94,273.35 191.07,273.21 191.20,273.09 191.32,272.97 191.45,272.86 191.58,272.76 191.71,272.67 191.84,272.58 191.97,272.51 192.10,272.44 192.23,272.38 192.36,272.33 192.49,272.29 192.62,272.26 192.74,272.23 192.87,272.22 193.00,272.22 193.13,272.22 193.26,272.23 193.39,272.24 193.52,272.26 193.65,272.29 193.78,272.32 193.91,272.36 194.03,272.40 194.16,272.45 194.29,272.50 194.42,272.56 194.55,272.63 194.68,272.70 194.81,272.77 194.94,272.85 195.07,272.93 195.19,273.02 195.32,273.12 195.45,273.21 195.58,273.32 195.71,273.42 195.84,273.53 195.97,273.65 196.10,273.76 196.23,273.88 196.36,274.01 196.48,274.13 196.61,274.26 196.74,274.40 196.87,274.53 197.00,274.67 197.13,274.81 197.26,274.95 197.39,275.09 197.52,275.23 197.65,275.37 197.77,275.52 197.90,275.66 198.03,275.81 198.16,275.96 198.29,276.10 198.42,276.25 198.55,276.39 198.68,276.54 198.81,276.68 198.94,276.82 199.06,276.96 199.19,277.10 199.32,277.24 199.45,277.37 199.58,277.50 199.71,277.63 199.84,277.76 199.97,277.88 200.10,278.00 200.23,278.12 200.35,278.23 200.48,278.34 200.61,278.45 200.74,278.55 200.87,278.65 201.00,278.74 201.13,278.83 201.26,278.92 201.39,279.00 201.52,279.07 201.64,279.14 201.77,279.20 201.90,279.26 202.03,279.32 202.16,279.37 202.29,279.41 202.42,279.45 202.55,279.48 202.68,279.50 202.81,279.52 202.94,279.54 203.06,279.55 203.19,279.55 203.32,279.55 203.45,279.54 203.58,279.53 203.71,279.52 203.84,279.50 203.97,279.48 204.10,279.45 204.22,279.42 204.35,279.38 204.48,279.34 204.61,279.30 204.74,279.26 204.87,279.21 205.00,279.15 205.13,279.10 205.26,279.04 205.39,278.97 205.51,278.90 205.64,278.83 205.77,278.76 205.90,278.69 206.03,278.61 206.16,278.53 206.29,278.44 206.42,278.36 206.55,278.27 206.68,278.18 206.81,278.08 206.93,277.99 207.06,277.89 207.19,277.80 207.32,277.70 207.45,277.60 207.58,277.50 207.71,277.40 207.84,277.29 207.97,277.19 208.09,277.09 208.22,276.98 208.35,276.88 208.48,276.78 208.61,276.67 208.74,276.57 208.87,276.47 209.00,276.37 209.13,276.27 209.26,276.17 209.38,276.07 209.51,275.98 209.64,275.88 209.77,275.79 209.90,275.70 210.03,275.61 210.16,275.53 210.29,275.44 210.42,275.36 210.55,275.28 210.67,275.21 210.80,275.13 210.93,275.06 211.06,275.00 211.19,274.93 211.32,274.87 211.45,274.81 211.58,274.76 211.71,274.71 211.84,274.66 211.97,274.62 212.09,274.58 212.22,274.55 212.35,274.52 212.48,274.49 212.61,274.47 212.74,274.45 212.87,274.44 213.00,274.42 213.13,274.42 213.25,274.42 213.38,274.42 213.51,274.42 213.64,274.43 213.77,274.44 213.90,274.45 214.03,274.46 214.16,274.48 214.29,274.50 214.42,274.52 214.54,274.55 214.67,274.57 214.80,274.60 214.93,274.63 215.06,274.67 215.19,274.70 215.32,274.74 215.45,274.78 215.58,274.82 215.71,274.87 215.83,274.91 215.96,274.96 216.09,275.01 216.22,275.06 216.35,275.11 216.48,275.17 216.61,275.22 216.74,275.28 216.87,275.34 217.00,275.40 217.12,275.46 217.25,275.52 217.38,275.58 217.51,275.64 217.64,275.71 217.77,275.77 217.90,275.84 218.03,275.90 218.16,275.97 218.29,276.03 218.41,276.10 218.54,276.17 218.67,276.23 218.80,276.30 218.93,276.36 219.06,276.42 219.19,276.49 219.32,276.55 219.45,276.61 219.58,276.68 219.70,276.74 219.83,276.80 219.96,276.85 220.09,276.91 220.22,276.97 220.35,277.02 220.48,277.07 220.61,277.12 220.74,277.17 220.87,277.22 220.99,277.27 221.12,277.31 221.25,277.35 221.38,277.39 221.51,277.43 221.64,277.47 221.77,277.50 221.90,277.53 222.03,277.56 222.16,277.59 222.28,277.61 222.41,277.63 222.54,277.65 222.67,277.67 222.80,277.68 222.93,277.70 223.06,277.70 223.19,277.71 223.32,277.72 223.45,277.72 223.57,277.72 223.70,277.71 223.83,277.71 223.96,277.70 224.09,277.69 224.22,277.68 224.35,277.67 224.48,277.65 224.61,277.64 224.74,277.62 224.87,277.60 224.99,277.57 225.12,277.55 225.25,277.52 225.38,277.49 225.51,277.47 225.64,277.43 225.77,277.40 225.90,277.37 226.03,277.33 226.15,277.30 226.28,277.26 226.41,277.22 226.54,277.18 226.67,277.13 226.80,277.09 226.93,277.05 227.06,277.00 227.19,276.96 227.32,276.91 227.44,276.87 227.57,276.82 227.70,276.77 227.83,276.72 227.96,276.67 228.09,276.62 228.22,276.57 228.35,276.52 228.48,276.48 228.61,276.43 228.73,276.38 228.86,276.33 228.99,276.28 229.12,276.23 229.25,276.18 229.38,276.14 229.51,276.09 229.64,276.05 229.77,276.00 229.90,275.96 230.02,275.92 230.15,275.87 230.28,275.83 230.41,275.79 230.54,275.75 230.67,275.72 230.80,275.68 230.93,275.65 231.06,275.62 231.19,275.58 231.31,275.56 231.44,275.53 231.57,275.50 231.70,275.48 231.83,275.45 231.96,275.43 232.09,275.41 232.22,275.40 232.35,275.38 232.48,275.37 232.60,275.36 232.73,275.35 232.86,275.34 232.99,275.34 233.12,275.33 233.25,275.33 233.38,275.33 233.51,275.34 233.64,275.34 233.77,275.34 233.89,275.35 234.02,275.35 234.15,275.36 234.28,275.37 234.41,275.38 234.54,275.39 234.67,275.40 234.80,275.41 234.93,275.43 235.06,275.44 235.19,275.46 235.31,275.47 235.44,275.49 235.57,275.51 235.70,275.53 235.83,275.55 235.96,275.57 236.09,275.59 236.22,275.61 236.35,275.64 236.47,275.66 236.60,275.68 236.73,275.71 236.86,275.73 236.99,275.76 237.12,275.79 237.25,275.81 237.38,275.84 237.51,275.87 237.64,275.90 237.76,275.92 237.89,275.95 238.02,275.98 238.15,276.01 238.28,276.04 238.41,276.07 238.54,276.10 238.67,276.12 238.80,276.15 238.93,276.18 239.06,276.21 239.18,276.24 239.31,276.27 239.44,276.29 239.57,276.32 239.70,276.35 239.83,276.37 239.96,276.40 240.09,276.42 240.22,276.45 240.34,276.47 240.47,276.50 240.60,276.52 240.73,276.54 240.86,276.56 240.99,276.59 241.12,276.61 241.25,276.62 241.38,276.64 241.51,276.66 241.63,276.68 241.76,276.69 241.89,276.71 242.02,276.72 242.15,276.73 242.28,276.74 242.41,276.75 242.54,276.76 242.67,276.77 242.80,276.78 242.92,276.79 243.05,276.79 243.18,276.79 243.31,276.80 243.44,276.80 243.57,276.80 243.70,276.80 243.83,276.80 243.96,276.80 244.09,276.79 244.22,276.79 244.34,276.79 244.47,276.78 244.60,276.78 244.73,276.77 244.86,276.76 244.99,276.75 245.12,276.75 245.25,276.74 245.38,276.73 245.50,276.72 245.63,276.70 245.76,276.69 245.89,276.68 246.02,276.67 246.15,276.65 246.28,276.64 246.41,276.62 246.54,276.61 246.67,276.59 246.79,276.58 246.92,276.56 247.05,276.54 247.18,276.52 247.31,276.51 247.44,276.49 247.57,276.47 247.70,276.45 247.83,276.43 247.96,276.41 248.08,276.39 248.21,276.37 248.34,276.36 248.47,276.34 248.60,276.32 248.73,276.30 248.86,276.28 248.99,276.26 249.12,276.24 249.25,276.22 249.38,276.20 249.50,276.18 249.63,276.16 249.76,276.14 249.89,276.12 250.02,276.10 250.15,276.08 250.28,276.07 250.41,276.05 250.54,276.03 250.66,276.02 250.79,276.00 250.92,275.98 251.05,275.97 251.18,275.95 251.31,275.94 251.44,275.93 251.57,275.91 251.70,275.90 251.83,275.89 251.95,275.88 252.08,275.87 252.21,275.86 252.34,275.85 252.47,275.84 252.60,275.83 252.73,275.82 252.86,275.82 252.99,275.81 253.12,275.81 253.25,275.80 253.37,275.80 253.50,275.80 253.63,275.79 253.76,275.79 253.89,275.79 254.02,275.79 254.15,275.79 254.28,275.79 254.41,275.79 254.53,275.80 254.66,275.80 254.79,275.80 254.92,275.80 255.05,275.81 255.18,275.81 255.31,275.81 255.44,275.82 255.57,275.82 255.70,275.83 255.82,275.83 255.95,275.84 256.08,275.84 256.21,275.85 256.34,275.85 256.47,275.86 256.60,275.87 256.73,275.87 256.86,275.88 256.99,275.89 257.12,275.89 257.24,275.90 257.37,275.91 257.50,275.92 257.63,275.92 257.76,275.93 257.89,275.94 258.02,275.95 258.15,275.96 258.28,275.97 258.40,275.98 258.53,275.98 258.66,275.99 258.79,276.00 258.92,276.01 259.05,276.02 259.18,276.03 259.31,276.04 259.44,276.05 259.57,276.06 259.69,276.07 259.82,276.07 259.95,276.08 260.08,276.09 260.21,276.10 260.34,276.11 260.47,276.12 260.60,276.12 260.73,276.13 260.86,276.14 260.99,276.15 261.11,276.16 261.24,276.16 261.37,276.17 261.50,276.18 261.63,276.18 261.76,276.19 261.89,276.20 262.02,276.20 262.15,276.21 262.27,276.21 262.40,276.22 262.53,276.22 262.66,276.23 262.79,276.23 262.92,276.23 263.05,276.24 263.18,276.24 263.31,276.24 263.44,276.24 263.56,276.25 263.69,276.25 263.82,276.25 263.95,276.25 264.08,276.25 264.21,276.25 264.34,276.25 264.47,276.25 264.60,276.25 264.73,276.25 264.86,276.25 264.98,276.25 265.11,276.24 265.24,276.24 265.37,276.24 265.50,276.24 265.63,276.23 265.76,276.23 265.89,276.23 266.02,276.22 266.14,276.22 266.27,276.22 266.40,276.21 266.53,276.21 266.66,276.20 266.79,276.20 266.92,276.19 267.05,276.19 267.18,276.18 267.31,276.18 267.44,276.17 267.56,276.17 267.69,276.16 267.82,276.15 267.95,276.15 268.08,276.14 268.21,276.14 268.34,276.13 268.47,276.12 268.60,276.12 268.72,276.11 268.85,276.11 268.98,276.10 269.11,276.09 269.24,276.09 269.37,276.08 269.50,276.08 269.63,276.07 269.76,276.06 269.89,276.06 270.01,276.05 270.14,276.05 270.27,276.04 270.40,276.04 270.53,276.03 270.66,276.03 270.79,276.02 270.92,276.02 271.05,276.01 271.18,276.01 271.31,276.00 271.43,276.00 271.56,276.00 271.69,275.99 271.82,275.99 271.95,275.99 272.08,275.99 272.21,275.98 272.34,275.98 272.47,275.98 272.59,275.98 272.72,275.98 272.85,275.98 272.98,275.98 273.11,275.98 273.24,275.97 273.37,275.98 273.50,275.98 273.63,275.98 273.76,275.98 273.88,275.98 274.01,275.98 274.14,275.98 274.27,275.98 274.40,275.98 274.53,275.98 274.66,275.98 274.79,275.98 274.92,275.98 275.05,275.98 275.17,275.98 275.30,275.98 275.43,275.98 275.56,275.98 275.69,275.98 275.82,275.98 275.95,275.98 276.08,275.98 276.21,275.98 276.34,275.98 276.46,275.98 276.59,275.98 276.72,275.98 276.85,275.98 276.98,275.98 277.11,275.98 277.24,275.98 277.37,275.98 277.50,275.98 277.63,275.98 277.75,275.98 277.88,275.98 278.01,275.98 278.14,275.98 278.27,275.98 278.40,275.98" fill="none" stroke="#D95319" stroke-width="1.60" stroke-dasharray="3.4,3.6"/>
</g>
<g fill="#161616" stroke="#161616" stroke-width="0.12">
<text x="149.40" y="301.90" font-size="5.00" text-anchor="middle">0</text>
<text x="175.20" y="301.90" font-size="5.00" text-anchor="middle">2</text>
<text x="201.00" y="301.90" font-size="5.00" text-anchor="middle">4</text>
<text x="226.80" y="301.90" font-size="5.00" text-anchor="middle">6</text>
<text x="252.60" y="301.90" font-size="5.00" text-anchor="middle">8</text>
<text x="278.40" y="301.90" font-size="5.00" text-anchor="middle">10</text>
<text x="148.10" y="296.20" font-size="5.20" text-anchor="end">-1</text>
<text x="148.10" y="277.87" font-size="5.20" text-anchor="end">0</text>
<text x="148.10" y="259.53" font-size="5.20" text-anchor="end">1</text>
<text x="148.10" y="241.20" font-size="5.20" text-anchor="end">2</text>
<text x="213.90" y="309.10" font-size="5.50" text-anchor="middle">t/s</text>
<text transform="translate(138.1,266.90) rotate(-90)" font-size="5.6" text-anchor="middle">e<tspan font-size="3.8" dy="1.4">z</tspan><tspan dy="-1.4">(t)/m</tspan></text>
</g>
<rect x="198.3" y="242.40" width="76.00" height="16.80" fill="#fff" stroke="#b8b8b8" stroke-width="0.8"/>
<path d="M200.4,247.10H218.4" stroke="#0072BD" stroke-width="1.60"/>
<path d="M200.4,255.10H218.4" stroke="#D95319" stroke-width="1.60" stroke-dasharray="4.5,2.8"/>
<g fill="#161616" stroke="#161616" stroke-width="0.12">
<text x="219.70" y="249.40" font-size="6.00" text-anchor="start">our controller</text>
<text x="219.70" y="257.50" font-size="6.00" text-anchor="start">traditional controller</text>
</g>
<rect x="407.5" y="245.40" width="126.80" height="31.0" fill="#fff" stroke="#b8b8b8" stroke-width="1.00"/>
<path d="M408.9,253.70H427" stroke="#0072BD" stroke-width="1.7"/>
<path d="M408.9,268.50H427" stroke="#D95319" stroke-width="1.7" stroke-dasharray="4,3"/>
<g fill="#161616" stroke="#161616" stroke-width="0.20">
<text x="428.60" y="258.70" font-size="11.90" text-anchor="start">our controller</text>
<text x="428.60" y="273.70" font-size="11.90" text-anchor="start">traditional controller</text>
</g>
</svg>
</body></html>
